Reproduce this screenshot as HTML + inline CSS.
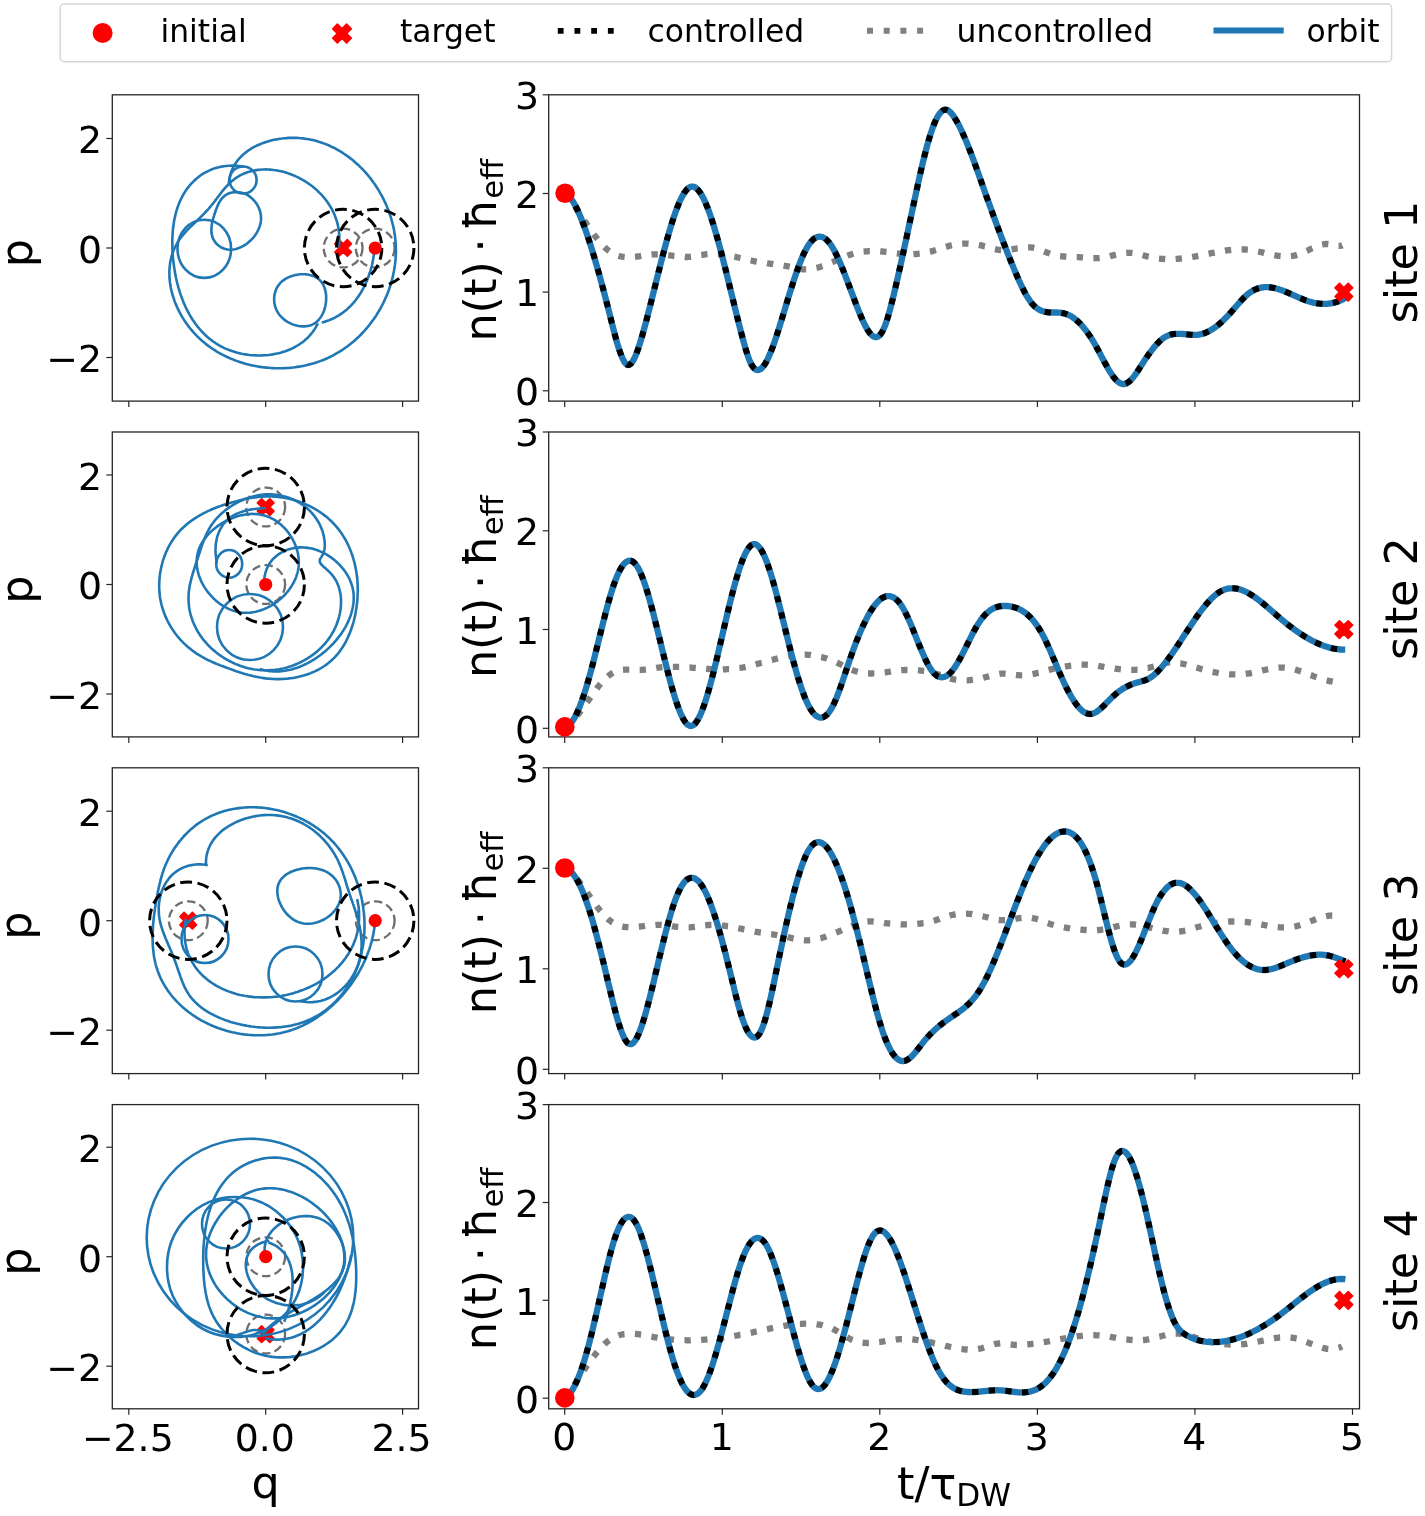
<!DOCTYPE html>
<html><head><meta charset="utf-8"><title>figure</title>
<style>html,body{margin:0;padding:0;background:#fff;overflow:hidden}svg{display:block}</style>
</head><body>
<svg width="1425" height="1516" viewBox="0 0 1425 1516" font-family="'DejaVu Sans', 'Liberation Sans', sans-serif">
<rect width="1425" height="1516" fill="#ffffff"/>
<rect x="112.3" y="94.8" width="306.2" height="306.3" fill="none" stroke="#262626" stroke-width="1.3"/>
<line x1="128.8" y1="401.1" x2="128.8" y2="407.1" stroke="#262626" stroke-width="1.2"/>
<line x1="265.7" y1="401.1" x2="265.7" y2="407.1" stroke="#262626" stroke-width="1.2"/>
<line x1="402.6" y1="401.1" x2="402.6" y2="407.1" stroke="#262626" stroke-width="1.2"/>
<line x1="106.3" y1="357.5" x2="112.3" y2="357.5" stroke="#262626" stroke-width="1.2"/>
<text x="102.0" y="372.3" font-size="37.8" text-anchor="end">−2</text>
<line x1="106.3" y1="248.0" x2="112.3" y2="248.0" stroke="#262626" stroke-width="1.2"/>
<text x="102.0" y="262.8" font-size="37.8" text-anchor="end">0</text>
<line x1="106.3" y1="138.5" x2="112.3" y2="138.5" stroke="#262626" stroke-width="1.2"/>
<text x="102.0" y="153.3" font-size="37.8" text-anchor="end">2</text>
<text x="31.5" y="253.0" font-size="44.5" text-anchor="middle" transform="rotate(-90 31.5 253.0)">p</text>
<rect x="548.7" y="94.8" width="810.8" height="306.3" fill="none" stroke="#262626" stroke-width="1.3"/>
<line x1="564.7" y1="401.1" x2="564.7" y2="407.1" stroke="#262626" stroke-width="1.2"/>
<line x1="722.3" y1="401.1" x2="722.3" y2="407.1" stroke="#262626" stroke-width="1.2"/>
<line x1="879.8" y1="401.1" x2="879.8" y2="407.1" stroke="#262626" stroke-width="1.2"/>
<line x1="1037.4" y1="401.1" x2="1037.4" y2="407.1" stroke="#262626" stroke-width="1.2"/>
<line x1="1194.9" y1="401.1" x2="1194.9" y2="407.1" stroke="#262626" stroke-width="1.2"/>
<line x1="1352.5" y1="401.1" x2="1352.5" y2="407.1" stroke="#262626" stroke-width="1.2"/>
<line x1="542.7" y1="390.8" x2="548.7" y2="390.8" stroke="#262626" stroke-width="1.2"/>
<text x="539.0" y="405.1" font-size="37.8" text-anchor="end">0</text>
<line x1="542.7" y1="292.1" x2="548.7" y2="292.1" stroke="#262626" stroke-width="1.2"/>
<text x="539.0" y="306.4" font-size="37.8" text-anchor="end">1</text>
<line x1="542.7" y1="193.5" x2="548.7" y2="193.5" stroke="#262626" stroke-width="1.2"/>
<text x="539.0" y="207.8" font-size="37.8" text-anchor="end">2</text>
<line x1="542.7" y1="94.8" x2="548.7" y2="94.8" stroke="#262626" stroke-width="1.2"/>
<text x="539.0" y="109.1" font-size="37.8" text-anchor="end">3</text>
<text x="496" y="250.2" font-size="44.5" text-anchor="middle" transform="rotate(-90 496 250.2)">n(t) <tspan dx="-5.5">·</tspan> <tspan dx="-5.5">ħ</tspan><tspan font-size="30.7" dy="6.6">eff</tspan></text>
<text x="1417.0" y="262.0" font-size="44.5" text-anchor="middle" transform="rotate(-90 1417.0 262.0)">site 1</text>
<rect x="112.3" y="432.0" width="306.2" height="304.9" fill="none" stroke="#262626" stroke-width="1.3"/>
<line x1="128.8" y1="736.9" x2="128.8" y2="742.9" stroke="#262626" stroke-width="1.2"/>
<line x1="265.7" y1="736.9" x2="265.7" y2="742.9" stroke="#262626" stroke-width="1.2"/>
<line x1="402.6" y1="736.9" x2="402.6" y2="742.9" stroke="#262626" stroke-width="1.2"/>
<line x1="106.3" y1="694.0" x2="112.3" y2="694.0" stroke="#262626" stroke-width="1.2"/>
<text x="102.0" y="708.8" font-size="37.8" text-anchor="end">−2</text>
<line x1="106.3" y1="584.5" x2="112.3" y2="584.5" stroke="#262626" stroke-width="1.2"/>
<text x="102.0" y="599.2" font-size="37.8" text-anchor="end">0</text>
<line x1="106.3" y1="475.0" x2="112.3" y2="475.0" stroke="#262626" stroke-width="1.2"/>
<text x="102.0" y="489.8" font-size="37.8" text-anchor="end">2</text>
<text x="31.5" y="589.5" font-size="44.5" text-anchor="middle" transform="rotate(-90 31.5 589.5)">p</text>
<rect x="548.7" y="432.0" width="810.8" height="304.9" fill="none" stroke="#262626" stroke-width="1.3"/>
<line x1="564.7" y1="736.9" x2="564.7" y2="742.9" stroke="#262626" stroke-width="1.2"/>
<line x1="722.3" y1="736.9" x2="722.3" y2="742.9" stroke="#262626" stroke-width="1.2"/>
<line x1="879.8" y1="736.9" x2="879.8" y2="742.9" stroke="#262626" stroke-width="1.2"/>
<line x1="1037.4" y1="736.9" x2="1037.4" y2="742.9" stroke="#262626" stroke-width="1.2"/>
<line x1="1194.9" y1="736.9" x2="1194.9" y2="742.9" stroke="#262626" stroke-width="1.2"/>
<line x1="1352.5" y1="736.9" x2="1352.5" y2="742.9" stroke="#262626" stroke-width="1.2"/>
<line x1="542.7" y1="728.3" x2="548.7" y2="728.3" stroke="#262626" stroke-width="1.2"/>
<text x="539.0" y="742.6" font-size="37.8" text-anchor="end">0</text>
<line x1="542.7" y1="629.5" x2="548.7" y2="629.5" stroke="#262626" stroke-width="1.2"/>
<text x="539.0" y="643.8" font-size="37.8" text-anchor="end">1</text>
<line x1="542.7" y1="530.8" x2="548.7" y2="530.8" stroke="#262626" stroke-width="1.2"/>
<text x="539.0" y="545.1" font-size="37.8" text-anchor="end">2</text>
<line x1="542.7" y1="432.0" x2="548.7" y2="432.0" stroke="#262626" stroke-width="1.2"/>
<text x="539.0" y="446.3" font-size="37.8" text-anchor="end">3</text>
<text x="496" y="586.7" font-size="44.5" text-anchor="middle" transform="rotate(-90 496 586.7)">n(t) <tspan dx="-5.5">·</tspan> <tspan dx="-5.5">ħ</tspan><tspan font-size="30.7" dy="6.6">eff</tspan></text>
<text x="1417.0" y="598.5" font-size="44.5" text-anchor="middle" transform="rotate(-90 1417.0 598.5)">site 2</text>
<rect x="112.3" y="767.8" width="306.2" height="305.8" fill="none" stroke="#262626" stroke-width="1.3"/>
<line x1="128.8" y1="1073.6" x2="128.8" y2="1079.6" stroke="#262626" stroke-width="1.2"/>
<line x1="265.7" y1="1073.6" x2="265.7" y2="1079.6" stroke="#262626" stroke-width="1.2"/>
<line x1="402.6" y1="1073.6" x2="402.6" y2="1079.6" stroke="#262626" stroke-width="1.2"/>
<line x1="106.3" y1="1030.2" x2="112.3" y2="1030.2" stroke="#262626" stroke-width="1.2"/>
<text x="102.0" y="1045.0" font-size="37.8" text-anchor="end">−2</text>
<line x1="106.3" y1="920.7" x2="112.3" y2="920.7" stroke="#262626" stroke-width="1.2"/>
<text x="102.0" y="935.5" font-size="37.8" text-anchor="end">0</text>
<line x1="106.3" y1="811.2" x2="112.3" y2="811.2" stroke="#262626" stroke-width="1.2"/>
<text x="102.0" y="826.0" font-size="37.8" text-anchor="end">2</text>
<text x="31.5" y="925.7" font-size="44.5" text-anchor="middle" transform="rotate(-90 31.5 925.7)">p</text>
<rect x="548.7" y="767.8" width="810.8" height="305.8" fill="none" stroke="#262626" stroke-width="1.3"/>
<line x1="564.7" y1="1073.6" x2="564.7" y2="1079.6" stroke="#262626" stroke-width="1.2"/>
<line x1="722.3" y1="1073.6" x2="722.3" y2="1079.6" stroke="#262626" stroke-width="1.2"/>
<line x1="879.8" y1="1073.6" x2="879.8" y2="1079.6" stroke="#262626" stroke-width="1.2"/>
<line x1="1037.4" y1="1073.6" x2="1037.4" y2="1079.6" stroke="#262626" stroke-width="1.2"/>
<line x1="1194.9" y1="1073.6" x2="1194.9" y2="1079.6" stroke="#262626" stroke-width="1.2"/>
<line x1="1352.5" y1="1073.6" x2="1352.5" y2="1079.6" stroke="#262626" stroke-width="1.2"/>
<line x1="542.7" y1="1069.3" x2="548.7" y2="1069.3" stroke="#262626" stroke-width="1.2"/>
<text x="539.0" y="1083.6" font-size="37.8" text-anchor="end">0</text>
<line x1="542.7" y1="968.8" x2="548.7" y2="968.8" stroke="#262626" stroke-width="1.2"/>
<text x="539.0" y="983.1" font-size="37.8" text-anchor="end">1</text>
<line x1="542.7" y1="868.3" x2="548.7" y2="868.3" stroke="#262626" stroke-width="1.2"/>
<text x="539.0" y="882.6" font-size="37.8" text-anchor="end">2</text>
<line x1="542.7" y1="767.8" x2="548.7" y2="767.8" stroke="#262626" stroke-width="1.2"/>
<text x="539.0" y="782.1" font-size="37.8" text-anchor="end">3</text>
<text x="496" y="922.9" font-size="44.5" text-anchor="middle" transform="rotate(-90 496 922.9)">n(t) <tspan dx="-5.5">·</tspan> <tspan dx="-5.5">ħ</tspan><tspan font-size="30.7" dy="6.6">eff</tspan></text>
<text x="1417.0" y="934.7" font-size="44.5" text-anchor="middle" transform="rotate(-90 1417.0 934.7)">site 3</text>
<rect x="112.3" y="1104.6" width="306.2" height="304.2" fill="none" stroke="#262626" stroke-width="1.3"/>
<line x1="128.8" y1="1408.8" x2="128.8" y2="1414.8" stroke="#262626" stroke-width="1.2"/>
<line x1="265.7" y1="1408.8" x2="265.7" y2="1414.8" stroke="#262626" stroke-width="1.2"/>
<line x1="402.6" y1="1408.8" x2="402.6" y2="1414.8" stroke="#262626" stroke-width="1.2"/>
<line x1="106.3" y1="1366.2" x2="112.3" y2="1366.2" stroke="#262626" stroke-width="1.2"/>
<text x="102.0" y="1381.0" font-size="37.8" text-anchor="end">−2</text>
<line x1="106.3" y1="1256.7" x2="112.3" y2="1256.7" stroke="#262626" stroke-width="1.2"/>
<text x="102.0" y="1271.5" font-size="37.8" text-anchor="end">0</text>
<line x1="106.3" y1="1147.2" x2="112.3" y2="1147.2" stroke="#262626" stroke-width="1.2"/>
<text x="102.0" y="1162.0" font-size="37.8" text-anchor="end">2</text>
<text x="31.5" y="1261.7" font-size="44.5" text-anchor="middle" transform="rotate(-90 31.5 1261.7)">p</text>
<rect x="548.7" y="1104.6" width="810.8" height="304.2" fill="none" stroke="#262626" stroke-width="1.3"/>
<line x1="564.7" y1="1408.8" x2="564.7" y2="1414.8" stroke="#262626" stroke-width="1.2"/>
<line x1="722.3" y1="1408.8" x2="722.3" y2="1414.8" stroke="#262626" stroke-width="1.2"/>
<line x1="879.8" y1="1408.8" x2="879.8" y2="1414.8" stroke="#262626" stroke-width="1.2"/>
<line x1="1037.4" y1="1408.8" x2="1037.4" y2="1414.8" stroke="#262626" stroke-width="1.2"/>
<line x1="1194.9" y1="1408.8" x2="1194.9" y2="1414.8" stroke="#262626" stroke-width="1.2"/>
<line x1="1352.5" y1="1408.8" x2="1352.5" y2="1414.8" stroke="#262626" stroke-width="1.2"/>
<line x1="542.7" y1="1398.2" x2="548.7" y2="1398.2" stroke="#262626" stroke-width="1.2"/>
<text x="539.0" y="1412.5" font-size="37.8" text-anchor="end">0</text>
<line x1="542.7" y1="1300.3" x2="548.7" y2="1300.3" stroke="#262626" stroke-width="1.2"/>
<text x="539.0" y="1314.6" font-size="37.8" text-anchor="end">1</text>
<line x1="542.7" y1="1202.5" x2="548.7" y2="1202.5" stroke="#262626" stroke-width="1.2"/>
<text x="539.0" y="1216.8" font-size="37.8" text-anchor="end">2</text>
<line x1="542.7" y1="1104.6" x2="548.7" y2="1104.6" stroke="#262626" stroke-width="1.2"/>
<text x="539.0" y="1118.9" font-size="37.8" text-anchor="end">3</text>
<text x="496" y="1258.9" font-size="44.5" text-anchor="middle" transform="rotate(-90 496 1258.9)">n(t) <tspan dx="-5.5">·</tspan> <tspan dx="-5.5">ħ</tspan><tspan font-size="30.7" dy="6.6">eff</tspan></text>
<text x="1417.0" y="1270.7" font-size="44.5" text-anchor="middle" transform="rotate(-90 1417.0 1270.7)">site 4</text>
<text x="127.8" y="1450.8" font-size="37.8" text-anchor="middle">−2.5</text>
<text x="264.7" y="1450.8" font-size="37.8" text-anchor="middle">0.0</text>
<text x="401.6" y="1450.8" font-size="37.8" text-anchor="middle">2.5</text>
<text x="564.2" y="1449.5" font-size="37.8" text-anchor="middle">0</text>
<text x="721.8" y="1449.5" font-size="37.8" text-anchor="middle">1</text>
<text x="879.3" y="1449.5" font-size="37.8" text-anchor="middle">2</text>
<text x="1036.9" y="1449.5" font-size="37.8" text-anchor="middle">3</text>
<text x="1194.4" y="1449.5" font-size="37.8" text-anchor="middle">4</text>
<text x="1352.0" y="1449.5" font-size="37.8" text-anchor="middle">5</text>
<text x="265.7" y="1498.3" font-size="44.5" text-anchor="middle">q</text>
<text x="954" y="1499" font-size="44.5" text-anchor="middle">t/τ<tspan font-size="31.1" dy="7">DW</tspan></text>
<path d="M565.1,193.2 L566.1,194.5 L567.1,195.7 L568.1,197.0 L569.1,198.3 L570.1,199.7 L571.1,201.1 L572.1,202.5 L573.1,203.9 L574.1,205.3 L575.1,206.8 L576.1,208.3 L577.1,209.8 L578.1,211.2 L579.1,212.8 L580.1,214.3 L581.1,215.8 L582.1,217.3 L583.1,218.8 L584.1,220.3 L585.1,221.8 L586.1,223.3 L587.1,224.8 L588.1,226.3 L589.1,227.7 L590.1,229.2 L591.1,230.6 L592.1,232.0 L593.1,233.4 L594.1,234.8 L595.1,236.1 L596.1,237.4 L597.1,238.7 L598.1,240.0 L599.1,241.2 L600.1,242.4 L601.1,243.5 L602.1,244.6 L603.1,245.7 L604.1,246.7 L605.1,247.7 L606.1,248.6 L607.1,249.4 L608.1,250.3 L609.1,251.0 L610.1,251.7 L611.1,252.4 L612.1,253.0 L613.1,253.6 L614.1,254.1 L615.1,254.5 L616.1,255.0 L617.1,255.3 L618.1,255.7 L619.1,256.0 L620.1,256.2 L621.1,256.5 L622.1,256.7 L623.1,256.8 L624.1,257.0 L625.1,257.1 L626.1,257.1 L627.1,257.2 L628.1,257.2 L629.1,257.2 L630.1,257.2 L631.1,257.1 L632.1,257.1 L633.1,257.0 L634.1,256.9 L635.1,256.8 L636.1,256.7 L637.1,256.6 L638.1,256.4 L639.1,256.3 L640.1,256.1 L641.1,256.0 L642.1,255.8 L643.1,255.7 L644.1,255.5 L645.1,255.4 L646.1,255.2 L647.1,255.1 L648.1,254.9 L649.1,254.8 L650.1,254.7 L651.1,254.6 L652.1,254.5 L653.1,254.4 L654.1,254.3 L655.1,254.3 L656.1,254.3 L657.1,254.3 L658.1,254.3 L659.1,254.3 L660.1,254.4 L661.1,254.4 L662.1,254.5 L663.1,254.6 L664.1,254.7 L665.1,254.8 L666.1,254.9 L667.1,255.0 L668.1,255.2 L669.1,255.3 L670.1,255.4 L671.1,255.6 L672.1,255.7 L673.1,255.8 L674.1,256.0 L675.1,256.1 L676.1,256.2 L677.1,256.4 L678.1,256.5 L679.1,256.6 L680.1,256.7 L681.1,256.8 L682.1,256.8 L683.1,256.9 L684.1,256.9 L685.1,257.0 L686.1,257.0 L687.1,257.0 L688.1,256.9 L689.1,256.9 L690.1,256.8 L691.1,256.7 L692.1,256.6 L693.1,256.5 L694.1,256.3 L695.1,256.2 L696.1,256.0 L697.1,255.8 L698.1,255.6 L699.1,255.4 L700.1,255.2 L701.1,255.0 L702.1,254.9 L703.1,254.7 L704.1,254.5 L705.1,254.4 L706.1,254.2 L707.1,254.1 L708.1,254.0 L709.1,254.0 L710.1,253.9 L711.1,253.9 L712.1,253.8 L713.1,253.8 L714.1,253.8 L715.1,253.9 L716.1,253.9 L717.1,254.0 L718.1,254.0 L719.1,254.1 L720.1,254.2 L721.1,254.3 L722.1,254.4 L723.1,254.6 L724.1,254.7 L725.1,254.9 L726.1,255.0 L727.1,255.2 L728.1,255.4 L729.1,255.5 L730.1,255.7 L731.1,255.9 L732.1,256.1 L733.1,256.4 L734.1,256.6 L735.1,256.8 L736.1,257.0 L737.1,257.3 L738.1,257.5 L739.1,257.7 L740.1,258.0 L741.1,258.2 L742.1,258.4 L743.1,258.7 L744.1,258.9 L745.1,259.2 L746.1,259.4 L747.1,259.6 L748.1,259.9 L749.1,260.1 L750.1,260.3 L751.1,260.5 L752.1,260.7 L753.1,261.0 L754.1,261.2 L755.1,261.4 L756.1,261.5 L757.1,261.7 L758.1,261.9 L759.1,262.1 L760.1,262.2 L761.1,262.4 L762.1,262.6 L763.1,262.7 L764.1,262.8 L765.1,263.0 L766.1,263.1 L767.1,263.3 L768.1,263.4 L769.1,263.5 L770.1,263.7 L771.1,263.8 L772.1,263.9 L773.1,264.0 L774.1,264.2 L775.1,264.3 L776.1,264.4 L777.1,264.6 L778.1,264.7 L779.1,264.9 L780.1,265.0 L781.1,265.2 L782.1,265.3 L783.1,265.5 L784.1,265.7 L785.1,265.8 L786.1,266.0 L787.1,266.2 L788.1,266.4 L789.1,266.6 L790.1,266.8 L791.1,267.0 L792.1,267.3 L793.1,267.5 L794.1,267.7 L795.1,267.9 L796.1,268.2 L797.1,268.4 L798.1,268.6 L799.1,268.7 L800.1,268.9 L801.1,269.0 L802.1,269.2 L803.1,269.3 L804.1,269.3 L805.1,269.4 L806.1,269.4 L807.1,269.4 L808.1,269.3 L809.1,269.3 L810.1,269.2 L811.1,269.0 L812.1,268.9 L813.1,268.7 L814.1,268.5 L815.1,268.3 L816.1,268.0 L817.1,267.8 L818.1,267.5 L819.1,267.2 L820.1,266.9 L821.1,266.6 L822.1,266.2 L823.1,265.9 L824.1,265.5 L825.1,265.1 L826.1,264.7 L827.1,264.3 L828.1,263.9 L829.1,263.5 L830.1,263.1 L831.1,262.6 L832.1,262.2 L833.1,261.8 L834.1,261.3 L835.1,260.9 L836.1,260.4 L837.1,260.0 L838.1,259.5 L839.1,259.1 L840.1,258.7 L841.1,258.2 L842.1,257.8 L843.1,257.4 L844.1,257.0 L845.1,256.6 L846.1,256.2 L847.1,255.8 L848.1,255.4 L849.1,255.1 L850.1,254.7 L851.1,254.4 L852.1,254.1 L853.1,253.8 L854.1,253.5 L855.1,253.2 L856.1,253.0 L857.1,252.7 L858.1,252.5 L859.1,252.3 L860.1,252.1 L861.1,252.0 L862.1,251.8 L863.1,251.7 L864.1,251.6 L865.1,251.4 L866.1,251.4 L867.1,251.3 L868.1,251.2 L869.1,251.1 L870.1,251.1 L871.1,251.1 L872.1,251.0 L873.1,251.0 L874.1,251.0 L875.1,251.1 L876.1,251.1 L877.1,251.1 L878.1,251.2 L879.1,251.2 L880.1,251.3 L881.1,251.4 L882.1,251.5 L883.1,251.6 L884.1,251.7 L885.1,251.8 L886.1,251.9 L887.1,252.0 L888.1,252.2 L889.1,252.3 L890.1,252.4 L891.1,252.6 L892.1,252.7 L893.1,252.9 L894.1,253.0 L895.1,253.2 L896.1,253.3 L897.1,253.4 L898.1,253.6 L899.1,253.7 L900.1,253.8 L901.1,253.9 L902.1,254.0 L903.1,254.1 L904.1,254.1 L905.1,254.2 L906.1,254.2 L907.1,254.3 L908.1,254.3 L909.1,254.3 L910.1,254.3 L911.1,254.3 L912.1,254.2 L913.1,254.2 L914.1,254.1 L915.1,254.1 L916.1,254.0 L917.1,253.9 L918.1,253.8 L919.1,253.7 L920.1,253.6 L921.1,253.4 L922.1,253.3 L923.1,253.1 L924.1,253.0 L925.1,252.8 L926.1,252.6 L927.1,252.4 L928.1,252.2 L929.1,251.9 L930.1,251.7 L931.1,251.4 L932.1,251.2 L933.1,250.9 L934.1,250.6 L935.1,250.3 L936.1,250.0 L937.1,249.7 L938.1,249.4 L939.1,249.1 L940.1,248.7 L941.1,248.4 L942.1,248.1 L943.1,247.8 L944.1,247.4 L945.1,247.1 L946.1,246.8 L947.1,246.5 L948.1,246.2 L949.1,245.9 L950.1,245.7 L951.1,245.4 L952.1,245.2 L953.1,245.0 L954.1,244.8 L955.1,244.6 L956.1,244.4 L957.1,244.3 L958.1,244.1 L959.1,244.0 L960.1,243.9 L961.1,243.8 L962.1,243.8 L963.1,243.7 L964.1,243.7 L965.1,243.7 L966.1,243.7 L967.1,243.7 L968.1,243.7 L969.1,243.8 L970.1,243.8 L971.1,243.9 L972.1,244.0 L973.1,244.1 L974.1,244.2 L975.1,244.3 L976.1,244.5 L977.1,244.6 L978.1,244.8 L979.1,245.0 L980.1,245.2 L981.1,245.4 L982.1,245.7 L983.1,245.9 L984.1,246.2 L985.1,246.4 L986.1,246.7 L987.1,247.0 L988.1,247.3 L989.1,247.6 L990.1,247.9 L991.1,248.2 L992.1,248.4 L993.1,248.7 L994.1,249.0 L995.1,249.2 L996.1,249.4 L997.1,249.6 L998.1,249.8 L999.1,249.9 L1000.1,250.0 L1001.1,250.1 L1002.1,250.2 L1003.1,250.2 L1004.1,250.2 L1005.1,250.1 L1006.1,250.1 L1007.1,250.0 L1008.1,249.9 L1009.1,249.7 L1010.1,249.6 L1011.1,249.5 L1012.1,249.3 L1013.1,249.1 L1014.1,249.0 L1015.1,248.8 L1016.1,248.6 L1017.1,248.4 L1018.1,248.3 L1019.1,248.1 L1020.1,248.0 L1021.1,247.8 L1022.1,247.7 L1023.1,247.6 L1024.1,247.5 L1025.1,247.4 L1026.1,247.3 L1027.1,247.3 L1028.1,247.3 L1029.1,247.3 L1030.1,247.4 L1031.1,247.4 L1032.1,247.6 L1033.1,247.7 L1034.1,247.9 L1035.1,248.1 L1036.1,248.4 L1037.1,248.7 L1038.1,249.0 L1039.1,249.4 L1040.1,249.8 L1041.1,250.2 L1042.1,250.6 L1043.1,251.0 L1044.1,251.4 L1045.1,251.8 L1046.1,252.2 L1047.1,252.6 L1048.1,253.0 L1049.1,253.3 L1050.1,253.7 L1051.1,254.0 L1052.1,254.3 L1053.1,254.6 L1054.1,254.9 L1055.1,255.1 L1056.1,255.3 L1057.1,255.5 L1058.1,255.7 L1059.1,255.9 L1060.1,256.0 L1061.1,256.1 L1062.1,256.3 L1063.1,256.4 L1064.1,256.5 L1065.1,256.6 L1066.1,256.6 L1067.1,256.7 L1068.1,256.8 L1069.1,256.8 L1070.1,256.9 L1071.1,256.9 L1072.1,257.0 L1073.1,257.0 L1074.1,257.0 L1075.1,257.1 L1076.1,257.1 L1077.1,257.1 L1078.1,257.2 L1079.1,257.2 L1080.1,257.3 L1081.1,257.3 L1082.1,257.4 L1083.1,257.5 L1084.1,257.5 L1085.1,257.6 L1086.1,257.7 L1087.1,257.8 L1088.1,257.9 L1089.1,257.9 L1090.1,258.0 L1091.1,258.1 L1092.1,258.1 L1093.1,258.2 L1094.1,258.2 L1095.1,258.2 L1096.1,258.2 L1097.1,258.2 L1098.1,258.1 L1099.1,258.1 L1100.1,258.0 L1101.1,257.9 L1102.1,257.7 L1103.1,257.6 L1104.1,257.4 L1105.1,257.2 L1106.1,257.0 L1107.1,256.8 L1108.1,256.6 L1109.1,256.4 L1110.1,256.1 L1111.1,255.9 L1112.1,255.6 L1113.1,255.4 L1114.1,255.2 L1115.1,254.9 L1116.1,254.7 L1117.1,254.5 L1118.1,254.2 L1119.1,254.0 L1120.1,253.8 L1121.1,253.6 L1122.1,253.4 L1123.1,253.3 L1124.1,253.1 L1125.1,253.0 L1126.1,252.9 L1127.1,252.8 L1128.1,252.8 L1129.1,252.8 L1130.1,252.8 L1131.1,252.8 L1132.1,252.9 L1133.1,253.0 L1134.1,253.1 L1135.1,253.3 L1136.1,253.4 L1137.1,253.7 L1138.1,253.9 L1139.1,254.1 L1140.1,254.4 L1141.1,254.7 L1142.1,254.9 L1143.1,255.2 L1144.1,255.5 L1145.1,255.8 L1146.1,256.1 L1147.1,256.3 L1148.1,256.6 L1149.1,256.8 L1150.1,257.1 L1151.1,257.3 L1152.1,257.5 L1153.1,257.7 L1154.1,257.9 L1155.1,258.0 L1156.1,258.2 L1157.1,258.3 L1158.1,258.5 L1159.1,258.6 L1160.1,258.7 L1161.1,258.8 L1162.1,258.9 L1163.1,258.9 L1164.1,259.0 L1165.1,259.0 L1166.1,259.1 L1167.1,259.1 L1168.1,259.1 L1169.1,259.1 L1170.1,259.1 L1171.1,259.1 L1172.1,259.1 L1173.1,259.1 L1174.1,259.0 L1175.1,259.0 L1176.1,258.9 L1177.1,258.9 L1178.1,258.8 L1179.1,258.7 L1180.1,258.6 L1181.1,258.5 L1182.1,258.4 L1183.1,258.3 L1184.1,258.2 L1185.1,258.1 L1186.1,257.9 L1187.1,257.8 L1188.1,257.6 L1189.1,257.5 L1190.1,257.3 L1191.1,257.2 L1192.1,257.0 L1193.1,256.8 L1194.1,256.7 L1195.1,256.5 L1196.1,256.3 L1197.1,256.1 L1198.1,255.9 L1199.1,255.7 L1200.1,255.5 L1201.1,255.3 L1202.1,255.1 L1203.1,254.9 L1204.1,254.7 L1205.1,254.5 L1206.1,254.3 L1207.1,254.1 L1208.1,253.9 L1209.1,253.7 L1210.1,253.4 L1211.1,253.2 L1212.1,253.0 L1213.1,252.8 L1214.1,252.6 L1215.1,252.4 L1216.1,252.2 L1217.1,252.0 L1218.1,251.8 L1219.1,251.6 L1220.1,251.5 L1221.1,251.3 L1222.1,251.1 L1223.1,251.0 L1224.1,250.8 L1225.1,250.6 L1226.1,250.5 L1227.1,250.4 L1228.1,250.2 L1229.1,250.1 L1230.1,250.0 L1231.1,249.9 L1232.1,249.8 L1233.1,249.7 L1234.1,249.6 L1235.1,249.5 L1236.1,249.5 L1237.1,249.4 L1238.1,249.4 L1239.1,249.4 L1240.1,249.4 L1241.1,249.4 L1242.1,249.4 L1243.1,249.4 L1244.1,249.5 L1245.1,249.5 L1246.1,249.6 L1247.1,249.7 L1248.1,249.8 L1249.1,249.9 L1250.1,250.0 L1251.1,250.2 L1252.1,250.3 L1253.1,250.5 L1254.1,250.7 L1255.1,250.9 L1256.1,251.1 L1257.1,251.3 L1258.1,251.5 L1259.1,251.7 L1260.1,252.0 L1261.1,252.2 L1262.1,252.4 L1263.1,252.7 L1264.1,252.9 L1265.1,253.2 L1266.1,253.4 L1267.1,253.6 L1268.1,253.9 L1269.1,254.1 L1270.1,254.3 L1271.1,254.5 L1272.1,254.7 L1273.1,254.9 L1274.1,255.1 L1275.1,255.3 L1276.1,255.5 L1277.1,255.7 L1278.1,255.8 L1279.1,255.9 L1280.1,256.1 L1281.1,256.2 L1282.1,256.3 L1283.1,256.3 L1284.1,256.4 L1285.1,256.4 L1286.1,256.4 L1287.1,256.4 L1288.1,256.4 L1289.1,256.3 L1290.1,256.2 L1291.1,256.1 L1292.1,256.0 L1293.1,255.8 L1294.1,255.7 L1295.1,255.4 L1296.1,255.2 L1297.1,254.9 L1298.1,254.6 L1299.1,254.3 L1300.1,253.9 L1301.1,253.5 L1302.1,253.1 L1303.1,252.6 L1304.1,252.2 L1305.1,251.7 L1306.1,251.2 L1307.1,250.8 L1308.1,250.3 L1309.1,249.8 L1310.1,249.3 L1311.1,248.8 L1312.1,248.3 L1313.1,247.9 L1314.1,247.4 L1315.1,247.0 L1316.1,246.5 L1317.1,246.1 L1318.1,245.8 L1319.1,245.4 L1320.1,245.1 L1321.1,244.8 L1322.1,244.6 L1323.1,244.4 L1324.1,244.2 L1325.1,244.1 L1326.1,244.0 L1327.1,244.0 L1328.1,244.0 L1329.1,244.1 L1330.1,244.3 L1331.1,244.4 L1332.1,244.7 L1333.1,244.9 L1334.1,245.2 L1335.1,245.4 L1336.1,245.6 L1337.1,245.8 L1338.1,245.9 L1339.1,245.9 L1340.1,245.9 L1341.1,245.7 L1342.1,245.5 L1342.3,245.4" fill="none" stroke="#808080" stroke-width="6.3" stroke-dasharray="6.3 10.4"/>
<path d="M565.1,193.2 L566.1,193.8 L567.1,194.5 L568.1,195.4 L569.1,196.4 L570.1,197.6 L571.1,198.9 L572.1,200.3 L573.1,201.8 L574.1,203.5 L575.1,205.3 L576.1,207.2 L577.1,209.2 L578.1,211.3 L579.1,213.6 L580.1,215.9 L581.1,218.3 L582.1,220.8 L583.1,223.4 L584.1,226.1 L585.1,228.9 L586.1,231.7 L587.1,234.6 L588.1,237.6 L589.1,240.6 L590.1,243.7 L591.1,246.9 L592.1,250.1 L593.1,253.4 L594.1,256.7 L595.1,260.1 L596.1,263.5 L597.1,267.0 L598.1,270.5 L599.1,274.0 L600.1,277.7 L601.1,281.3 L602.1,285.0 L603.1,288.8 L604.1,292.6 L605.1,296.4 L606.1,300.2 L607.1,304.1 L608.1,308.0 L609.1,312.0 L610.1,316.0 L611.1,320.0 L612.1,324.0 L613.1,327.9 L614.1,331.8 L615.1,335.6 L616.1,339.2 L617.1,342.8 L618.1,346.1 L619.1,349.3 L620.1,352.2 L621.1,354.9 L622.1,357.4 L623.1,359.5 L624.1,361.4 L625.1,362.8 L626.1,364.0 L627.1,364.7 L628.1,365.0 L629.1,364.9 L630.1,364.3 L631.1,363.5 L632.1,362.2 L633.1,360.7 L634.1,358.9 L635.1,356.7 L636.1,354.4 L637.1,351.7 L638.1,348.9 L639.1,345.9 L640.1,342.8 L641.1,339.5 L642.1,336.1 L643.1,332.5 L644.1,328.9 L645.1,325.3 L646.1,321.5 L647.1,317.7 L648.1,313.8 L649.1,309.9 L650.1,305.9 L651.1,302.0 L652.1,298.0 L653.1,294.0 L654.1,289.9 L655.1,285.9 L656.1,281.9 L657.1,277.9 L658.1,273.9 L659.1,269.9 L660.1,265.9 L661.1,262.0 L662.1,258.1 L663.1,254.2 L664.1,250.4 L665.1,246.7 L666.1,243.0 L667.1,239.3 L668.1,235.8 L669.1,232.3 L670.1,228.9 L671.1,225.6 L672.1,222.3 L673.1,219.2 L674.1,216.2 L675.1,213.3 L676.1,210.5 L677.1,207.8 L678.1,205.3 L679.1,202.9 L680.1,200.6 L681.1,198.5 L682.1,196.6 L683.1,194.8 L684.1,193.1 L685.1,191.7 L686.1,190.4 L687.1,189.2 L688.1,188.3 L689.1,187.6 L690.1,187.0 L691.1,186.7 L692.1,186.6 L693.1,186.7 L694.1,186.9 L695.1,187.4 L696.1,188.1 L697.1,189.0 L698.1,190.0 L699.1,191.2 L700.1,192.6 L701.1,194.1 L702.1,195.9 L703.1,197.7 L704.1,199.7 L705.1,201.9 L706.1,204.2 L707.1,206.6 L708.1,209.2 L709.1,211.9 L710.1,214.7 L711.1,217.6 L712.1,220.7 L713.1,223.8 L714.1,227.0 L715.1,230.4 L716.1,233.8 L717.1,237.3 L718.1,240.9 L719.1,244.5 L720.1,248.2 L721.1,252.0 L722.1,255.8 L723.1,259.7 L724.1,263.7 L725.1,267.6 L726.1,271.6 L727.1,275.7 L728.1,279.8 L729.1,283.8 L730.1,288.0 L731.1,292.1 L732.1,296.2 L733.1,300.3 L734.1,304.4 L735.1,308.5 L736.1,312.5 L737.1,316.6 L738.1,320.6 L739.1,324.5 L740.1,328.5 L741.1,332.3 L742.1,336.1 L743.1,339.9 L744.1,343.5 L745.1,347.1 L746.1,350.4 L747.1,353.6 L748.1,356.6 L749.1,359.3 L750.1,361.8 L751.1,363.9 L752.1,365.6 L753.1,367.1 L754.1,368.2 L755.1,369.1 L756.1,369.7 L757.1,370.0 L758.1,370.0 L759.1,369.8 L760.1,369.3 L761.1,368.7 L762.1,367.7 L763.1,366.6 L764.1,365.3 L765.1,363.8 L766.1,362.1 L767.1,360.2 L768.1,358.1 L769.1,355.9 L770.1,353.6 L771.1,351.1 L772.1,348.6 L773.1,345.9 L774.1,343.1 L775.1,340.2 L776.1,337.2 L777.1,334.1 L778.1,331.0 L779.1,327.9 L780.1,324.7 L781.1,321.4 L782.1,318.2 L783.1,314.9 L784.1,311.6 L785.1,308.3 L786.1,305.0 L787.1,301.7 L788.1,298.4 L789.1,295.2 L790.1,292.0 L791.1,288.8 L792.1,285.6 L793.1,282.5 L794.1,279.4 L795.1,276.4 L796.1,273.5 L797.1,270.6 L798.1,267.9 L799.1,265.2 L800.1,262.5 L801.1,260.0 L802.1,257.6 L803.1,255.3 L804.1,253.1 L805.1,251.1 L806.1,249.2 L807.1,247.4 L808.1,245.7 L809.1,244.2 L810.1,242.8 L811.1,241.6 L812.1,240.5 L813.1,239.5 L814.1,238.7 L815.1,238.0 L816.1,237.5 L817.1,237.1 L818.1,236.8 L819.1,236.7 L820.1,236.7 L821.1,236.8 L822.1,237.0 L823.1,237.4 L824.1,238.0 L825.1,238.6 L826.1,239.4 L827.1,240.3 L828.1,241.4 L829.1,242.5 L830.1,243.8 L831.1,245.3 L832.1,246.8 L833.1,248.5 L834.1,250.3 L835.1,252.1 L836.1,254.1 L837.1,256.2 L838.1,258.3 L839.1,260.5 L840.1,262.8 L841.1,265.2 L842.1,267.6 L843.1,270.1 L844.1,272.6 L845.1,275.2 L846.1,277.8 L847.1,280.4 L848.1,283.0 L849.1,285.7 L850.1,288.4 L851.1,291.0 L852.1,293.7 L853.1,296.4 L854.1,299.0 L855.1,301.7 L856.1,304.3 L857.1,306.9 L858.1,309.4 L859.1,311.9 L860.1,314.3 L861.1,316.7 L862.1,319.0 L863.1,321.2 L864.1,323.3 L865.1,325.4 L866.1,327.2 L867.1,329.0 L868.1,330.6 L869.1,332.1 L870.1,333.4 L871.1,334.5 L872.1,335.4 L873.1,336.2 L874.1,336.7 L875.1,337.0 L876.1,337.1 L877.1,336.9 L878.1,336.5 L879.1,335.8 L880.1,334.8 L881.1,333.5 L882.1,332.0 L883.1,330.1 L884.1,327.9 L885.1,325.4 L886.1,322.6 L887.1,319.6 L888.1,316.3 L889.1,312.8 L890.1,309.2 L891.1,305.4 L892.1,301.4 L893.1,297.4 L894.1,293.2 L895.1,289.0 L896.1,284.8 L897.1,280.4 L898.1,276.0 L899.1,271.6 L900.1,267.1 L901.1,262.6 L902.1,258.0 L903.1,253.5 L904.1,248.8 L905.1,244.2 L906.1,239.6 L907.1,234.9 L908.1,230.2 L909.1,225.5 L910.1,220.8 L911.1,216.1 L912.1,211.4 L913.1,206.7 L914.1,202.0 L915.1,197.3 L916.1,192.6 L917.1,188.0 L918.1,183.4 L919.1,178.9 L920.1,174.4 L921.1,170.1 L922.1,165.8 L923.1,161.5 L924.1,157.4 L925.1,153.4 L926.1,149.6 L927.1,145.8 L928.1,142.2 L929.1,138.8 L930.1,135.5 L931.1,132.4 L932.1,129.4 L933.1,126.7 L934.1,124.1 L935.1,121.7 L936.1,119.6 L937.1,117.6 L938.1,115.9 L939.1,114.3 L940.1,113.0 L941.1,111.9 L942.1,111.0 L943.1,110.3 L944.1,109.9 L945.1,109.7 L946.1,109.7 L947.1,110.0 L948.1,110.4 L949.1,111.1 L950.1,112.0 L951.1,113.0 L952.1,114.2 L953.1,115.5 L954.1,117.0 L955.1,118.6 L956.1,120.2 L957.1,122.0 L958.1,123.8 L959.1,125.7 L960.1,127.7 L961.1,129.8 L962.1,131.9 L963.1,134.1 L964.1,136.4 L965.1,138.7 L966.1,141.1 L967.1,143.5 L968.1,146.0 L969.1,148.5 L970.1,151.1 L971.1,153.7 L972.1,156.4 L973.1,159.0 L974.1,161.7 L975.1,164.5 L976.1,167.2 L977.1,170.0 L978.1,172.8 L979.1,175.6 L980.1,178.5 L981.1,181.3 L982.1,184.1 L983.1,186.9 L984.1,189.8 L985.1,192.6 L986.1,195.4 L987.1,198.2 L988.1,201.0 L989.1,203.7 L990.1,206.5 L991.1,209.3 L992.1,212.0 L993.1,214.8 L994.1,217.5 L995.1,220.2 L996.1,222.9 L997.1,225.6 L998.1,228.3 L999.1,231.0 L1000.1,233.6 L1001.1,236.3 L1002.1,238.9 L1003.1,241.5 L1004.1,244.1 L1005.1,246.7 L1006.1,249.2 L1007.1,251.8 L1008.1,254.3 L1009.1,256.8 L1010.1,259.3 L1011.1,261.8 L1012.1,264.2 L1013.1,266.7 L1014.1,269.1 L1015.1,271.5 L1016.1,273.8 L1017.1,276.2 L1018.1,278.5 L1019.1,280.7 L1020.1,282.9 L1021.1,285.0 L1022.1,287.1 L1023.1,289.1 L1024.1,291.1 L1025.1,293.0 L1026.1,294.8 L1027.1,296.5 L1028.1,298.1 L1029.1,299.6 L1030.1,301.1 L1031.1,302.4 L1032.1,303.7 L1033.1,304.8 L1034.1,305.8 L1035.1,306.8 L1036.1,307.6 L1037.1,308.4 L1038.1,309.0 L1039.1,309.6 L1040.1,310.2 L1041.1,310.6 L1042.1,311.0 L1043.1,311.3 L1044.1,311.6 L1045.1,311.8 L1046.1,312.0 L1047.1,312.2 L1048.1,312.3 L1049.1,312.4 L1050.1,312.4 L1051.1,312.5 L1052.1,312.5 L1053.1,312.5 L1054.1,312.5 L1055.1,312.5 L1056.1,312.5 L1057.1,312.6 L1058.1,312.6 L1059.1,312.7 L1060.1,312.7 L1061.1,312.8 L1062.1,313.0 L1063.1,313.2 L1064.1,313.4 L1065.1,313.7 L1066.1,314.0 L1067.1,314.4 L1068.1,314.8 L1069.1,315.2 L1070.1,315.8 L1071.1,316.3 L1072.1,316.9 L1073.1,317.6 L1074.1,318.3 L1075.1,319.1 L1076.1,319.9 L1077.1,320.8 L1078.1,321.7 L1079.1,322.6 L1080.1,323.6 L1081.1,324.7 L1082.1,325.8 L1083.1,327.0 L1084.1,328.2 L1085.1,329.4 L1086.1,330.7 L1087.1,332.1 L1088.1,333.4 L1089.1,334.9 L1090.1,336.4 L1091.1,337.9 L1092.1,339.5 L1093.1,341.2 L1094.1,342.8 L1095.1,344.6 L1096.1,346.3 L1097.1,348.2 L1098.1,350.0 L1099.1,351.9 L1100.1,353.8 L1101.1,355.7 L1102.1,357.6 L1103.1,359.5 L1104.1,361.4 L1105.1,363.2 L1106.1,365.0 L1107.1,366.8 L1108.1,368.6 L1109.1,370.3 L1110.1,371.9 L1111.1,373.5 L1112.1,374.9 L1113.1,376.4 L1114.1,377.7 L1115.1,378.9 L1116.1,380.0 L1117.1,381.0 L1118.1,381.8 L1119.1,382.6 L1120.1,383.2 L1121.1,383.6 L1122.1,383.9 L1123.1,384.1 L1124.1,384.0 L1125.1,383.9 L1126.1,383.5 L1127.1,383.0 L1128.1,382.3 L1129.1,381.6 L1130.1,380.7 L1131.1,379.7 L1132.1,378.6 L1133.1,377.4 L1134.1,376.1 L1135.1,374.8 L1136.1,373.4 L1137.1,371.9 L1138.1,370.4 L1139.1,368.9 L1140.1,367.3 L1141.1,365.8 L1142.1,364.2 L1143.1,362.7 L1144.1,361.1 L1145.1,359.6 L1146.1,358.1 L1147.1,356.7 L1148.1,355.2 L1149.1,353.8 L1150.1,352.4 L1151.1,351.1 L1152.1,349.8 L1153.1,348.5 L1154.1,347.3 L1155.1,346.1 L1156.1,344.9 L1157.1,343.8 L1158.1,342.8 L1159.1,341.8 L1160.1,340.8 L1161.1,340.0 L1162.1,339.1 L1163.1,338.4 L1164.1,337.7 L1165.1,337.0 L1166.1,336.5 L1167.1,336.0 L1168.1,335.5 L1169.1,335.2 L1170.1,334.8 L1171.1,334.5 L1172.1,334.3 L1173.1,334.1 L1174.1,334.0 L1175.1,333.9 L1176.1,333.8 L1177.1,333.8 L1178.1,333.8 L1179.1,333.8 L1180.1,333.8 L1181.1,333.9 L1182.1,333.9 L1183.1,334.0 L1184.1,334.1 L1185.1,334.2 L1186.1,334.3 L1187.1,334.4 L1188.1,334.5 L1189.1,334.6 L1190.1,334.7 L1191.1,334.8 L1192.1,334.8 L1193.1,334.9 L1194.1,334.9 L1195.1,334.9 L1196.1,334.9 L1197.1,334.8 L1198.1,334.7 L1199.1,334.5 L1200.1,334.4 L1201.1,334.1 L1202.1,333.9 L1203.1,333.6 L1204.1,333.3 L1205.1,332.9 L1206.1,332.5 L1207.1,332.0 L1208.1,331.6 L1209.1,331.1 L1210.1,330.5 L1211.1,329.9 L1212.1,329.3 L1213.1,328.7 L1214.1,328.0 L1215.1,327.3 L1216.1,326.5 L1217.1,325.8 L1218.1,325.0 L1219.1,324.2 L1220.1,323.3 L1221.1,322.4 L1222.1,321.5 L1223.1,320.6 L1224.1,319.6 L1225.1,318.6 L1226.1,317.6 L1227.1,316.6 L1228.1,315.5 L1229.1,314.4 L1230.1,313.3 L1231.1,312.2 L1232.1,311.0 L1233.1,309.9 L1234.1,308.7 L1235.1,307.5 L1236.1,306.4 L1237.1,305.2 L1238.1,304.1 L1239.1,302.9 L1240.1,301.8 L1241.1,300.7 L1242.1,299.6 L1243.1,298.6 L1244.1,297.6 L1245.1,296.6 L1246.1,295.7 L1247.1,294.8 L1248.1,293.9 L1249.1,293.2 L1250.1,292.4 L1251.1,291.8 L1252.1,291.1 L1253.1,290.6 L1254.1,290.0 L1255.1,289.6 L1256.1,289.1 L1257.1,288.8 L1258.1,288.4 L1259.1,288.1 L1260.1,287.9 L1261.1,287.6 L1262.1,287.5 L1263.1,287.3 L1264.1,287.2 L1265.1,287.2 L1266.1,287.1 L1267.1,287.1 L1268.1,287.2 L1269.1,287.2 L1270.1,287.3 L1271.1,287.5 L1272.1,287.6 L1273.1,287.8 L1274.1,288.0 L1275.1,288.2 L1276.1,288.5 L1277.1,288.8 L1278.1,289.0 L1279.1,289.4 L1280.1,289.7 L1281.1,290.0 L1282.1,290.4 L1283.1,290.8 L1284.1,291.1 L1285.1,291.5 L1286.1,292.0 L1287.1,292.4 L1288.1,292.8 L1289.1,293.2 L1290.1,293.7 L1291.1,294.1 L1292.1,294.6 L1293.1,295.0 L1294.1,295.5 L1295.1,295.9 L1296.1,296.4 L1297.1,296.8 L1298.1,297.2 L1299.1,297.7 L1300.1,298.1 L1301.1,298.5 L1302.1,298.9 L1303.1,299.3 L1304.1,299.7 L1305.1,300.1 L1306.1,300.5 L1307.1,300.8 L1308.1,301.2 L1309.1,301.5 L1310.1,301.8 L1311.1,302.1 L1312.1,302.3 L1313.1,302.6 L1314.1,302.8 L1315.1,303.0 L1316.1,303.2 L1317.1,303.4 L1318.1,303.5 L1319.1,303.6 L1320.1,303.7 L1321.1,303.8 L1322.1,303.8 L1323.1,303.9 L1324.1,303.9 L1325.1,303.9 L1326.1,303.8 L1327.1,303.8 L1328.1,303.7 L1329.1,303.6 L1330.1,303.4 L1331.1,303.3 L1332.1,303.1 L1333.1,302.9 L1334.1,302.6 L1335.1,302.4 L1336.1,302.1 L1337.1,301.8 L1338.1,301.4 L1339.1,301.1 L1340.1,300.7 L1341.1,300.3 L1342.1,299.8 L1343.1,299.3 L1344.1,298.8 L1345.1,298.3 L1345.2,298.2" fill="none" stroke="#1f77b4" stroke-width="6.3" stroke-linejoin="round"/>
<path d="M565.1,193.2 L566.1,193.8 L567.1,194.5 L568.1,195.4 L569.1,196.4 L570.1,197.6 L571.1,198.9 L572.1,200.3 L573.1,201.8 L574.1,203.5 L575.1,205.3 L576.1,207.2 L577.1,209.2 L578.1,211.3 L579.1,213.6 L580.1,215.9 L581.1,218.3 L582.1,220.8 L583.1,223.4 L584.1,226.1 L585.1,228.9 L586.1,231.7 L587.1,234.6 L588.1,237.6 L589.1,240.6 L590.1,243.7 L591.1,246.9 L592.1,250.1 L593.1,253.4 L594.1,256.7 L595.1,260.1 L596.1,263.5 L597.1,267.0 L598.1,270.5 L599.1,274.0 L600.1,277.7 L601.1,281.3 L602.1,285.0 L603.1,288.8 L604.1,292.6 L605.1,296.4 L606.1,300.2 L607.1,304.1 L608.1,308.0 L609.1,312.0 L610.1,316.0 L611.1,320.0 L612.1,324.0 L613.1,327.9 L614.1,331.8 L615.1,335.6 L616.1,339.2 L617.1,342.8 L618.1,346.1 L619.1,349.3 L620.1,352.2 L621.1,354.9 L622.1,357.4 L623.1,359.5 L624.1,361.4 L625.1,362.8 L626.1,364.0 L627.1,364.7 L628.1,365.0 L629.1,364.9 L630.1,364.3 L631.1,363.5 L632.1,362.2 L633.1,360.7 L634.1,358.9 L635.1,356.7 L636.1,354.4 L637.1,351.7 L638.1,348.9 L639.1,345.9 L640.1,342.8 L641.1,339.5 L642.1,336.1 L643.1,332.5 L644.1,328.9 L645.1,325.3 L646.1,321.5 L647.1,317.7 L648.1,313.8 L649.1,309.9 L650.1,305.9 L651.1,302.0 L652.1,298.0 L653.1,294.0 L654.1,289.9 L655.1,285.9 L656.1,281.9 L657.1,277.9 L658.1,273.9 L659.1,269.9 L660.1,265.9 L661.1,262.0 L662.1,258.1 L663.1,254.2 L664.1,250.4 L665.1,246.7 L666.1,243.0 L667.1,239.3 L668.1,235.8 L669.1,232.3 L670.1,228.9 L671.1,225.6 L672.1,222.3 L673.1,219.2 L674.1,216.2 L675.1,213.3 L676.1,210.5 L677.1,207.8 L678.1,205.3 L679.1,202.9 L680.1,200.6 L681.1,198.5 L682.1,196.6 L683.1,194.8 L684.1,193.1 L685.1,191.7 L686.1,190.4 L687.1,189.2 L688.1,188.3 L689.1,187.6 L690.1,187.0 L691.1,186.7 L692.1,186.6 L693.1,186.7 L694.1,186.9 L695.1,187.4 L696.1,188.1 L697.1,189.0 L698.1,190.0 L699.1,191.2 L700.1,192.6 L701.1,194.1 L702.1,195.9 L703.1,197.7 L704.1,199.7 L705.1,201.9 L706.1,204.2 L707.1,206.6 L708.1,209.2 L709.1,211.9 L710.1,214.7 L711.1,217.6 L712.1,220.7 L713.1,223.8 L714.1,227.0 L715.1,230.4 L716.1,233.8 L717.1,237.3 L718.1,240.9 L719.1,244.5 L720.1,248.2 L721.1,252.0 L722.1,255.8 L723.1,259.7 L724.1,263.7 L725.1,267.6 L726.1,271.6 L727.1,275.7 L728.1,279.8 L729.1,283.8 L730.1,288.0 L731.1,292.1 L732.1,296.2 L733.1,300.3 L734.1,304.4 L735.1,308.5 L736.1,312.5 L737.1,316.6 L738.1,320.6 L739.1,324.5 L740.1,328.5 L741.1,332.3 L742.1,336.1 L743.1,339.9 L744.1,343.5 L745.1,347.1 L746.1,350.4 L747.1,353.6 L748.1,356.6 L749.1,359.3 L750.1,361.8 L751.1,363.9 L752.1,365.6 L753.1,367.1 L754.1,368.2 L755.1,369.1 L756.1,369.7 L757.1,370.0 L758.1,370.0 L759.1,369.8 L760.1,369.3 L761.1,368.7 L762.1,367.7 L763.1,366.6 L764.1,365.3 L765.1,363.8 L766.1,362.1 L767.1,360.2 L768.1,358.1 L769.1,355.9 L770.1,353.6 L771.1,351.1 L772.1,348.6 L773.1,345.9 L774.1,343.1 L775.1,340.2 L776.1,337.2 L777.1,334.1 L778.1,331.0 L779.1,327.9 L780.1,324.7 L781.1,321.4 L782.1,318.2 L783.1,314.9 L784.1,311.6 L785.1,308.3 L786.1,305.0 L787.1,301.7 L788.1,298.4 L789.1,295.2 L790.1,292.0 L791.1,288.8 L792.1,285.6 L793.1,282.5 L794.1,279.4 L795.1,276.4 L796.1,273.5 L797.1,270.6 L798.1,267.9 L799.1,265.2 L800.1,262.5 L801.1,260.0 L802.1,257.6 L803.1,255.3 L804.1,253.1 L805.1,251.1 L806.1,249.2 L807.1,247.4 L808.1,245.7 L809.1,244.2 L810.1,242.8 L811.1,241.6 L812.1,240.5 L813.1,239.5 L814.1,238.7 L815.1,238.0 L816.1,237.5 L817.1,237.1 L818.1,236.8 L819.1,236.7 L820.1,236.7 L821.1,236.8 L822.1,237.0 L823.1,237.4 L824.1,238.0 L825.1,238.6 L826.1,239.4 L827.1,240.3 L828.1,241.4 L829.1,242.5 L830.1,243.8 L831.1,245.3 L832.1,246.8 L833.1,248.5 L834.1,250.3 L835.1,252.1 L836.1,254.1 L837.1,256.2 L838.1,258.3 L839.1,260.5 L840.1,262.8 L841.1,265.2 L842.1,267.6 L843.1,270.1 L844.1,272.6 L845.1,275.2 L846.1,277.8 L847.1,280.4 L848.1,283.0 L849.1,285.7 L850.1,288.4 L851.1,291.0 L852.1,293.7 L853.1,296.4 L854.1,299.0 L855.1,301.7 L856.1,304.3 L857.1,306.9 L858.1,309.4 L859.1,311.9 L860.1,314.3 L861.1,316.7 L862.1,319.0 L863.1,321.2 L864.1,323.3 L865.1,325.4 L866.1,327.2 L867.1,329.0 L868.1,330.6 L869.1,332.1 L870.1,333.4 L871.1,334.5 L872.1,335.4 L873.1,336.2 L874.1,336.7 L875.1,337.0 L876.1,337.1 L877.1,336.9 L878.1,336.5 L879.1,335.8 L880.1,334.8 L881.1,333.5 L882.1,332.0 L883.1,330.1 L884.1,327.9 L885.1,325.4 L886.1,322.6 L887.1,319.6 L888.1,316.3 L889.1,312.8 L890.1,309.2 L891.1,305.4 L892.1,301.4 L893.1,297.4 L894.1,293.2 L895.1,289.0 L896.1,284.8 L897.1,280.4 L898.1,276.0 L899.1,271.6 L900.1,267.1 L901.1,262.6 L902.1,258.0 L903.1,253.5 L904.1,248.8 L905.1,244.2 L906.1,239.6 L907.1,234.9 L908.1,230.2 L909.1,225.5 L910.1,220.8 L911.1,216.1 L912.1,211.4 L913.1,206.7 L914.1,202.0 L915.1,197.3 L916.1,192.6 L917.1,188.0 L918.1,183.4 L919.1,178.9 L920.1,174.4 L921.1,170.1 L922.1,165.8 L923.1,161.5 L924.1,157.4 L925.1,153.4 L926.1,149.6 L927.1,145.8 L928.1,142.2 L929.1,138.8 L930.1,135.5 L931.1,132.4 L932.1,129.4 L933.1,126.7 L934.1,124.1 L935.1,121.7 L936.1,119.6 L937.1,117.6 L938.1,115.9 L939.1,114.3 L940.1,113.0 L941.1,111.9 L942.1,111.0 L943.1,110.3 L944.1,109.9 L945.1,109.7 L946.1,109.7 L947.1,110.0 L948.1,110.4 L949.1,111.1 L950.1,112.0 L951.1,113.0 L952.1,114.2 L953.1,115.5 L954.1,117.0 L955.1,118.6 L956.1,120.2 L957.1,122.0 L958.1,123.8 L959.1,125.7 L960.1,127.7 L961.1,129.8 L962.1,131.9 L963.1,134.1 L964.1,136.4 L965.1,138.7 L966.1,141.1 L967.1,143.5 L968.1,146.0 L969.1,148.5 L970.1,151.1 L971.1,153.7 L972.1,156.4 L973.1,159.0 L974.1,161.7 L975.1,164.5 L976.1,167.2 L977.1,170.0 L978.1,172.8 L979.1,175.6 L980.1,178.5 L981.1,181.3 L982.1,184.1 L983.1,186.9 L984.1,189.8 L985.1,192.6 L986.1,195.4 L987.1,198.2 L988.1,201.0 L989.1,203.7 L990.1,206.5 L991.1,209.3 L992.1,212.0 L993.1,214.8 L994.1,217.5 L995.1,220.2 L996.1,222.9 L997.1,225.6 L998.1,228.3 L999.1,231.0 L1000.1,233.6 L1001.1,236.3 L1002.1,238.9 L1003.1,241.5 L1004.1,244.1 L1005.1,246.7 L1006.1,249.2 L1007.1,251.8 L1008.1,254.3 L1009.1,256.8 L1010.1,259.3 L1011.1,261.8 L1012.1,264.2 L1013.1,266.7 L1014.1,269.1 L1015.1,271.5 L1016.1,273.8 L1017.1,276.2 L1018.1,278.5 L1019.1,280.7 L1020.1,282.9 L1021.1,285.0 L1022.1,287.1 L1023.1,289.1 L1024.1,291.1 L1025.1,293.0 L1026.1,294.8 L1027.1,296.5 L1028.1,298.1 L1029.1,299.6 L1030.1,301.1 L1031.1,302.4 L1032.1,303.7 L1033.1,304.8 L1034.1,305.8 L1035.1,306.8 L1036.1,307.6 L1037.1,308.4 L1038.1,309.0 L1039.1,309.6 L1040.1,310.2 L1041.1,310.6 L1042.1,311.0 L1043.1,311.3 L1044.1,311.6 L1045.1,311.8 L1046.1,312.0 L1047.1,312.2 L1048.1,312.3 L1049.1,312.4 L1050.1,312.4 L1051.1,312.5 L1052.1,312.5 L1053.1,312.5 L1054.1,312.5 L1055.1,312.5 L1056.1,312.5 L1057.1,312.6 L1058.1,312.6 L1059.1,312.7 L1060.1,312.7 L1061.1,312.8 L1062.1,313.0 L1063.1,313.2 L1064.1,313.4 L1065.1,313.7 L1066.1,314.0 L1067.1,314.4 L1068.1,314.8 L1069.1,315.2 L1070.1,315.8 L1071.1,316.3 L1072.1,316.9 L1073.1,317.6 L1074.1,318.3 L1075.1,319.1 L1076.1,319.9 L1077.1,320.8 L1078.1,321.7 L1079.1,322.6 L1080.1,323.6 L1081.1,324.7 L1082.1,325.8 L1083.1,327.0 L1084.1,328.2 L1085.1,329.4 L1086.1,330.7 L1087.1,332.1 L1088.1,333.4 L1089.1,334.9 L1090.1,336.4 L1091.1,337.9 L1092.1,339.5 L1093.1,341.2 L1094.1,342.8 L1095.1,344.6 L1096.1,346.3 L1097.1,348.2 L1098.1,350.0 L1099.1,351.9 L1100.1,353.8 L1101.1,355.7 L1102.1,357.6 L1103.1,359.5 L1104.1,361.4 L1105.1,363.2 L1106.1,365.0 L1107.1,366.8 L1108.1,368.6 L1109.1,370.3 L1110.1,371.9 L1111.1,373.5 L1112.1,374.9 L1113.1,376.4 L1114.1,377.7 L1115.1,378.9 L1116.1,380.0 L1117.1,381.0 L1118.1,381.8 L1119.1,382.6 L1120.1,383.2 L1121.1,383.6 L1122.1,383.9 L1123.1,384.1 L1124.1,384.0 L1125.1,383.9 L1126.1,383.5 L1127.1,383.0 L1128.1,382.3 L1129.1,381.6 L1130.1,380.7 L1131.1,379.7 L1132.1,378.6 L1133.1,377.4 L1134.1,376.1 L1135.1,374.8 L1136.1,373.4 L1137.1,371.9 L1138.1,370.4 L1139.1,368.9 L1140.1,367.3 L1141.1,365.8 L1142.1,364.2 L1143.1,362.7 L1144.1,361.1 L1145.1,359.6 L1146.1,358.1 L1147.1,356.7 L1148.1,355.2 L1149.1,353.8 L1150.1,352.4 L1151.1,351.1 L1152.1,349.8 L1153.1,348.5 L1154.1,347.3 L1155.1,346.1 L1156.1,344.9 L1157.1,343.8 L1158.1,342.8 L1159.1,341.8 L1160.1,340.8 L1161.1,340.0 L1162.1,339.1 L1163.1,338.4 L1164.1,337.7 L1165.1,337.0 L1166.1,336.5 L1167.1,336.0 L1168.1,335.5 L1169.1,335.2 L1170.1,334.8 L1171.1,334.5 L1172.1,334.3 L1173.1,334.1 L1174.1,334.0 L1175.1,333.9 L1176.1,333.8 L1177.1,333.8 L1178.1,333.8 L1179.1,333.8 L1180.1,333.8 L1181.1,333.9 L1182.1,333.9 L1183.1,334.0 L1184.1,334.1 L1185.1,334.2 L1186.1,334.3 L1187.1,334.4 L1188.1,334.5 L1189.1,334.6 L1190.1,334.7 L1191.1,334.8 L1192.1,334.8 L1193.1,334.9 L1194.1,334.9 L1195.1,334.9 L1196.1,334.9 L1197.1,334.8 L1198.1,334.7 L1199.1,334.5 L1200.1,334.4 L1201.1,334.1 L1202.1,333.9 L1203.1,333.6 L1204.1,333.3 L1205.1,332.9 L1206.1,332.5 L1207.1,332.0 L1208.1,331.6 L1209.1,331.1 L1210.1,330.5 L1211.1,329.9 L1212.1,329.3 L1213.1,328.7 L1214.1,328.0 L1215.1,327.3 L1216.1,326.5 L1217.1,325.8 L1218.1,325.0 L1219.1,324.2 L1220.1,323.3 L1221.1,322.4 L1222.1,321.5 L1223.1,320.6 L1224.1,319.6 L1225.1,318.6 L1226.1,317.6 L1227.1,316.6 L1228.1,315.5 L1229.1,314.4 L1230.1,313.3 L1231.1,312.2 L1232.1,311.0 L1233.1,309.9 L1234.1,308.7 L1235.1,307.5 L1236.1,306.4 L1237.1,305.2 L1238.1,304.1 L1239.1,302.9 L1240.1,301.8 L1241.1,300.7 L1242.1,299.6 L1243.1,298.6 L1244.1,297.6 L1245.1,296.6 L1246.1,295.7 L1247.1,294.8 L1248.1,293.9 L1249.1,293.2 L1250.1,292.4 L1251.1,291.8 L1252.1,291.1 L1253.1,290.6 L1254.1,290.0 L1255.1,289.6 L1256.1,289.1 L1257.1,288.8 L1258.1,288.4 L1259.1,288.1 L1260.1,287.9 L1261.1,287.6 L1262.1,287.5 L1263.1,287.3 L1264.1,287.2 L1265.1,287.2 L1266.1,287.1 L1267.1,287.1 L1268.1,287.2 L1269.1,287.2 L1270.1,287.3 L1271.1,287.5 L1272.1,287.6 L1273.1,287.8 L1274.1,288.0 L1275.1,288.2 L1276.1,288.5 L1277.1,288.8 L1278.1,289.0 L1279.1,289.4 L1280.1,289.7 L1281.1,290.0 L1282.1,290.4 L1283.1,290.8 L1284.1,291.1 L1285.1,291.5 L1286.1,292.0 L1287.1,292.4 L1288.1,292.8 L1289.1,293.2 L1290.1,293.7 L1291.1,294.1 L1292.1,294.6 L1293.1,295.0 L1294.1,295.5 L1295.1,295.9 L1296.1,296.4 L1297.1,296.8 L1298.1,297.2 L1299.1,297.7 L1300.1,298.1 L1301.1,298.5 L1302.1,298.9 L1303.1,299.3 L1304.1,299.7 L1305.1,300.1 L1306.1,300.5 L1307.1,300.8 L1308.1,301.2 L1309.1,301.5 L1310.1,301.8 L1311.1,302.1 L1312.1,302.3 L1313.1,302.6 L1314.1,302.8 L1315.1,303.0 L1316.1,303.2 L1317.1,303.4 L1318.1,303.5 L1319.1,303.6 L1320.1,303.7 L1321.1,303.8 L1322.1,303.8 L1323.1,303.9 L1324.1,303.9 L1325.1,303.9 L1326.1,303.8 L1327.1,303.8 L1328.1,303.7 L1329.1,303.6 L1330.1,303.4 L1331.1,303.3 L1332.1,303.1 L1333.1,302.9 L1334.1,302.6 L1335.1,302.4 L1336.1,302.1 L1337.1,301.8 L1338.1,301.4 L1339.1,301.1 L1340.1,300.7 L1341.1,300.3 L1342.1,299.8 L1343.1,299.3 L1344.1,298.8 L1345.1,298.3 L1345.2,298.2" fill="none" stroke="#000" stroke-width="6.0" stroke-dasharray="6.3 10.4"/>
<circle cx="565.1" cy="193.2" r="9.8" fill="#ff0000"/>
<polygon points="1339.5,283.4 1343.8,287.8 1348.2,283.4 1352.6,287.8 1348.2,292.1 1352.6,296.5 1348.2,300.9 1343.8,296.5 1339.5,300.9 1335.1,296.5 1339.5,292.1 1335.1,287.8" fill="#ff0000" stroke="#ff0000" stroke-width="1.7" stroke-linejoin="round"/>
<path d="M564.8,726.9 L565.8,726.3 L566.8,725.7 L567.8,724.9 L568.8,724.2 L569.8,723.3 L570.8,722.4 L571.8,721.5 L572.8,720.5 L573.8,719.4 L574.8,718.3 L575.8,717.1 L576.8,716.0 L577.8,714.7 L578.8,713.5 L579.8,712.2 L580.8,710.9 L581.8,709.5 L582.8,708.2 L583.8,706.8 L584.8,705.4 L585.8,704.0 L586.8,702.6 L587.8,701.2 L588.8,699.7 L589.8,698.3 L590.8,696.9 L591.8,695.5 L592.8,694.1 L593.8,692.7 L594.8,691.3 L595.8,690.0 L596.8,688.6 L597.8,687.3 L598.8,686.1 L599.8,684.8 L600.8,683.6 L601.8,682.4 L602.8,681.3 L603.8,680.2 L604.8,679.2 L605.8,678.2 L606.8,677.3 L607.8,676.4 L608.8,675.6 L609.8,674.8 L610.8,674.1 L611.8,673.5 L612.8,672.9 L613.8,672.4 L614.8,672.0 L615.8,671.6 L616.8,671.2 L617.8,670.9 L618.8,670.6 L619.8,670.4 L620.8,670.2 L621.8,670.0 L622.8,669.9 L623.8,669.8 L624.8,669.7 L625.8,669.7 L626.8,669.6 L627.8,669.6 L628.8,669.6 L629.8,669.6 L630.8,669.7 L631.8,669.7 L632.8,669.7 L633.8,669.8 L634.8,669.8 L635.8,669.9 L636.8,669.9 L637.8,669.9 L638.8,669.9 L639.8,669.9 L640.8,669.9 L641.8,669.8 L642.8,669.8 L643.8,669.7 L644.8,669.6 L645.8,669.5 L646.8,669.4 L647.8,669.2 L648.8,669.1 L649.8,668.9 L650.8,668.8 L651.8,668.6 L652.8,668.4 L653.8,668.3 L654.8,668.1 L655.8,668.0 L656.8,667.8 L657.8,667.7 L658.8,667.5 L659.8,667.4 L660.8,667.3 L661.8,667.2 L662.8,667.1 L663.8,667.1 L664.8,667.0 L665.8,666.9 L666.8,666.9 L667.8,666.8 L668.8,666.8 L669.8,666.8 L670.8,666.8 L671.8,666.8 L672.8,666.8 L673.8,666.8 L674.8,666.8 L675.8,666.8 L676.8,666.8 L677.8,666.8 L678.8,666.9 L679.8,666.9 L680.8,667.0 L681.8,667.0 L682.8,667.1 L683.8,667.1 L684.8,667.2 L685.8,667.3 L686.8,667.3 L687.8,667.4 L688.8,667.5 L689.8,667.5 L690.8,667.6 L691.8,667.7 L692.8,667.8 L693.8,667.9 L694.8,667.9 L695.8,668.0 L696.8,668.1 L697.8,668.2 L698.8,668.3 L699.8,668.4 L700.8,668.4 L701.8,668.5 L702.8,668.6 L703.8,668.7 L704.8,668.7 L705.8,668.8 L706.8,668.9 L707.8,668.9 L708.8,669.0 L709.8,669.1 L710.8,669.1 L711.8,669.2 L712.8,669.2 L713.8,669.2 L714.8,669.3 L715.8,669.3 L716.8,669.3 L717.8,669.3 L718.8,669.4 L719.8,669.4 L720.8,669.4 L721.8,669.4 L722.8,669.4 L723.8,669.3 L724.8,669.3 L725.8,669.3 L726.8,669.2 L727.8,669.2 L728.8,669.1 L729.8,669.1 L730.8,669.0 L731.8,668.9 L732.8,668.8 L733.8,668.7 L734.8,668.6 L735.8,668.5 L736.8,668.4 L737.8,668.3 L738.8,668.1 L739.8,668.0 L740.8,667.8 L741.8,667.7 L742.8,667.5 L743.8,667.3 L744.8,667.1 L745.8,666.9 L746.8,666.7 L747.8,666.4 L748.8,666.2 L749.8,666.0 L750.8,665.7 L751.8,665.5 L752.8,665.2 L753.8,664.9 L754.8,664.7 L755.8,664.4 L756.8,664.1 L757.8,663.9 L758.8,663.6 L759.8,663.3 L760.8,663.0 L761.8,662.8 L762.8,662.5 L763.8,662.2 L764.8,661.9 L765.8,661.6 L766.8,661.3 L767.8,661.1 L768.8,660.8 L769.8,660.5 L770.8,660.2 L771.8,660.0 L772.8,659.7 L773.8,659.4 L774.8,659.1 L775.8,658.9 L776.8,658.6 L777.8,658.4 L778.8,658.1 L779.8,657.9 L780.8,657.7 L781.8,657.4 L782.8,657.2 L783.8,657.0 L784.8,656.8 L785.8,656.6 L786.8,656.4 L787.8,656.2 L788.8,656.0 L789.8,655.9 L790.8,655.7 L791.8,655.6 L792.8,655.4 L793.8,655.3 L794.8,655.2 L795.8,655.1 L796.8,655.0 L797.8,654.9 L798.8,654.8 L799.8,654.8 L800.8,654.7 L801.8,654.7 L802.8,654.7 L803.8,654.7 L804.8,654.7 L805.8,654.7 L806.8,654.7 L807.8,654.8 L808.8,654.9 L809.8,654.9 L810.8,655.0 L811.8,655.2 L812.8,655.3 L813.8,655.4 L814.8,655.6 L815.8,655.8 L816.8,656.0 L817.8,656.2 L818.8,656.4 L819.8,656.6 L820.8,656.9 L821.8,657.1 L822.8,657.4 L823.8,657.7 L824.8,658.0 L825.8,658.3 L826.8,658.6 L827.8,659.0 L828.8,659.3 L829.8,659.7 L830.8,660.1 L831.8,660.4 L832.8,660.8 L833.8,661.3 L834.8,661.7 L835.8,662.1 L836.8,662.6 L837.8,663.0 L838.8,663.5 L839.8,664.0 L840.8,664.5 L841.8,665.0 L842.8,665.5 L843.8,666.0 L844.8,666.5 L845.8,667.0 L846.8,667.5 L847.8,668.0 L848.8,668.5 L849.8,668.9 L850.8,669.4 L851.8,669.8 L852.8,670.2 L853.8,670.6 L854.8,671.0 L855.8,671.3 L856.8,671.6 L857.8,671.9 L858.8,672.1 L859.8,672.4 L860.8,672.6 L861.8,672.7 L862.8,672.9 L863.8,673.0 L864.8,673.1 L865.8,673.2 L866.8,673.3 L867.8,673.4 L868.8,673.4 L869.8,673.5 L870.8,673.5 L871.8,673.5 L872.8,673.4 L873.8,673.4 L874.8,673.4 L875.8,673.3 L876.8,673.2 L877.8,673.2 L878.8,673.1 L879.8,673.0 L880.8,672.9 L881.8,672.8 L882.8,672.6 L883.8,672.5 L884.8,672.4 L885.8,672.3 L886.8,672.1 L887.8,672.0 L888.8,671.8 L889.8,671.7 L890.8,671.6 L891.8,671.4 L892.8,671.3 L893.8,671.1 L894.8,671.0 L895.8,670.9 L896.8,670.8 L897.8,670.6 L898.8,670.5 L899.8,670.4 L900.8,670.3 L901.8,670.2 L902.8,670.1 L903.8,670.1 L904.8,670.0 L905.8,670.0 L906.8,669.9 L907.8,669.9 L908.8,669.9 L909.8,669.9 L910.8,669.9 L911.8,669.9 L912.8,669.9 L913.8,669.9 L914.8,670.0 L915.8,670.1 L916.8,670.1 L917.8,670.2 L918.8,670.3 L919.8,670.4 L920.8,670.5 L921.8,670.7 L922.8,670.8 L923.8,671.0 L924.8,671.1 L925.8,671.3 L926.8,671.5 L927.8,671.7 L928.8,671.9 L929.8,672.1 L930.8,672.4 L931.8,672.6 L932.8,672.9 L933.8,673.1 L934.8,673.4 L935.8,673.7 L936.8,674.0 L937.8,674.3 L938.8,674.6 L939.8,675.0 L940.8,675.3 L941.8,675.7 L942.8,676.0 L943.8,676.4 L944.8,676.7 L945.8,677.0 L946.8,677.4 L947.8,677.7 L948.8,678.0 L949.8,678.3 L950.8,678.6 L951.8,678.8 L952.8,679.1 L953.8,679.3 L954.8,679.5 L955.8,679.7 L956.8,679.8 L957.8,680.0 L958.8,680.1 L959.8,680.2 L960.8,680.2 L961.8,680.3 L962.8,680.3 L963.8,680.4 L964.8,680.4 L965.8,680.3 L966.8,680.3 L967.8,680.3 L968.8,680.2 L969.8,680.1 L970.8,680.0 L971.8,679.9 L972.8,679.8 L973.8,679.7 L974.8,679.5 L975.8,679.4 L976.8,679.2 L977.8,679.0 L978.8,678.8 L979.8,678.6 L980.8,678.4 L981.8,678.1 L982.8,677.9 L983.8,677.6 L984.8,677.4 L985.8,677.1 L986.8,676.8 L987.8,676.6 L988.8,676.3 L989.8,676.0 L990.8,675.7 L991.8,675.5 L992.8,675.2 L993.8,674.9 L994.8,674.7 L995.8,674.5 L996.8,674.3 L997.8,674.1 L998.8,674.0 L999.8,673.8 L1000.8,673.7 L1001.8,673.7 L1002.8,673.7 L1003.8,673.7 L1004.8,673.7 L1005.8,673.8 L1006.8,673.8 L1007.8,673.9 L1008.8,674.1 L1009.8,674.2 L1010.8,674.3 L1011.8,674.5 L1012.8,674.6 L1013.8,674.7 L1014.8,674.9 L1015.8,675.0 L1016.8,675.1 L1017.8,675.2 L1018.8,675.2 L1019.8,675.3 L1020.8,675.3 L1021.8,675.3 L1022.8,675.3 L1023.8,675.2 L1024.8,675.2 L1025.8,675.1 L1026.8,675.0 L1027.8,674.9 L1028.8,674.8 L1029.8,674.6 L1030.8,674.4 L1031.8,674.3 L1032.8,674.1 L1033.8,673.9 L1034.8,673.7 L1035.8,673.4 L1036.8,673.2 L1037.8,672.9 L1038.8,672.7 L1039.8,672.4 L1040.8,672.1 L1041.8,671.9 L1042.8,671.6 L1043.8,671.3 L1044.8,671.0 L1045.8,670.8 L1046.8,670.5 L1047.8,670.2 L1048.8,669.9 L1049.8,669.7 L1050.8,669.4 L1051.8,669.2 L1052.8,668.9 L1053.8,668.7 L1054.8,668.5 L1055.8,668.3 L1056.8,668.0 L1057.8,667.8 L1058.8,667.6 L1059.8,667.5 L1060.8,667.3 L1061.8,667.1 L1062.8,666.9 L1063.8,666.8 L1064.8,666.6 L1065.8,666.4 L1066.8,666.3 L1067.8,666.1 L1068.8,666.0 L1069.8,665.8 L1070.8,665.7 L1071.8,665.6 L1072.8,665.4 L1073.8,665.3 L1074.8,665.2 L1075.8,665.1 L1076.8,665.0 L1077.8,664.9 L1078.8,664.8 L1079.8,664.7 L1080.8,664.7 L1081.8,664.7 L1082.8,664.6 L1083.8,664.6 L1084.8,664.6 L1085.8,664.7 L1086.8,664.7 L1087.8,664.8 L1088.8,664.8 L1089.8,664.9 L1090.8,665.0 L1091.8,665.1 L1092.8,665.2 L1093.8,665.4 L1094.8,665.5 L1095.8,665.6 L1096.8,665.8 L1097.8,665.9 L1098.8,666.1 L1099.8,666.2 L1100.8,666.4 L1101.8,666.6 L1102.8,666.7 L1103.8,666.9 L1104.8,667.1 L1105.8,667.2 L1106.8,667.4 L1107.8,667.5 L1108.8,667.7 L1109.8,667.9 L1110.8,668.0 L1111.8,668.2 L1112.8,668.3 L1113.8,668.4 L1114.8,668.6 L1115.8,668.7 L1116.8,668.8 L1117.8,669.0 L1118.8,669.1 L1119.8,669.2 L1120.8,669.3 L1121.8,669.4 L1122.8,669.5 L1123.8,669.6 L1124.8,669.6 L1125.8,669.7 L1126.8,669.8 L1127.8,669.8 L1128.8,669.8 L1129.8,669.9 L1130.8,669.9 L1131.8,669.9 L1132.8,669.9 L1133.8,669.9 L1134.8,669.8 L1135.8,669.8 L1136.8,669.7 L1137.8,669.7 L1138.8,669.6 L1139.8,669.5 L1140.8,669.4 L1141.8,669.2 L1142.8,669.1 L1143.8,668.9 L1144.8,668.7 L1145.8,668.6 L1146.8,668.3 L1147.8,668.1 L1148.8,667.9 L1149.8,667.6 L1150.8,667.3 L1151.8,667.0 L1152.8,666.7 L1153.8,666.4 L1154.8,666.1 L1155.8,665.7 L1156.8,665.4 L1157.8,665.1 L1158.8,664.7 L1159.8,664.4 L1160.8,664.1 L1161.8,663.8 L1162.8,663.5 L1163.8,663.3 L1164.8,663.1 L1165.8,662.9 L1166.8,662.7 L1167.8,662.6 L1168.8,662.5 L1169.8,662.4 L1170.8,662.3 L1171.8,662.3 L1172.8,662.4 L1173.8,662.4 L1174.8,662.5 L1175.8,662.6 L1176.8,662.7 L1177.8,662.8 L1178.8,663.0 L1179.8,663.2 L1180.8,663.3 L1181.8,663.6 L1182.8,663.8 L1183.8,664.0 L1184.8,664.3 L1185.8,664.5 L1186.8,664.8 L1187.8,665.1 L1188.8,665.3 L1189.8,665.6 L1190.8,665.9 L1191.8,666.2 L1192.8,666.5 L1193.8,666.8 L1194.8,667.1 L1195.8,667.4 L1196.8,667.7 L1197.8,668.0 L1198.8,668.3 L1199.8,668.6 L1200.8,668.9 L1201.8,669.2 L1202.8,669.5 L1203.8,669.7 L1204.8,670.0 L1205.8,670.3 L1206.8,670.5 L1207.8,670.8 L1208.8,671.0 L1209.8,671.2 L1210.8,671.5 L1211.8,671.7 L1212.8,671.9 L1213.8,672.1 L1214.8,672.3 L1215.8,672.5 L1216.8,672.7 L1217.8,672.8 L1218.8,673.0 L1219.8,673.2 L1220.8,673.3 L1221.8,673.5 L1222.8,673.6 L1223.8,673.7 L1224.8,673.8 L1225.8,673.9 L1226.8,674.0 L1227.8,674.1 L1228.8,674.2 L1229.8,674.3 L1230.8,674.3 L1231.8,674.4 L1232.8,674.4 L1233.8,674.4 L1234.8,674.4 L1235.8,674.4 L1236.8,674.4 L1237.8,674.4 L1238.8,674.4 L1239.8,674.4 L1240.8,674.3 L1241.8,674.2 L1242.8,674.2 L1243.8,674.1 L1244.8,674.0 L1245.8,673.9 L1246.8,673.7 L1247.8,673.6 L1248.8,673.5 L1249.8,673.3 L1250.8,673.1 L1251.8,672.9 L1252.8,672.7 L1253.8,672.5 L1254.8,672.3 L1255.8,672.1 L1256.8,671.9 L1257.8,671.6 L1258.8,671.4 L1259.8,671.2 L1260.8,670.9 L1261.8,670.7 L1262.8,670.4 L1263.8,670.2 L1264.8,670.0 L1265.8,669.7 L1266.8,669.5 L1267.8,669.3 L1268.8,669.1 L1269.8,668.9 L1270.8,668.7 L1271.8,668.5 L1272.8,668.3 L1273.8,668.2 L1274.8,668.0 L1275.8,667.9 L1276.8,667.8 L1277.8,667.7 L1278.8,667.6 L1279.8,667.6 L1280.8,667.6 L1281.8,667.6 L1282.8,667.6 L1283.8,667.6 L1284.8,667.7 L1285.8,667.8 L1286.8,667.9 L1287.8,668.0 L1288.8,668.2 L1289.8,668.4 L1290.8,668.6 L1291.8,668.8 L1292.8,669.0 L1293.8,669.2 L1294.8,669.5 L1295.8,669.8 L1296.8,670.1 L1297.8,670.4 L1298.8,670.7 L1299.8,671.0 L1300.8,671.4 L1301.8,671.7 L1302.8,672.1 L1303.8,672.5 L1304.8,672.8 L1305.8,673.2 L1306.8,673.6 L1307.8,674.0 L1308.8,674.4 L1309.8,674.8 L1310.8,675.1 L1311.8,675.5 L1312.8,675.9 L1313.8,676.3 L1314.8,676.7 L1315.8,677.1 L1316.8,677.4 L1317.8,677.8 L1318.8,678.1 L1319.8,678.5 L1320.8,678.8 L1321.8,679.1 L1322.8,679.4 L1323.8,679.7 L1324.8,680.0 L1325.8,680.3 L1326.8,680.5 L1327.8,680.7 L1328.8,680.9 L1329.8,681.1 L1330.8,681.3 L1331.8,681.4 L1332.8,681.6 L1333.8,681.7 L1334.8,681.7 L1335.8,681.8 L1336.8,681.8 L1337.8,681.8 L1338.8,681.8 L1339.8,681.7 L1340.8,681.6 L1341.8,681.5 L1342.8,681.4 L1343.0,681.4" fill="none" stroke="#808080" stroke-width="6.3" stroke-dasharray="6.3 10.4"/>
<path d="M564.8,726.9 L565.8,726.7 L566.8,726.4 L567.8,725.9 L568.8,725.2 L569.8,724.3 L570.8,723.2 L571.8,722.0 L572.8,720.5 L573.8,719.0 L574.8,717.2 L575.8,715.3 L576.8,713.3 L577.8,711.1 L578.8,708.8 L579.8,706.3 L580.8,703.7 L581.8,701.0 L582.8,698.1 L583.8,695.1 L584.8,692.1 L585.8,688.9 L586.8,685.6 L587.8,682.2 L588.8,678.7 L589.8,675.1 L590.8,671.5 L591.8,667.7 L592.8,663.9 L593.8,660.0 L594.8,656.1 L595.8,652.1 L596.8,648.1 L597.8,644.1 L598.8,640.0 L599.8,636.0 L600.8,631.9 L601.8,627.9 L602.8,623.9 L603.8,620.0 L604.8,616.1 L605.8,612.2 L606.8,608.4 L607.8,604.7 L608.8,601.1 L609.8,597.6 L610.8,594.2 L611.8,591.0 L612.8,587.8 L613.8,584.8 L614.8,582.0 L615.8,579.3 L616.8,576.8 L617.8,574.5 L618.8,572.3 L619.8,570.3 L620.8,568.5 L621.8,566.9 L622.8,565.5 L623.8,564.2 L624.8,563.1 L625.8,562.2 L626.8,561.6 L627.8,561.1 L628.8,560.8 L629.8,560.7 L630.8,560.8 L631.8,561.1 L632.8,561.6 L633.8,562.4 L634.8,563.3 L635.8,564.5 L636.8,565.8 L637.8,567.4 L638.8,569.2 L639.8,571.2 L640.8,573.4 L641.8,575.8 L642.8,578.4 L643.8,581.1 L644.8,584.0 L645.8,587.0 L646.8,590.2 L647.8,593.5 L648.8,596.9 L649.8,600.4 L650.8,604.1 L651.8,607.8 L652.8,611.6 L653.8,615.4 L654.8,619.4 L655.8,623.4 L656.8,627.4 L657.8,631.4 L658.8,635.5 L659.8,639.6 L660.8,643.8 L661.8,647.9 L662.8,652.0 L663.8,656.1 L664.8,660.1 L665.8,664.1 L666.8,668.1 L667.8,672.0 L668.8,675.9 L669.8,679.7 L670.8,683.4 L671.8,687.0 L672.8,690.5 L673.8,693.9 L674.8,697.1 L675.8,700.3 L676.8,703.3 L677.8,706.2 L678.8,708.9 L679.8,711.4 L680.8,713.8 L681.8,716.0 L682.8,718.0 L683.8,719.8 L684.8,721.4 L685.8,722.7 L686.8,723.9 L687.8,724.8 L688.8,725.4 L689.8,725.8 L690.8,726.0 L691.8,725.8 L692.8,725.4 L693.8,724.8 L694.8,723.9 L695.8,722.7 L696.8,721.4 L697.8,719.8 L698.8,718.0 L699.8,715.9 L700.8,713.7 L701.8,711.3 L702.8,708.7 L703.8,706.0 L704.8,703.1 L705.8,700.0 L706.8,696.8 L707.8,693.5 L708.8,690.0 L709.8,686.4 L710.8,682.7 L711.8,678.9 L712.8,675.1 L713.8,671.1 L714.8,667.1 L715.8,663.0 L716.8,658.8 L717.8,654.6 L718.8,650.3 L719.8,646.1 L720.8,641.8 L721.8,637.5 L722.8,633.2 L723.8,628.8 L724.8,624.6 L725.8,620.3 L726.8,616.0 L727.8,611.8 L728.8,607.7 L729.8,603.6 L730.8,599.6 L731.8,595.6 L732.8,591.8 L733.8,588.0 L734.8,584.3 L735.8,580.7 L736.8,577.3 L737.8,573.9 L738.8,570.7 L739.8,567.7 L740.8,564.8 L741.8,562.0 L742.8,559.4 L743.8,557.0 L744.8,554.8 L745.8,552.7 L746.8,550.9 L747.8,549.2 L748.8,547.8 L749.8,546.6 L750.8,545.6 L751.8,544.9 L752.8,544.4 L753.8,544.1 L754.8,544.1 L755.8,544.4 L756.8,544.9 L757.8,545.7 L758.8,546.7 L759.8,547.9 L760.8,549.3 L761.8,551.0 L762.8,552.8 L763.8,554.8 L764.8,557.1 L765.8,559.5 L766.8,562.0 L767.8,564.8 L768.8,567.7 L769.8,570.7 L770.8,573.9 L771.8,577.2 L772.8,580.6 L773.8,584.1 L774.8,587.8 L775.8,591.5 L776.8,595.3 L777.8,599.2 L778.8,603.1 L779.8,607.1 L780.8,611.1 L781.8,615.2 L782.8,619.2 L783.8,623.3 L784.8,627.4 L785.8,631.5 L786.8,635.6 L787.8,639.6 L788.8,643.6 L789.8,647.6 L790.8,651.5 L791.8,655.4 L792.8,659.2 L793.8,662.9 L794.8,666.5 L795.8,670.0 L796.8,673.5 L797.8,676.9 L798.8,680.1 L799.8,683.3 L800.8,686.3 L801.8,689.2 L802.8,692.0 L803.8,694.7 L804.8,697.3 L805.8,699.7 L806.8,701.9 L807.8,704.1 L808.8,706.1 L809.8,707.9 L810.8,709.6 L811.8,711.1 L812.8,712.4 L813.8,713.6 L814.8,714.7 L815.8,715.5 L816.8,716.3 L817.8,716.8 L818.8,717.2 L819.8,717.5 L820.8,717.6 L821.8,717.5 L822.8,717.3 L823.8,716.9 L824.8,716.3 L825.8,715.6 L826.8,714.7 L827.8,713.7 L828.8,712.5 L829.8,711.1 L830.8,709.6 L831.8,707.9 L832.8,706.0 L833.8,704.0 L834.8,701.9 L835.8,699.5 L836.8,697.1 L837.8,694.5 L838.8,691.9 L839.8,689.1 L840.8,686.3 L841.8,683.4 L842.8,680.5 L843.8,677.5 L844.8,674.5 L845.8,671.5 L846.8,668.5 L847.8,665.5 L848.8,662.6 L849.8,659.6 L850.8,656.8 L851.8,653.9 L852.8,651.2 L853.8,648.4 L854.8,645.7 L855.8,643.1 L856.8,640.5 L857.8,638.0 L858.8,635.6 L859.8,633.1 L860.8,630.8 L861.8,628.5 L862.8,626.3 L863.8,624.2 L864.8,622.1 L865.8,620.1 L866.8,618.1 L867.8,616.2 L868.8,614.4 L869.8,612.7 L870.8,611.0 L871.8,609.5 L872.8,608.0 L873.8,606.6 L874.8,605.2 L875.8,604.0 L876.8,602.8 L877.8,601.7 L878.8,600.7 L879.8,599.8 L880.8,599.0 L881.8,598.3 L882.8,597.7 L883.8,597.2 L884.8,596.8 L885.8,596.4 L886.8,596.2 L887.8,596.1 L888.8,596.1 L889.8,596.2 L890.8,596.4 L891.8,596.7 L892.8,597.1 L893.8,597.6 L894.8,598.3 L895.8,599.1 L896.8,599.9 L897.8,600.9 L898.8,602.0 L899.8,603.3 L900.8,604.7 L901.8,606.1 L902.8,607.8 L903.8,609.5 L904.8,611.3 L905.8,613.3 L906.8,615.3 L907.8,617.5 L908.8,619.7 L909.8,622.0 L910.8,624.3 L911.8,626.7 L912.8,629.1 L913.8,631.6 L914.8,634.1 L915.8,636.6 L916.8,639.1 L917.8,641.5 L918.8,644.0 L919.8,646.5 L920.8,648.9 L921.8,651.3 L922.8,653.6 L923.8,655.8 L924.8,658.0 L925.8,660.1 L926.8,662.2 L927.8,664.1 L928.8,665.9 L929.8,667.6 L930.8,669.2 L931.8,670.6 L932.8,671.9 L933.8,673.1 L934.8,674.1 L935.8,674.9 L936.8,675.7 L937.8,676.3 L938.8,676.7 L939.8,677.0 L940.8,677.2 L941.8,677.3 L942.8,677.2 L943.8,677.0 L944.8,676.7 L945.8,676.3 L946.8,675.7 L947.8,675.1 L948.8,674.3 L949.8,673.4 L950.8,672.4 L951.8,671.3 L952.8,670.0 L953.8,668.7 L954.8,667.3 L955.8,665.7 L956.8,664.2 L957.8,662.5 L958.8,660.8 L959.8,659.0 L960.8,657.1 L961.8,655.2 L962.8,653.3 L963.8,651.3 L964.8,649.3 L965.8,647.3 L966.8,645.3 L967.8,643.3 L968.8,641.3 L969.8,639.3 L970.8,637.3 L971.8,635.4 L972.8,633.4 L973.8,631.5 L974.8,629.7 L975.8,627.9 L976.8,626.2 L977.8,624.5 L978.8,622.9 L979.8,621.4 L980.8,619.9 L981.8,618.6 L982.8,617.3 L983.8,616.2 L984.8,615.1 L985.8,614.0 L986.8,613.1 L987.8,612.2 L988.8,611.4 L989.8,610.6 L990.8,609.9 L991.8,609.3 L992.8,608.7 L993.8,608.2 L994.8,607.8 L995.8,607.4 L996.8,607.1 L997.8,606.8 L998.8,606.5 L999.8,606.3 L1000.8,606.2 L1001.8,606.0 L1002.8,606.0 L1003.8,605.9 L1004.8,605.9 L1005.8,606.0 L1006.8,606.0 L1007.8,606.1 L1008.8,606.2 L1009.8,606.3 L1010.8,606.5 L1011.8,606.7 L1012.8,606.9 L1013.8,607.2 L1014.8,607.5 L1015.8,607.8 L1016.8,608.1 L1017.8,608.5 L1018.8,609.0 L1019.8,609.4 L1020.8,610.0 L1021.8,610.5 L1022.8,611.1 L1023.8,611.8 L1024.8,612.5 L1025.8,613.2 L1026.8,614.0 L1027.8,614.9 L1028.8,615.8 L1029.8,616.8 L1030.8,617.8 L1031.8,618.9 L1032.8,620.0 L1033.8,621.2 L1034.8,622.5 L1035.8,623.8 L1036.8,625.2 L1037.8,626.7 L1038.8,628.2 L1039.8,629.9 L1040.8,631.5 L1041.8,633.3 L1042.8,635.1 L1043.8,637.0 L1044.8,639.0 L1045.8,641.1 L1046.8,643.2 L1047.8,645.4 L1048.8,647.6 L1049.8,649.8 L1050.8,652.1 L1051.8,654.4 L1052.8,656.8 L1053.8,659.1 L1054.8,661.5 L1055.8,663.9 L1056.8,666.2 L1057.8,668.6 L1058.8,670.9 L1059.8,673.3 L1060.8,675.5 L1061.8,677.8 L1062.8,680.0 L1063.8,682.2 L1064.8,684.3 L1065.8,686.4 L1066.8,688.4 L1067.8,690.4 L1068.8,692.2 L1069.8,694.1 L1070.8,695.9 L1071.8,697.6 L1072.8,699.2 L1073.8,700.8 L1074.8,702.2 L1075.8,703.7 L1076.8,705.0 L1077.8,706.2 L1078.8,707.4 L1079.8,708.5 L1080.8,709.5 L1081.8,710.4 L1082.8,711.2 L1083.8,711.9 L1084.8,712.5 L1085.8,713.0 L1086.8,713.4 L1087.8,713.7 L1088.8,713.9 L1089.8,714.0 L1090.8,714.0 L1091.8,713.8 L1092.8,713.5 L1093.8,713.2 L1094.8,712.7 L1095.8,712.2 L1096.8,711.6 L1097.8,710.9 L1098.8,710.2 L1099.8,709.3 L1100.8,708.5 L1101.8,707.6 L1102.8,706.6 L1103.8,705.7 L1104.8,704.7 L1105.8,703.6 L1106.8,702.6 L1107.8,701.6 L1108.8,700.5 L1109.8,699.5 L1110.8,698.5 L1111.8,697.5 L1112.8,696.6 L1113.8,695.7 L1114.8,694.8 L1115.8,693.9 L1116.8,693.1 L1117.8,692.3 L1118.8,691.6 L1119.8,690.8 L1120.8,690.2 L1121.8,689.5 L1122.8,688.8 L1123.8,688.2 L1124.8,687.6 L1125.8,687.1 L1126.8,686.6 L1127.8,686.1 L1128.8,685.6 L1129.8,685.1 L1130.8,684.7 L1131.8,684.3 L1132.8,683.9 L1133.8,683.6 L1134.8,683.2 L1135.8,682.9 L1136.8,682.6 L1137.8,682.4 L1138.8,682.1 L1139.8,681.9 L1140.8,681.6 L1141.8,681.3 L1142.8,681.0 L1143.8,680.7 L1144.8,680.4 L1145.8,680.0 L1146.8,679.6 L1147.8,679.1 L1148.8,678.6 L1149.8,678.0 L1150.8,677.3 L1151.8,676.6 L1152.8,675.9 L1153.8,675.1 L1154.8,674.2 L1155.8,673.3 L1156.8,672.4 L1157.8,671.4 L1158.8,670.3 L1159.8,669.3 L1160.8,668.2 L1161.8,667.0 L1162.8,665.9 L1163.8,664.6 L1164.8,663.4 L1165.8,662.1 L1166.8,660.8 L1167.8,659.5 L1168.8,658.2 L1169.8,656.8 L1170.8,655.4 L1171.8,654.0 L1172.8,652.6 L1173.8,651.1 L1174.8,649.7 L1175.8,648.2 L1176.8,646.7 L1177.8,645.2 L1178.8,643.7 L1179.8,642.2 L1180.8,640.7 L1181.8,639.1 L1182.8,637.6 L1183.8,636.1 L1184.8,634.5 L1185.8,633.0 L1186.8,631.5 L1187.8,629.9 L1188.8,628.4 L1189.8,626.9 L1190.8,625.4 L1191.8,623.9 L1192.8,622.4 L1193.8,620.9 L1194.8,619.5 L1195.8,618.0 L1196.8,616.6 L1197.8,615.2 L1198.8,613.8 L1199.8,612.5 L1200.8,611.1 L1201.8,609.8 L1202.8,608.5 L1203.8,607.2 L1204.8,606.0 L1205.8,604.8 L1206.8,603.6 L1207.8,602.5 L1208.8,601.4 L1209.8,600.3 L1210.8,599.3 L1211.8,598.3 L1212.8,597.3 L1213.8,596.4 L1214.8,595.5 L1215.8,594.7 L1216.8,593.9 L1217.8,593.2 L1218.8,592.5 L1219.8,591.9 L1220.8,591.3 L1221.8,590.8 L1222.8,590.3 L1223.8,589.9 L1224.8,589.5 L1225.8,589.2 L1226.8,588.9 L1227.8,588.7 L1228.8,588.5 L1229.8,588.4 L1230.8,588.3 L1231.8,588.3 L1232.8,588.3 L1233.8,588.3 L1234.8,588.4 L1235.8,588.5 L1236.8,588.7 L1237.8,588.9 L1238.8,589.2 L1239.8,589.4 L1240.8,589.8 L1241.8,590.1 L1242.8,590.5 L1243.8,590.9 L1244.8,591.3 L1245.8,591.8 L1246.8,592.3 L1247.8,592.8 L1248.8,593.4 L1249.8,594.0 L1250.8,594.6 L1251.8,595.2 L1252.8,595.8 L1253.8,596.5 L1254.8,597.2 L1255.8,597.9 L1256.8,598.6 L1257.8,599.4 L1258.8,600.1 L1259.8,600.9 L1260.8,601.7 L1261.8,602.5 L1262.8,603.3 L1263.8,604.1 L1264.8,605.0 L1265.8,605.8 L1266.8,606.7 L1267.8,607.5 L1268.8,608.4 L1269.8,609.3 L1270.8,610.1 L1271.8,611.0 L1272.8,611.9 L1273.8,612.8 L1274.8,613.6 L1275.8,614.5 L1276.8,615.4 L1277.8,616.3 L1278.8,617.1 L1279.8,618.0 L1280.8,618.8 L1281.8,619.7 L1282.8,620.5 L1283.8,621.3 L1284.8,622.1 L1285.8,623.0 L1286.8,623.8 L1287.8,624.6 L1288.8,625.3 L1289.8,626.1 L1290.8,626.9 L1291.8,627.6 L1292.8,628.4 L1293.8,629.1 L1294.8,629.8 L1295.8,630.6 L1296.8,631.3 L1297.8,632.0 L1298.8,632.6 L1299.8,633.3 L1300.8,634.0 L1301.8,634.6 L1302.8,635.3 L1303.8,635.9 L1304.8,636.5 L1305.8,637.1 L1306.8,637.7 L1307.8,638.3 L1308.8,638.9 L1309.8,639.4 L1310.8,640.0 L1311.8,640.5 L1312.8,641.0 L1313.8,641.5 L1314.8,642.0 L1315.8,642.5 L1316.8,643.0 L1317.8,643.4 L1318.8,643.8 L1319.8,644.3 L1320.8,644.7 L1321.8,645.1 L1322.8,645.4 L1323.8,645.8 L1324.8,646.2 L1325.8,646.5 L1326.8,646.8 L1327.8,647.1 L1328.8,647.4 L1329.8,647.7 L1330.8,647.9 L1331.8,648.2 L1332.8,648.4 L1333.8,648.6 L1334.8,648.8 L1335.8,648.9 L1336.8,649.1 L1337.8,649.2 L1338.8,649.4 L1339.8,649.5 L1340.8,649.5 L1341.8,649.6 L1342.8,649.7 L1343.8,649.7 L1344.8,649.7 L1345.2,649.7" fill="none" stroke="#1f77b4" stroke-width="6.3" stroke-linejoin="round"/>
<path d="M564.8,726.9 L565.8,726.7 L566.8,726.4 L567.8,725.9 L568.8,725.2 L569.8,724.3 L570.8,723.2 L571.8,722.0 L572.8,720.5 L573.8,719.0 L574.8,717.2 L575.8,715.3 L576.8,713.3 L577.8,711.1 L578.8,708.8 L579.8,706.3 L580.8,703.7 L581.8,701.0 L582.8,698.1 L583.8,695.1 L584.8,692.1 L585.8,688.9 L586.8,685.6 L587.8,682.2 L588.8,678.7 L589.8,675.1 L590.8,671.5 L591.8,667.7 L592.8,663.9 L593.8,660.0 L594.8,656.1 L595.8,652.1 L596.8,648.1 L597.8,644.1 L598.8,640.0 L599.8,636.0 L600.8,631.9 L601.8,627.9 L602.8,623.9 L603.8,620.0 L604.8,616.1 L605.8,612.2 L606.8,608.4 L607.8,604.7 L608.8,601.1 L609.8,597.6 L610.8,594.2 L611.8,591.0 L612.8,587.8 L613.8,584.8 L614.8,582.0 L615.8,579.3 L616.8,576.8 L617.8,574.5 L618.8,572.3 L619.8,570.3 L620.8,568.5 L621.8,566.9 L622.8,565.5 L623.8,564.2 L624.8,563.1 L625.8,562.2 L626.8,561.6 L627.8,561.1 L628.8,560.8 L629.8,560.7 L630.8,560.8 L631.8,561.1 L632.8,561.6 L633.8,562.4 L634.8,563.3 L635.8,564.5 L636.8,565.8 L637.8,567.4 L638.8,569.2 L639.8,571.2 L640.8,573.4 L641.8,575.8 L642.8,578.4 L643.8,581.1 L644.8,584.0 L645.8,587.0 L646.8,590.2 L647.8,593.5 L648.8,596.9 L649.8,600.4 L650.8,604.1 L651.8,607.8 L652.8,611.6 L653.8,615.4 L654.8,619.4 L655.8,623.4 L656.8,627.4 L657.8,631.4 L658.8,635.5 L659.8,639.6 L660.8,643.8 L661.8,647.9 L662.8,652.0 L663.8,656.1 L664.8,660.1 L665.8,664.1 L666.8,668.1 L667.8,672.0 L668.8,675.9 L669.8,679.7 L670.8,683.4 L671.8,687.0 L672.8,690.5 L673.8,693.9 L674.8,697.1 L675.8,700.3 L676.8,703.3 L677.8,706.2 L678.8,708.9 L679.8,711.4 L680.8,713.8 L681.8,716.0 L682.8,718.0 L683.8,719.8 L684.8,721.4 L685.8,722.7 L686.8,723.9 L687.8,724.8 L688.8,725.4 L689.8,725.8 L690.8,726.0 L691.8,725.8 L692.8,725.4 L693.8,724.8 L694.8,723.9 L695.8,722.7 L696.8,721.4 L697.8,719.8 L698.8,718.0 L699.8,715.9 L700.8,713.7 L701.8,711.3 L702.8,708.7 L703.8,706.0 L704.8,703.1 L705.8,700.0 L706.8,696.8 L707.8,693.5 L708.8,690.0 L709.8,686.4 L710.8,682.7 L711.8,678.9 L712.8,675.1 L713.8,671.1 L714.8,667.1 L715.8,663.0 L716.8,658.8 L717.8,654.6 L718.8,650.3 L719.8,646.1 L720.8,641.8 L721.8,637.5 L722.8,633.2 L723.8,628.8 L724.8,624.6 L725.8,620.3 L726.8,616.0 L727.8,611.8 L728.8,607.7 L729.8,603.6 L730.8,599.6 L731.8,595.6 L732.8,591.8 L733.8,588.0 L734.8,584.3 L735.8,580.7 L736.8,577.3 L737.8,573.9 L738.8,570.7 L739.8,567.7 L740.8,564.8 L741.8,562.0 L742.8,559.4 L743.8,557.0 L744.8,554.8 L745.8,552.7 L746.8,550.9 L747.8,549.2 L748.8,547.8 L749.8,546.6 L750.8,545.6 L751.8,544.9 L752.8,544.4 L753.8,544.1 L754.8,544.1 L755.8,544.4 L756.8,544.9 L757.8,545.7 L758.8,546.7 L759.8,547.9 L760.8,549.3 L761.8,551.0 L762.8,552.8 L763.8,554.8 L764.8,557.1 L765.8,559.5 L766.8,562.0 L767.8,564.8 L768.8,567.7 L769.8,570.7 L770.8,573.9 L771.8,577.2 L772.8,580.6 L773.8,584.1 L774.8,587.8 L775.8,591.5 L776.8,595.3 L777.8,599.2 L778.8,603.1 L779.8,607.1 L780.8,611.1 L781.8,615.2 L782.8,619.2 L783.8,623.3 L784.8,627.4 L785.8,631.5 L786.8,635.6 L787.8,639.6 L788.8,643.6 L789.8,647.6 L790.8,651.5 L791.8,655.4 L792.8,659.2 L793.8,662.9 L794.8,666.5 L795.8,670.0 L796.8,673.5 L797.8,676.9 L798.8,680.1 L799.8,683.3 L800.8,686.3 L801.8,689.2 L802.8,692.0 L803.8,694.7 L804.8,697.3 L805.8,699.7 L806.8,701.9 L807.8,704.1 L808.8,706.1 L809.8,707.9 L810.8,709.6 L811.8,711.1 L812.8,712.4 L813.8,713.6 L814.8,714.7 L815.8,715.5 L816.8,716.3 L817.8,716.8 L818.8,717.2 L819.8,717.5 L820.8,717.6 L821.8,717.5 L822.8,717.3 L823.8,716.9 L824.8,716.3 L825.8,715.6 L826.8,714.7 L827.8,713.7 L828.8,712.5 L829.8,711.1 L830.8,709.6 L831.8,707.9 L832.8,706.0 L833.8,704.0 L834.8,701.9 L835.8,699.5 L836.8,697.1 L837.8,694.5 L838.8,691.9 L839.8,689.1 L840.8,686.3 L841.8,683.4 L842.8,680.5 L843.8,677.5 L844.8,674.5 L845.8,671.5 L846.8,668.5 L847.8,665.5 L848.8,662.6 L849.8,659.6 L850.8,656.8 L851.8,653.9 L852.8,651.2 L853.8,648.4 L854.8,645.7 L855.8,643.1 L856.8,640.5 L857.8,638.0 L858.8,635.6 L859.8,633.1 L860.8,630.8 L861.8,628.5 L862.8,626.3 L863.8,624.2 L864.8,622.1 L865.8,620.1 L866.8,618.1 L867.8,616.2 L868.8,614.4 L869.8,612.7 L870.8,611.0 L871.8,609.5 L872.8,608.0 L873.8,606.6 L874.8,605.2 L875.8,604.0 L876.8,602.8 L877.8,601.7 L878.8,600.7 L879.8,599.8 L880.8,599.0 L881.8,598.3 L882.8,597.7 L883.8,597.2 L884.8,596.8 L885.8,596.4 L886.8,596.2 L887.8,596.1 L888.8,596.1 L889.8,596.2 L890.8,596.4 L891.8,596.7 L892.8,597.1 L893.8,597.6 L894.8,598.3 L895.8,599.1 L896.8,599.9 L897.8,600.9 L898.8,602.0 L899.8,603.3 L900.8,604.7 L901.8,606.1 L902.8,607.8 L903.8,609.5 L904.8,611.3 L905.8,613.3 L906.8,615.3 L907.8,617.5 L908.8,619.7 L909.8,622.0 L910.8,624.3 L911.8,626.7 L912.8,629.1 L913.8,631.6 L914.8,634.1 L915.8,636.6 L916.8,639.1 L917.8,641.5 L918.8,644.0 L919.8,646.5 L920.8,648.9 L921.8,651.3 L922.8,653.6 L923.8,655.8 L924.8,658.0 L925.8,660.1 L926.8,662.2 L927.8,664.1 L928.8,665.9 L929.8,667.6 L930.8,669.2 L931.8,670.6 L932.8,671.9 L933.8,673.1 L934.8,674.1 L935.8,674.9 L936.8,675.7 L937.8,676.3 L938.8,676.7 L939.8,677.0 L940.8,677.2 L941.8,677.3 L942.8,677.2 L943.8,677.0 L944.8,676.7 L945.8,676.3 L946.8,675.7 L947.8,675.1 L948.8,674.3 L949.8,673.4 L950.8,672.4 L951.8,671.3 L952.8,670.0 L953.8,668.7 L954.8,667.3 L955.8,665.7 L956.8,664.2 L957.8,662.5 L958.8,660.8 L959.8,659.0 L960.8,657.1 L961.8,655.2 L962.8,653.3 L963.8,651.3 L964.8,649.3 L965.8,647.3 L966.8,645.3 L967.8,643.3 L968.8,641.3 L969.8,639.3 L970.8,637.3 L971.8,635.4 L972.8,633.4 L973.8,631.5 L974.8,629.7 L975.8,627.9 L976.8,626.2 L977.8,624.5 L978.8,622.9 L979.8,621.4 L980.8,619.9 L981.8,618.6 L982.8,617.3 L983.8,616.2 L984.8,615.1 L985.8,614.0 L986.8,613.1 L987.8,612.2 L988.8,611.4 L989.8,610.6 L990.8,609.9 L991.8,609.3 L992.8,608.7 L993.8,608.2 L994.8,607.8 L995.8,607.4 L996.8,607.1 L997.8,606.8 L998.8,606.5 L999.8,606.3 L1000.8,606.2 L1001.8,606.0 L1002.8,606.0 L1003.8,605.9 L1004.8,605.9 L1005.8,606.0 L1006.8,606.0 L1007.8,606.1 L1008.8,606.2 L1009.8,606.3 L1010.8,606.5 L1011.8,606.7 L1012.8,606.9 L1013.8,607.2 L1014.8,607.5 L1015.8,607.8 L1016.8,608.1 L1017.8,608.5 L1018.8,609.0 L1019.8,609.4 L1020.8,610.0 L1021.8,610.5 L1022.8,611.1 L1023.8,611.8 L1024.8,612.5 L1025.8,613.2 L1026.8,614.0 L1027.8,614.9 L1028.8,615.8 L1029.8,616.8 L1030.8,617.8 L1031.8,618.9 L1032.8,620.0 L1033.8,621.2 L1034.8,622.5 L1035.8,623.8 L1036.8,625.2 L1037.8,626.7 L1038.8,628.2 L1039.8,629.9 L1040.8,631.5 L1041.8,633.3 L1042.8,635.1 L1043.8,637.0 L1044.8,639.0 L1045.8,641.1 L1046.8,643.2 L1047.8,645.4 L1048.8,647.6 L1049.8,649.8 L1050.8,652.1 L1051.8,654.4 L1052.8,656.8 L1053.8,659.1 L1054.8,661.5 L1055.8,663.9 L1056.8,666.2 L1057.8,668.6 L1058.8,670.9 L1059.8,673.3 L1060.8,675.5 L1061.8,677.8 L1062.8,680.0 L1063.8,682.2 L1064.8,684.3 L1065.8,686.4 L1066.8,688.4 L1067.8,690.4 L1068.8,692.2 L1069.8,694.1 L1070.8,695.9 L1071.8,697.6 L1072.8,699.2 L1073.8,700.8 L1074.8,702.2 L1075.8,703.7 L1076.8,705.0 L1077.8,706.2 L1078.8,707.4 L1079.8,708.5 L1080.8,709.5 L1081.8,710.4 L1082.8,711.2 L1083.8,711.9 L1084.8,712.5 L1085.8,713.0 L1086.8,713.4 L1087.8,713.7 L1088.8,713.9 L1089.8,714.0 L1090.8,714.0 L1091.8,713.8 L1092.8,713.5 L1093.8,713.2 L1094.8,712.7 L1095.8,712.2 L1096.8,711.6 L1097.8,710.9 L1098.8,710.2 L1099.8,709.3 L1100.8,708.5 L1101.8,707.6 L1102.8,706.6 L1103.8,705.7 L1104.8,704.7 L1105.8,703.6 L1106.8,702.6 L1107.8,701.6 L1108.8,700.5 L1109.8,699.5 L1110.8,698.5 L1111.8,697.5 L1112.8,696.6 L1113.8,695.7 L1114.8,694.8 L1115.8,693.9 L1116.8,693.1 L1117.8,692.3 L1118.8,691.6 L1119.8,690.8 L1120.8,690.2 L1121.8,689.5 L1122.8,688.8 L1123.8,688.2 L1124.8,687.6 L1125.8,687.1 L1126.8,686.6 L1127.8,686.1 L1128.8,685.6 L1129.8,685.1 L1130.8,684.7 L1131.8,684.3 L1132.8,683.9 L1133.8,683.6 L1134.8,683.2 L1135.8,682.9 L1136.8,682.6 L1137.8,682.4 L1138.8,682.1 L1139.8,681.9 L1140.8,681.6 L1141.8,681.3 L1142.8,681.0 L1143.8,680.7 L1144.8,680.4 L1145.8,680.0 L1146.8,679.6 L1147.8,679.1 L1148.8,678.6 L1149.8,678.0 L1150.8,677.3 L1151.8,676.6 L1152.8,675.9 L1153.8,675.1 L1154.8,674.2 L1155.8,673.3 L1156.8,672.4 L1157.8,671.4 L1158.8,670.3 L1159.8,669.3 L1160.8,668.2 L1161.8,667.0 L1162.8,665.9 L1163.8,664.6 L1164.8,663.4 L1165.8,662.1 L1166.8,660.8 L1167.8,659.5 L1168.8,658.2 L1169.8,656.8 L1170.8,655.4 L1171.8,654.0 L1172.8,652.6 L1173.8,651.1 L1174.8,649.7 L1175.8,648.2 L1176.8,646.7 L1177.8,645.2 L1178.8,643.7 L1179.8,642.2 L1180.8,640.7 L1181.8,639.1 L1182.8,637.6 L1183.8,636.1 L1184.8,634.5 L1185.8,633.0 L1186.8,631.5 L1187.8,629.9 L1188.8,628.4 L1189.8,626.9 L1190.8,625.4 L1191.8,623.9 L1192.8,622.4 L1193.8,620.9 L1194.8,619.5 L1195.8,618.0 L1196.8,616.6 L1197.8,615.2 L1198.8,613.8 L1199.8,612.5 L1200.8,611.1 L1201.8,609.8 L1202.8,608.5 L1203.8,607.2 L1204.8,606.0 L1205.8,604.8 L1206.8,603.6 L1207.8,602.5 L1208.8,601.4 L1209.8,600.3 L1210.8,599.3 L1211.8,598.3 L1212.8,597.3 L1213.8,596.4 L1214.8,595.5 L1215.8,594.7 L1216.8,593.9 L1217.8,593.2 L1218.8,592.5 L1219.8,591.9 L1220.8,591.3 L1221.8,590.8 L1222.8,590.3 L1223.8,589.9 L1224.8,589.5 L1225.8,589.2 L1226.8,588.9 L1227.8,588.7 L1228.8,588.5 L1229.8,588.4 L1230.8,588.3 L1231.8,588.3 L1232.8,588.3 L1233.8,588.3 L1234.8,588.4 L1235.8,588.5 L1236.8,588.7 L1237.8,588.9 L1238.8,589.2 L1239.8,589.4 L1240.8,589.8 L1241.8,590.1 L1242.8,590.5 L1243.8,590.9 L1244.8,591.3 L1245.8,591.8 L1246.8,592.3 L1247.8,592.8 L1248.8,593.4 L1249.8,594.0 L1250.8,594.6 L1251.8,595.2 L1252.8,595.8 L1253.8,596.5 L1254.8,597.2 L1255.8,597.9 L1256.8,598.6 L1257.8,599.4 L1258.8,600.1 L1259.8,600.9 L1260.8,601.7 L1261.8,602.5 L1262.8,603.3 L1263.8,604.1 L1264.8,605.0 L1265.8,605.8 L1266.8,606.7 L1267.8,607.5 L1268.8,608.4 L1269.8,609.3 L1270.8,610.1 L1271.8,611.0 L1272.8,611.9 L1273.8,612.8 L1274.8,613.6 L1275.8,614.5 L1276.8,615.4 L1277.8,616.3 L1278.8,617.1 L1279.8,618.0 L1280.8,618.8 L1281.8,619.7 L1282.8,620.5 L1283.8,621.3 L1284.8,622.1 L1285.8,623.0 L1286.8,623.8 L1287.8,624.6 L1288.8,625.3 L1289.8,626.1 L1290.8,626.9 L1291.8,627.6 L1292.8,628.4 L1293.8,629.1 L1294.8,629.8 L1295.8,630.6 L1296.8,631.3 L1297.8,632.0 L1298.8,632.6 L1299.8,633.3 L1300.8,634.0 L1301.8,634.6 L1302.8,635.3 L1303.8,635.9 L1304.8,636.5 L1305.8,637.1 L1306.8,637.7 L1307.8,638.3 L1308.8,638.9 L1309.8,639.4 L1310.8,640.0 L1311.8,640.5 L1312.8,641.0 L1313.8,641.5 L1314.8,642.0 L1315.8,642.5 L1316.8,643.0 L1317.8,643.4 L1318.8,643.8 L1319.8,644.3 L1320.8,644.7 L1321.8,645.1 L1322.8,645.4 L1323.8,645.8 L1324.8,646.2 L1325.8,646.5 L1326.8,646.8 L1327.8,647.1 L1328.8,647.4 L1329.8,647.7 L1330.8,647.9 L1331.8,648.2 L1332.8,648.4 L1333.8,648.6 L1334.8,648.8 L1335.8,648.9 L1336.8,649.1 L1337.8,649.2 L1338.8,649.4 L1339.8,649.5 L1340.8,649.5 L1341.8,649.6 L1342.8,649.7 L1343.8,649.7 L1344.8,649.7 L1345.2,649.7" fill="none" stroke="#000" stroke-width="6.0" stroke-dasharray="6.3 10.4"/>
<circle cx="564.8" cy="726.9" r="9.8" fill="#ff0000"/>
<polygon points="1339.5,620.8 1343.8,625.2 1348.2,620.8 1352.6,625.2 1348.2,629.5 1352.6,633.9 1348.2,638.3 1343.8,633.9 1339.5,638.3 1335.1,633.9 1339.5,629.5 1335.1,625.2" fill="#ff0000" stroke="#ff0000" stroke-width="1.7" stroke-linejoin="round"/>
<path d="M564.8,868.0 L565.8,868.5 L566.8,869.1 L567.8,869.8 L568.8,870.6 L569.8,871.4 L570.8,872.3 L571.8,873.3 L572.8,874.3 L573.8,875.3 L574.8,876.4 L575.8,877.6 L576.8,878.8 L577.8,880.0 L578.8,881.2 L579.8,882.5 L580.8,883.8 L581.8,885.2 L582.8,886.5 L583.8,887.9 L584.8,889.3 L585.8,890.8 L586.8,892.2 L587.8,893.6 L588.8,895.0 L589.8,896.5 L590.8,897.9 L591.8,899.3 L592.8,900.8 L593.8,902.2 L594.8,903.6 L595.8,904.9 L596.8,906.3 L597.8,907.6 L598.8,908.9 L599.8,910.2 L600.8,911.4 L601.8,912.6 L602.8,913.8 L603.8,914.9 L604.8,916.0 L605.8,917.0 L606.8,918.0 L607.8,918.9 L608.8,919.7 L609.8,920.5 L610.8,921.3 L611.8,922.0 L612.8,922.6 L613.8,923.2 L614.8,923.7 L615.8,924.2 L616.8,924.7 L617.8,925.1 L618.8,925.5 L619.8,925.8 L620.8,926.1 L621.8,926.4 L622.8,926.6 L623.8,926.8 L624.8,926.9 L625.8,927.1 L626.8,927.2 L627.8,927.2 L628.8,927.3 L629.8,927.3 L630.8,927.3 L631.8,927.3 L632.8,927.2 L633.8,927.2 L634.8,927.1 L635.8,927.0 L636.8,926.9 L637.8,926.8 L638.8,926.7 L639.8,926.6 L640.8,926.4 L641.8,926.3 L642.8,926.2 L643.8,926.0 L644.8,925.9 L645.8,925.7 L646.8,925.6 L647.8,925.5 L648.8,925.4 L649.8,925.2 L650.8,925.1 L651.8,925.0 L652.8,925.0 L653.8,924.9 L654.8,924.9 L655.8,924.8 L656.8,924.8 L657.8,924.8 L658.8,924.8 L659.8,924.9 L660.8,924.9 L661.8,925.0 L662.8,925.1 L663.8,925.2 L664.8,925.3 L665.8,925.4 L666.8,925.5 L667.8,925.6 L668.8,925.7 L669.8,925.9 L670.8,926.0 L671.8,926.1 L672.8,926.3 L673.8,926.4 L674.8,926.5 L675.8,926.7 L676.8,926.8 L677.8,926.9 L678.8,927.0 L679.8,927.1 L680.8,927.2 L681.8,927.3 L682.8,927.3 L683.8,927.4 L684.8,927.4 L685.8,927.5 L686.8,927.5 L687.8,927.4 L688.8,927.4 L689.8,927.4 L690.8,927.3 L691.8,927.2 L692.8,927.1 L693.8,927.0 L694.8,926.8 L695.8,926.7 L696.8,926.5 L697.8,926.4 L698.8,926.2 L699.8,926.1 L700.8,925.9 L701.8,925.8 L702.8,925.6 L703.8,925.5 L704.8,925.4 L705.8,925.3 L706.8,925.2 L707.8,925.1 L708.8,925.0 L709.8,925.0 L710.8,924.9 L711.8,924.9 L712.8,924.9 L713.8,924.9 L714.8,924.9 L715.8,925.0 L716.8,925.0 L717.8,925.1 L718.8,925.2 L719.8,925.2 L720.8,925.3 L721.8,925.4 L722.8,925.6 L723.8,925.7 L724.8,925.8 L725.8,926.0 L726.8,926.1 L727.8,926.3 L728.8,926.4 L729.8,926.6 L730.8,926.8 L731.8,926.9 L732.8,927.1 L733.8,927.3 L734.8,927.5 L735.8,927.7 L736.8,927.9 L737.8,928.1 L738.8,928.3 L739.8,928.5 L740.8,928.7 L741.8,928.9 L742.8,929.2 L743.8,929.4 L744.8,929.6 L745.8,929.8 L746.8,930.0 L747.8,930.2 L748.8,930.4 L749.8,930.6 L750.8,930.8 L751.8,931.0 L752.8,931.2 L753.8,931.4 L754.8,931.6 L755.8,931.8 L756.8,931.9 L757.8,932.1 L758.8,932.3 L759.8,932.4 L760.8,932.6 L761.8,932.7 L762.8,932.9 L763.8,933.0 L764.8,933.2 L765.8,933.3 L766.8,933.5 L767.8,933.6 L768.8,933.8 L769.8,933.9 L770.8,934.1 L771.8,934.2 L772.8,934.4 L773.8,934.5 L774.8,934.7 L775.8,934.8 L776.8,935.0 L777.8,935.2 L778.8,935.3 L779.8,935.5 L780.8,935.7 L781.8,935.9 L782.8,936.1 L783.8,936.3 L784.8,936.5 L785.8,936.7 L786.8,936.9 L787.8,937.2 L788.8,937.4 L789.8,937.6 L790.8,937.9 L791.8,938.1 L792.8,938.4 L793.8,938.6 L794.8,938.8 L795.8,939.0 L796.8,939.2 L797.8,939.4 L798.8,939.6 L799.8,939.8 L800.8,939.9 L801.8,940.1 L802.8,940.2 L803.8,940.2 L804.8,940.3 L805.8,940.3 L806.8,940.3 L807.8,940.3 L808.8,940.3 L809.8,940.2 L810.8,940.1 L811.8,940.0 L812.8,939.9 L813.8,939.7 L814.8,939.5 L815.8,939.4 L816.8,939.1 L817.8,938.9 L818.8,938.7 L819.8,938.4 L820.8,938.2 L821.8,937.9 L822.8,937.6 L823.8,937.3 L824.8,936.9 L825.8,936.6 L826.8,936.2 L827.8,935.9 L828.8,935.5 L829.8,935.1 L830.8,934.8 L831.8,934.4 L832.8,934.0 L833.8,933.6 L834.8,933.1 L835.8,932.7 L836.8,932.3 L837.8,931.9 L838.8,931.5 L839.8,931.0 L840.8,930.6 L841.8,930.2 L842.8,929.7 L843.8,929.3 L844.8,928.9 L845.8,928.4 L846.8,928.0 L847.8,927.6 L848.8,927.1 L849.8,926.7 L850.8,926.3 L851.8,925.9 L852.8,925.5 L853.8,925.1 L854.8,924.7 L855.8,924.4 L856.8,924.0 L857.8,923.7 L858.8,923.3 L859.8,923.0 L860.8,922.7 L861.8,922.5 L862.8,922.2 L863.8,922.0 L864.8,921.8 L865.8,921.7 L866.8,921.6 L867.8,921.5 L868.8,921.4 L869.8,921.4 L870.8,921.4 L871.8,921.4 L872.8,921.5 L873.8,921.6 L874.8,921.7 L875.8,921.8 L876.8,921.9 L877.8,922.0 L878.8,922.2 L879.8,922.3 L880.8,922.5 L881.8,922.6 L882.8,922.8 L883.8,922.9 L884.8,923.1 L885.8,923.2 L886.8,923.3 L887.8,923.4 L888.8,923.5 L889.8,923.6 L890.8,923.7 L891.8,923.8 L892.8,923.9 L893.8,924.0 L894.8,924.0 L895.8,924.1 L896.8,924.1 L897.8,924.2 L898.8,924.2 L899.8,924.2 L900.8,924.3 L901.8,924.3 L902.8,924.3 L903.8,924.3 L904.8,924.3 L905.8,924.3 L906.8,924.3 L907.8,924.3 L908.8,924.3 L909.8,924.3 L910.8,924.3 L911.8,924.2 L912.8,924.2 L913.8,924.1 L914.8,924.1 L915.8,924.0 L916.8,923.9 L917.8,923.8 L918.8,923.7 L919.8,923.6 L920.8,923.5 L921.8,923.4 L922.8,923.2 L923.8,923.1 L924.8,922.9 L925.8,922.7 L926.8,922.5 L927.8,922.3 L928.8,922.1 L929.8,921.9 L930.8,921.6 L931.8,921.4 L932.8,921.1 L933.8,920.8 L934.8,920.5 L935.8,920.2 L936.8,919.8 L937.8,919.5 L938.8,919.2 L939.8,918.8 L940.8,918.4 L941.8,918.1 L942.8,917.7 L943.8,917.4 L944.8,917.1 L945.8,916.7 L946.8,916.4 L947.8,916.1 L948.8,915.8 L949.8,915.5 L950.8,915.2 L951.8,915.0 L952.8,914.8 L953.8,914.6 L954.8,914.4 L955.8,914.2 L956.8,914.1 L957.8,914.0 L958.8,913.9 L959.8,913.8 L960.8,913.7 L961.8,913.7 L962.8,913.7 L963.8,913.7 L964.8,913.7 L965.8,913.7 L966.8,913.7 L967.8,913.8 L968.8,913.8 L969.8,913.9 L970.8,914.0 L971.8,914.1 L972.8,914.3 L973.8,914.4 L974.8,914.6 L975.8,914.7 L976.8,914.9 L977.8,915.1 L978.8,915.3 L979.8,915.5 L980.8,915.7 L981.8,916.0 L982.8,916.2 L983.8,916.5 L984.8,916.8 L985.8,917.0 L986.8,917.3 L987.8,917.6 L988.8,917.9 L989.8,918.2 L990.8,918.4 L991.8,918.7 L992.8,918.9 L993.8,919.2 L994.8,919.4 L995.8,919.6 L996.8,919.7 L997.8,919.9 L998.8,920.0 L999.8,920.1 L1000.8,920.2 L1001.8,920.2 L1002.8,920.2 L1003.8,920.2 L1004.8,920.1 L1005.8,920.1 L1006.8,920.0 L1007.8,919.9 L1008.8,919.8 L1009.8,919.6 L1010.8,919.5 L1011.8,919.3 L1012.8,919.2 L1013.8,919.0 L1014.8,918.9 L1015.8,918.7 L1016.8,918.5 L1017.8,918.4 L1018.8,918.2 L1019.8,918.1 L1020.8,918.0 L1021.8,917.9 L1022.8,917.8 L1023.8,917.7 L1024.8,917.6 L1025.8,917.6 L1026.8,917.6 L1027.8,917.6 L1028.8,917.6 L1029.8,917.7 L1030.8,917.8 L1031.8,917.9 L1032.8,918.1 L1033.8,918.3 L1034.8,918.5 L1035.8,918.8 L1036.8,919.1 L1037.8,919.4 L1038.8,919.7 L1039.8,920.1 L1040.8,920.5 L1041.8,920.8 L1042.8,921.2 L1043.8,921.6 L1044.8,922.0 L1045.8,922.4 L1046.8,922.8 L1047.8,923.1 L1048.8,923.5 L1049.8,923.8 L1050.8,924.2 L1051.8,924.5 L1052.8,924.8 L1053.8,925.1 L1054.8,925.4 L1055.8,925.6 L1056.8,925.9 L1057.8,926.1 L1058.8,926.4 L1059.8,926.6 L1060.8,926.8 L1061.8,927.0 L1062.8,927.2 L1063.8,927.4 L1064.8,927.6 L1065.8,927.7 L1066.8,927.9 L1067.8,928.0 L1068.8,928.2 L1069.8,928.3 L1070.8,928.5 L1071.8,928.6 L1072.8,928.7 L1073.8,928.8 L1074.8,928.9 L1075.8,929.1 L1076.8,929.2 L1077.8,929.3 L1078.8,929.4 L1079.8,929.5 L1080.8,929.6 L1081.8,929.7 L1082.8,929.8 L1083.8,929.9 L1084.8,930.0 L1085.8,930.0 L1086.8,930.1 L1087.8,930.2 L1088.8,930.3 L1089.8,930.3 L1090.8,930.3 L1091.8,930.4 L1092.8,930.4 L1093.8,930.4 L1094.8,930.4 L1095.8,930.3 L1096.8,930.3 L1097.8,930.2 L1098.8,930.1 L1099.8,930.0 L1100.8,929.9 L1101.8,929.7 L1102.8,929.5 L1103.8,929.4 L1104.8,929.2 L1105.8,929.0 L1106.8,928.7 L1107.8,928.5 L1108.8,928.3 L1109.8,928.0 L1110.8,927.8 L1111.8,927.5 L1112.8,927.3 L1113.8,927.0 L1114.8,926.8 L1115.8,926.6 L1116.8,926.3 L1117.8,926.1 L1118.8,925.9 L1119.8,925.7 L1120.8,925.5 L1121.8,925.3 L1122.8,925.1 L1123.8,924.9 L1124.8,924.8 L1125.8,924.7 L1126.8,924.6 L1127.8,924.5 L1128.8,924.4 L1129.8,924.4 L1130.8,924.4 L1131.8,924.4 L1132.8,924.4 L1133.8,924.5 L1134.8,924.6 L1135.8,924.7 L1136.8,924.8 L1137.8,925.0 L1138.8,925.1 L1139.8,925.3 L1140.8,925.5 L1141.8,925.7 L1142.8,925.9 L1143.8,926.2 L1144.8,926.4 L1145.8,926.6 L1146.8,926.9 L1147.8,927.1 L1148.8,927.4 L1149.8,927.6 L1150.8,927.9 L1151.8,928.1 L1152.8,928.4 L1153.8,928.6 L1154.8,928.9 L1155.8,929.1 L1156.8,929.3 L1157.8,929.6 L1158.8,929.8 L1159.8,930.0 L1160.8,930.2 L1161.8,930.4 L1162.8,930.6 L1163.8,930.8 L1164.8,930.9 L1165.8,931.1 L1166.8,931.2 L1167.8,931.3 L1168.8,931.5 L1169.8,931.5 L1170.8,931.6 L1171.8,931.7 L1172.8,931.7 L1173.8,931.8 L1174.8,931.8 L1175.8,931.8 L1176.8,931.7 L1177.8,931.7 L1178.8,931.6 L1179.8,931.5 L1180.8,931.4 L1181.8,931.2 L1182.8,931.0 L1183.8,930.9 L1184.8,930.6 L1185.8,930.4 L1186.8,930.2 L1187.8,929.9 L1188.8,929.6 L1189.8,929.4 L1190.8,929.1 L1191.8,928.8 L1192.8,928.5 L1193.8,928.2 L1194.8,927.9 L1195.8,927.6 L1196.8,927.3 L1197.8,927.0 L1198.8,926.7 L1199.8,926.5 L1200.8,926.2 L1201.8,925.9 L1202.8,925.7 L1203.8,925.4 L1204.8,925.2 L1205.8,924.9 L1206.8,924.7 L1207.8,924.5 L1208.8,924.3 L1209.8,924.1 L1210.8,923.9 L1211.8,923.7 L1212.8,923.5 L1213.8,923.3 L1214.8,923.1 L1215.8,923.0 L1216.8,922.8 L1217.8,922.7 L1218.8,922.5 L1219.8,922.4 L1220.8,922.3 L1221.8,922.2 L1222.8,922.1 L1223.8,922.0 L1224.8,921.9 L1225.8,921.8 L1226.8,921.7 L1227.8,921.7 L1228.8,921.6 L1229.8,921.5 L1230.8,921.5 L1231.8,921.5 L1232.8,921.5 L1233.8,921.4 L1234.8,921.4 L1235.8,921.4 L1236.8,921.5 L1237.8,921.5 L1238.8,921.5 L1239.8,921.6 L1240.8,921.6 L1241.8,921.7 L1242.8,921.7 L1243.8,921.8 L1244.8,921.9 L1245.8,922.0 L1246.8,922.1 L1247.8,922.2 L1248.8,922.4 L1249.8,922.5 L1250.8,922.6 L1251.8,922.8 L1252.8,923.0 L1253.8,923.1 L1254.8,923.3 L1255.8,923.5 L1256.8,923.7 L1257.8,923.8 L1258.8,924.0 L1259.8,924.2 L1260.8,924.4 L1261.8,924.6 L1262.8,924.8 L1263.8,925.0 L1264.8,925.1 L1265.8,925.3 L1266.8,925.5 L1267.8,925.7 L1268.8,925.9 L1269.8,926.0 L1270.8,926.2 L1271.8,926.3 L1272.8,926.5 L1273.8,926.6 L1274.8,926.8 L1275.8,926.9 L1276.8,927.0 L1277.8,927.1 L1278.8,927.2 L1279.8,927.3 L1280.8,927.3 L1281.8,927.4 L1282.8,927.4 L1283.8,927.4 L1284.8,927.4 L1285.8,927.4 L1286.8,927.4 L1287.8,927.4 L1288.8,927.3 L1289.8,927.2 L1290.8,927.1 L1291.8,927.0 L1292.8,926.9 L1293.8,926.7 L1294.8,926.5 L1295.8,926.3 L1296.8,926.1 L1297.8,925.8 L1298.8,925.5 L1299.8,925.2 L1300.8,924.9 L1301.8,924.6 L1302.8,924.3 L1303.8,923.9 L1304.8,923.5 L1305.8,923.2 L1306.8,922.8 L1307.8,922.4 L1308.8,922.0 L1309.8,921.6 L1310.8,921.2 L1311.8,920.8 L1312.8,920.4 L1313.8,920.0 L1314.8,919.6 L1315.8,919.3 L1316.8,918.9 L1317.8,918.5 L1318.8,918.2 L1319.8,917.8 L1320.8,917.5 L1321.8,917.2 L1322.8,916.9 L1323.8,916.7 L1324.8,916.4 L1325.8,916.2 L1326.8,916.0 L1327.8,915.9 L1328.8,915.7 L1329.8,915.6 L1330.8,915.6 L1331.8,915.5 L1332.8,915.5 L1333.8,915.5 L1334.8,915.6 L1335.8,915.7 L1336.8,915.9 L1337.8,916.1 L1338.8,916.3 L1339.8,916.6 L1340.8,916.9 L1341.8,917.3 L1342.0,917.4" fill="none" stroke="#808080" stroke-width="6.3" stroke-dasharray="6.3 10.4"/>
<path d="M564.8,868.0 L565.8,868.3 L566.8,868.7 L567.8,869.2 L568.8,869.9 L569.8,870.7 L570.8,871.6 L571.8,872.6 L572.8,873.7 L573.8,875.0 L574.8,876.4 L575.8,877.9 L576.8,879.6 L577.8,881.4 L578.8,883.2 L579.8,885.2 L580.8,887.4 L581.8,889.6 L582.8,892.0 L583.8,894.4 L584.8,897.0 L585.8,899.7 L586.8,902.6 L587.8,905.5 L588.8,908.5 L589.8,911.7 L590.8,914.9 L591.8,918.2 L592.8,921.7 L593.8,925.2 L594.8,928.8 L595.8,932.5 L596.8,936.2 L597.8,940.0 L598.8,943.9 L599.8,947.9 L600.8,951.9 L601.8,955.9 L602.8,960.0 L603.8,964.1 L604.8,968.3 L605.8,972.5 L606.8,976.7 L607.8,980.9 L608.8,985.1 L609.8,989.3 L610.8,993.5 L611.8,997.6 L612.8,1001.7 L613.8,1005.6 L614.8,1009.5 L615.8,1013.3 L616.8,1016.9 L617.8,1020.4 L618.8,1023.7 L619.8,1026.8 L620.8,1029.7 L621.8,1032.4 L622.8,1034.9 L623.8,1037.1 L624.8,1039.1 L625.8,1040.7 L626.8,1042.1 L627.8,1043.1 L628.8,1043.8 L629.8,1044.2 L630.8,1044.2 L631.8,1043.9 L632.8,1043.2 L633.8,1042.3 L634.8,1041.1 L635.8,1039.6 L636.8,1037.8 L637.8,1035.8 L638.8,1033.6 L639.8,1031.1 L640.8,1028.5 L641.8,1025.6 L642.8,1022.6 L643.8,1019.4 L644.8,1016.1 L645.8,1012.6 L646.8,1009.0 L647.8,1005.3 L648.8,1001.4 L649.8,997.5 L650.8,993.5 L651.8,989.5 L652.8,985.4 L653.8,981.2 L654.8,977.0 L655.8,972.8 L656.8,968.6 L657.8,964.4 L658.8,960.2 L659.8,956.1 L660.8,951.9 L661.8,947.8 L662.8,943.7 L663.8,939.7 L664.8,935.7 L665.8,931.8 L666.8,928.0 L667.8,924.2 L668.8,920.6 L669.8,917.0 L670.8,913.6 L671.8,910.3 L672.8,907.1 L673.8,904.1 L674.8,901.2 L675.8,898.5 L676.8,896.0 L677.8,893.6 L678.8,891.4 L679.8,889.3 L680.8,887.4 L681.8,885.7 L682.8,884.2 L683.8,882.8 L684.8,881.6 L685.8,880.6 L686.8,879.7 L687.8,879.0 L688.8,878.5 L689.8,878.1 L690.8,877.9 L691.8,877.8 L692.8,877.9 L693.8,878.1 L694.8,878.5 L695.8,879.1 L696.8,879.8 L697.8,880.6 L698.8,881.6 L699.8,882.8 L700.8,884.1 L701.8,885.5 L702.8,887.1 L703.8,888.8 L704.8,890.7 L705.8,892.7 L706.8,894.8 L707.8,897.1 L708.8,899.4 L709.8,901.9 L710.8,904.5 L711.8,907.3 L712.8,910.1 L713.8,913.0 L714.8,916.0 L715.8,919.1 L716.8,922.4 L717.8,925.7 L718.8,929.1 L719.8,932.5 L720.8,936.1 L721.8,939.7 L722.8,943.4 L723.8,947.2 L724.8,951.0 L725.8,954.9 L726.8,958.9 L727.8,962.8 L728.8,966.9 L729.8,970.9 L730.8,975.0 L731.8,979.1 L732.8,983.2 L733.8,987.3 L734.8,991.4 L735.8,995.4 L736.8,999.3 L737.8,1003.1 L738.8,1006.8 L739.8,1010.4 L740.8,1013.7 L741.8,1016.9 L742.8,1019.8 L743.8,1022.6 L744.8,1025.2 L745.8,1027.5 L746.8,1029.6 L747.8,1031.5 L748.8,1033.1 L749.8,1034.5 L750.8,1035.6 L751.8,1036.5 L752.8,1037.1 L753.8,1037.4 L754.8,1037.5 L755.8,1037.2 L756.8,1036.7 L757.8,1035.8 L758.8,1034.6 L759.8,1033.2 L760.8,1031.3 L761.8,1029.2 L762.8,1026.7 L763.8,1023.8 L764.8,1020.7 L765.8,1017.3 L766.8,1013.7 L767.8,1009.8 L768.8,1005.8 L769.8,1001.5 L770.8,997.1 L771.8,992.6 L772.8,987.9 L773.8,983.2 L774.8,978.4 L775.8,973.5 L776.8,968.7 L777.8,963.8 L778.8,959.0 L779.8,954.2 L780.8,949.5 L781.8,944.8 L782.8,940.1 L783.8,935.5 L784.8,930.9 L785.8,926.4 L786.8,921.9 L787.8,917.6 L788.8,913.2 L789.8,909.0 L790.8,904.8 L791.8,900.7 L792.8,896.7 L793.8,892.9 L794.8,889.1 L795.8,885.4 L796.8,881.8 L797.8,878.4 L798.8,875.1 L799.8,871.9 L800.8,868.8 L801.8,865.9 L802.8,863.1 L803.8,860.5 L804.8,858.1 L805.8,855.8 L806.8,853.7 L807.8,851.7 L808.8,849.9 L809.8,848.4 L810.8,847.0 L811.8,845.8 L812.8,844.7 L813.8,843.9 L814.8,843.2 L815.8,842.7 L816.8,842.3 L817.8,842.2 L818.8,842.1 L819.8,842.3 L820.8,842.6 L821.8,843.0 L822.8,843.6 L823.8,844.3 L824.8,845.2 L825.8,846.2 L826.8,847.3 L827.8,848.6 L828.8,850.0 L829.8,851.5 L830.8,853.1 L831.8,854.9 L832.8,856.7 L833.8,858.7 L834.8,860.8 L835.8,863.0 L836.8,865.3 L837.8,867.7 L838.8,870.2 L839.8,872.8 L840.8,875.4 L841.8,878.2 L842.8,881.1 L843.8,884.1 L844.8,887.1 L845.8,890.3 L846.8,893.5 L847.8,896.8 L848.8,900.2 L849.8,903.7 L850.8,907.2 L851.8,910.8 L852.8,914.5 L853.8,918.3 L854.8,922.1 L855.8,925.9 L856.8,929.9 L857.8,933.9 L858.8,937.9 L859.8,942.0 L860.8,946.2 L861.8,950.3 L862.8,954.5 L863.8,958.7 L864.8,962.9 L865.8,967.1 L866.8,971.4 L867.8,975.6 L868.8,979.8 L869.8,983.9 L870.8,988.1 L871.8,992.2 L872.8,996.2 L873.8,1000.2 L874.8,1004.1 L875.8,1008.0 L876.8,1011.8 L877.8,1015.4 L878.8,1019.0 L879.8,1022.4 L880.8,1025.7 L881.8,1028.9 L882.8,1031.9 L883.8,1034.7 L884.8,1037.4 L885.8,1040.0 L886.8,1042.4 L887.8,1044.6 L888.8,1046.7 L889.8,1048.7 L890.8,1050.5 L891.8,1052.2 L892.8,1053.7 L893.8,1055.1 L894.8,1056.3 L895.8,1057.4 L896.8,1058.4 L897.8,1059.2 L898.8,1059.9 L899.8,1060.4 L900.8,1060.8 L901.8,1061.0 L902.8,1061.1 L903.8,1061.0 L904.8,1060.9 L905.8,1060.5 L906.8,1060.1 L907.8,1059.5 L908.8,1058.8 L909.8,1058.1 L910.8,1057.2 L911.8,1056.2 L912.8,1055.2 L913.8,1054.1 L914.8,1053.0 L915.8,1051.8 L916.8,1050.5 L917.8,1049.2 L918.8,1048.0 L919.8,1046.7 L920.8,1045.4 L921.8,1044.1 L922.8,1042.8 L923.8,1041.5 L924.8,1040.3 L925.8,1039.1 L926.8,1038.0 L927.8,1036.9 L928.8,1035.8 L929.8,1034.7 L930.8,1033.7 L931.8,1032.7 L932.8,1031.7 L933.8,1030.8 L934.8,1029.8 L935.8,1028.9 L936.8,1028.1 L937.8,1027.2 L938.8,1026.4 L939.8,1025.5 L940.8,1024.7 L941.8,1024.0 L942.8,1023.2 L943.8,1022.4 L944.8,1021.7 L945.8,1021.0 L946.8,1020.2 L947.8,1019.5 L948.8,1018.8 L949.8,1018.1 L950.8,1017.4 L951.8,1016.8 L952.8,1016.1 L953.8,1015.4 L954.8,1014.7 L955.8,1014.0 L956.8,1013.4 L957.8,1012.7 L958.8,1012.0 L959.8,1011.2 L960.8,1010.5 L961.8,1009.8 L962.8,1009.0 L963.8,1008.2 L964.8,1007.4 L965.8,1006.5 L966.8,1005.6 L967.8,1004.7 L968.8,1003.8 L969.8,1002.8 L970.8,1001.7 L971.8,1000.6 L972.8,999.5 L973.8,998.3 L974.8,997.1 L975.8,995.8 L976.8,994.4 L977.8,993.0 L978.8,991.5 L979.8,989.9 L980.8,988.3 L981.8,986.6 L982.8,984.8 L983.8,983.0 L984.8,981.1 L985.8,979.1 L986.8,977.1 L987.8,975.1 L988.8,972.9 L989.8,970.8 L990.8,968.6 L991.8,966.3 L992.8,964.0 L993.8,961.7 L994.8,959.3 L995.8,956.9 L996.8,954.4 L997.8,951.9 L998.8,949.4 L999.8,946.9 L1000.8,944.4 L1001.8,941.8 L1002.8,939.2 L1003.8,936.6 L1004.8,934.0 L1005.8,931.3 L1006.8,928.7 L1007.8,926.1 L1008.8,923.4 L1009.8,920.8 L1010.8,918.1 L1011.8,915.5 L1012.8,912.8 L1013.8,910.2 L1014.8,907.6 L1015.8,905.0 L1016.8,902.4 L1017.8,899.8 L1018.8,897.3 L1019.8,894.8 L1020.8,892.3 L1021.8,889.8 L1022.8,887.3 L1023.8,884.9 L1024.8,882.6 L1025.8,880.2 L1026.8,877.9 L1027.8,875.7 L1028.8,873.5 L1029.8,871.3 L1030.8,869.2 L1031.8,867.1 L1032.8,865.1 L1033.8,863.1 L1034.8,861.2 L1035.8,859.4 L1036.8,857.6 L1037.8,855.8 L1038.8,854.1 L1039.8,852.5 L1040.8,850.9 L1041.8,849.4 L1042.8,847.9 L1043.8,846.5 L1044.8,845.1 L1045.8,843.8 L1046.8,842.6 L1047.8,841.4 L1048.8,840.3 L1049.8,839.2 L1050.8,838.2 L1051.8,837.3 L1052.8,836.5 L1053.8,835.7 L1054.8,834.9 L1055.8,834.3 L1056.8,833.7 L1057.8,833.2 L1058.8,832.7 L1059.8,832.3 L1060.8,832.0 L1061.8,831.8 L1062.8,831.6 L1063.8,831.5 L1064.8,831.5 L1065.8,831.5 L1066.8,831.6 L1067.8,831.8 L1068.8,832.1 L1069.8,832.5 L1070.8,833.0 L1071.8,833.5 L1072.8,834.2 L1073.8,834.9 L1074.8,835.7 L1075.8,836.7 L1076.8,837.7 L1077.8,838.9 L1078.8,840.1 L1079.8,841.5 L1080.8,842.9 L1081.8,844.5 L1082.8,846.2 L1083.8,848.0 L1084.8,850.0 L1085.8,852.1 L1086.8,854.2 L1087.8,856.6 L1088.8,859.0 L1089.8,861.6 L1090.8,864.3 L1091.8,867.2 L1092.8,870.2 L1093.8,873.3 L1094.8,876.6 L1095.8,880.0 L1096.8,883.6 L1097.8,887.3 L1098.8,891.1 L1099.8,895.1 L1100.8,899.1 L1101.8,903.2 L1102.8,907.3 L1103.8,911.4 L1104.8,915.5 L1105.8,919.6 L1106.8,923.6 L1107.8,927.6 L1108.8,931.4 L1109.8,935.2 L1110.8,938.8 L1111.8,942.3 L1112.8,945.5 L1113.8,948.6 L1114.8,951.5 L1115.8,954.1 L1116.8,956.4 L1117.8,958.5 L1118.8,960.2 L1119.8,961.7 L1120.8,962.8 L1121.8,963.7 L1122.8,964.2 L1123.8,964.5 L1124.8,964.6 L1125.8,964.4 L1126.8,964.0 L1127.8,963.4 L1128.8,962.6 L1129.8,961.6 L1130.8,960.4 L1131.8,959.0 L1132.8,957.5 L1133.8,955.8 L1134.8,954.0 L1135.8,952.1 L1136.8,950.1 L1137.8,947.9 L1138.8,945.7 L1139.8,943.4 L1140.8,941.0 L1141.8,938.6 L1142.8,936.1 L1143.8,933.6 L1144.8,931.0 L1145.8,928.4 L1146.8,925.9 L1147.8,923.3 L1148.8,920.8 L1149.8,918.3 L1150.8,915.8 L1151.8,913.3 L1152.8,911.0 L1153.8,908.7 L1154.8,906.5 L1155.8,904.4 L1156.8,902.3 L1157.8,900.4 L1158.8,898.6 L1159.8,896.9 L1160.8,895.3 L1161.8,893.8 L1162.8,892.4 L1163.8,891.1 L1164.8,889.9 L1165.8,888.8 L1166.8,887.7 L1167.8,886.8 L1168.8,886.0 L1169.8,885.3 L1170.8,884.6 L1171.8,884.1 L1172.8,883.6 L1173.8,883.3 L1174.8,883.0 L1175.8,882.8 L1176.8,882.8 L1177.8,882.8 L1178.8,882.8 L1179.8,883.0 L1180.8,883.3 L1181.8,883.6 L1182.8,884.0 L1183.8,884.5 L1184.8,885.1 L1185.8,885.7 L1186.8,886.4 L1187.8,887.2 L1188.8,888.0 L1189.8,888.9 L1190.8,889.9 L1191.8,890.9 L1192.8,891.9 L1193.8,893.1 L1194.8,894.2 L1195.8,895.4 L1196.8,896.7 L1197.8,898.0 L1198.8,899.3 L1199.8,900.7 L1200.8,902.1 L1201.8,903.5 L1202.8,905.0 L1203.8,906.5 L1204.8,908.0 L1205.8,909.6 L1206.8,911.1 L1207.8,912.7 L1208.8,914.3 L1209.8,915.9 L1210.8,917.5 L1211.8,919.1 L1212.8,920.8 L1213.8,922.4 L1214.8,924.0 L1215.8,925.7 L1216.8,927.3 L1217.8,928.9 L1218.8,930.5 L1219.8,932.1 L1220.8,933.7 L1221.8,935.3 L1222.8,936.8 L1223.8,938.3 L1224.8,939.8 L1225.8,941.3 L1226.8,942.8 L1227.8,944.2 L1228.8,945.6 L1229.8,946.9 L1230.8,948.2 L1231.8,949.5 L1232.8,950.7 L1233.8,952.0 L1234.8,953.1 L1235.8,954.2 L1236.8,955.3 L1237.8,956.4 L1238.8,957.4 L1239.8,958.4 L1240.8,959.3 L1241.8,960.2 L1242.8,961.1 L1243.8,961.9 L1244.8,962.7 L1245.8,963.4 L1246.8,964.1 L1247.8,964.8 L1248.8,965.4 L1249.8,966.0 L1250.8,966.5 L1251.8,967.1 L1252.8,967.5 L1253.8,967.9 L1254.8,968.3 L1255.8,968.7 L1256.8,969.0 L1257.8,969.3 L1258.8,969.5 L1259.8,969.7 L1260.8,969.8 L1261.8,969.9 L1262.8,970.0 L1263.8,970.0 L1264.8,970.0 L1265.8,970.0 L1266.8,969.9 L1267.8,969.7 L1268.8,969.6 L1269.8,969.4 L1270.8,969.2 L1271.8,969.0 L1272.8,968.7 L1273.8,968.4 L1274.8,968.1 L1275.8,967.8 L1276.8,967.4 L1277.8,967.1 L1278.8,966.7 L1279.8,966.3 L1280.8,965.9 L1281.8,965.5 L1282.8,965.1 L1283.8,964.6 L1284.8,964.2 L1285.8,963.8 L1286.8,963.4 L1287.8,962.9 L1288.8,962.5 L1289.8,962.1 L1290.8,961.7 L1291.8,961.3 L1292.8,960.9 L1293.8,960.5 L1294.8,960.1 L1295.8,959.7 L1296.8,959.4 L1297.8,959.0 L1298.8,958.7 L1299.8,958.3 L1300.8,958.0 L1301.8,957.7 L1302.8,957.4 L1303.8,957.1 L1304.8,956.9 L1305.8,956.6 L1306.8,956.3 L1307.8,956.1 L1308.8,955.9 L1309.8,955.7 L1310.8,955.5 L1311.8,955.4 L1312.8,955.2 L1313.8,955.1 L1314.8,955.0 L1315.8,954.9 L1316.8,954.8 L1317.8,954.7 L1318.8,954.7 L1319.8,954.7 L1320.8,954.7 L1321.8,954.7 L1322.8,954.8 L1323.8,954.9 L1324.8,955.0 L1325.8,955.1 L1326.8,955.3 L1327.8,955.4 L1328.8,955.6 L1329.8,955.9 L1330.8,956.1 L1331.8,956.4 L1332.8,956.7 L1333.8,957.0 L1334.8,957.4 L1335.8,957.7 L1336.8,958.1 L1337.8,958.4 L1338.8,958.8 L1339.8,959.2 L1340.8,959.6 L1341.8,960.1 L1342.8,960.5 L1343.8,960.9 L1344.8,961.3 L1345.2,961.5" fill="none" stroke="#1f77b4" stroke-width="6.3" stroke-linejoin="round"/>
<path d="M564.8,868.0 L565.8,868.3 L566.8,868.7 L567.8,869.2 L568.8,869.9 L569.8,870.7 L570.8,871.6 L571.8,872.6 L572.8,873.7 L573.8,875.0 L574.8,876.4 L575.8,877.9 L576.8,879.6 L577.8,881.4 L578.8,883.2 L579.8,885.2 L580.8,887.4 L581.8,889.6 L582.8,892.0 L583.8,894.4 L584.8,897.0 L585.8,899.7 L586.8,902.6 L587.8,905.5 L588.8,908.5 L589.8,911.7 L590.8,914.9 L591.8,918.2 L592.8,921.7 L593.8,925.2 L594.8,928.8 L595.8,932.5 L596.8,936.2 L597.8,940.0 L598.8,943.9 L599.8,947.9 L600.8,951.9 L601.8,955.9 L602.8,960.0 L603.8,964.1 L604.8,968.3 L605.8,972.5 L606.8,976.7 L607.8,980.9 L608.8,985.1 L609.8,989.3 L610.8,993.5 L611.8,997.6 L612.8,1001.7 L613.8,1005.6 L614.8,1009.5 L615.8,1013.3 L616.8,1016.9 L617.8,1020.4 L618.8,1023.7 L619.8,1026.8 L620.8,1029.7 L621.8,1032.4 L622.8,1034.9 L623.8,1037.1 L624.8,1039.1 L625.8,1040.7 L626.8,1042.1 L627.8,1043.1 L628.8,1043.8 L629.8,1044.2 L630.8,1044.2 L631.8,1043.9 L632.8,1043.2 L633.8,1042.3 L634.8,1041.1 L635.8,1039.6 L636.8,1037.8 L637.8,1035.8 L638.8,1033.6 L639.8,1031.1 L640.8,1028.5 L641.8,1025.6 L642.8,1022.6 L643.8,1019.4 L644.8,1016.1 L645.8,1012.6 L646.8,1009.0 L647.8,1005.3 L648.8,1001.4 L649.8,997.5 L650.8,993.5 L651.8,989.5 L652.8,985.4 L653.8,981.2 L654.8,977.0 L655.8,972.8 L656.8,968.6 L657.8,964.4 L658.8,960.2 L659.8,956.1 L660.8,951.9 L661.8,947.8 L662.8,943.7 L663.8,939.7 L664.8,935.7 L665.8,931.8 L666.8,928.0 L667.8,924.2 L668.8,920.6 L669.8,917.0 L670.8,913.6 L671.8,910.3 L672.8,907.1 L673.8,904.1 L674.8,901.2 L675.8,898.5 L676.8,896.0 L677.8,893.6 L678.8,891.4 L679.8,889.3 L680.8,887.4 L681.8,885.7 L682.8,884.2 L683.8,882.8 L684.8,881.6 L685.8,880.6 L686.8,879.7 L687.8,879.0 L688.8,878.5 L689.8,878.1 L690.8,877.9 L691.8,877.8 L692.8,877.9 L693.8,878.1 L694.8,878.5 L695.8,879.1 L696.8,879.8 L697.8,880.6 L698.8,881.6 L699.8,882.8 L700.8,884.1 L701.8,885.5 L702.8,887.1 L703.8,888.8 L704.8,890.7 L705.8,892.7 L706.8,894.8 L707.8,897.1 L708.8,899.4 L709.8,901.9 L710.8,904.5 L711.8,907.3 L712.8,910.1 L713.8,913.0 L714.8,916.0 L715.8,919.1 L716.8,922.4 L717.8,925.7 L718.8,929.1 L719.8,932.5 L720.8,936.1 L721.8,939.7 L722.8,943.4 L723.8,947.2 L724.8,951.0 L725.8,954.9 L726.8,958.9 L727.8,962.8 L728.8,966.9 L729.8,970.9 L730.8,975.0 L731.8,979.1 L732.8,983.2 L733.8,987.3 L734.8,991.4 L735.8,995.4 L736.8,999.3 L737.8,1003.1 L738.8,1006.8 L739.8,1010.4 L740.8,1013.7 L741.8,1016.9 L742.8,1019.8 L743.8,1022.6 L744.8,1025.2 L745.8,1027.5 L746.8,1029.6 L747.8,1031.5 L748.8,1033.1 L749.8,1034.5 L750.8,1035.6 L751.8,1036.5 L752.8,1037.1 L753.8,1037.4 L754.8,1037.5 L755.8,1037.2 L756.8,1036.7 L757.8,1035.8 L758.8,1034.6 L759.8,1033.2 L760.8,1031.3 L761.8,1029.2 L762.8,1026.7 L763.8,1023.8 L764.8,1020.7 L765.8,1017.3 L766.8,1013.7 L767.8,1009.8 L768.8,1005.8 L769.8,1001.5 L770.8,997.1 L771.8,992.6 L772.8,987.9 L773.8,983.2 L774.8,978.4 L775.8,973.5 L776.8,968.7 L777.8,963.8 L778.8,959.0 L779.8,954.2 L780.8,949.5 L781.8,944.8 L782.8,940.1 L783.8,935.5 L784.8,930.9 L785.8,926.4 L786.8,921.9 L787.8,917.6 L788.8,913.2 L789.8,909.0 L790.8,904.8 L791.8,900.7 L792.8,896.7 L793.8,892.9 L794.8,889.1 L795.8,885.4 L796.8,881.8 L797.8,878.4 L798.8,875.1 L799.8,871.9 L800.8,868.8 L801.8,865.9 L802.8,863.1 L803.8,860.5 L804.8,858.1 L805.8,855.8 L806.8,853.7 L807.8,851.7 L808.8,849.9 L809.8,848.4 L810.8,847.0 L811.8,845.8 L812.8,844.7 L813.8,843.9 L814.8,843.2 L815.8,842.7 L816.8,842.3 L817.8,842.2 L818.8,842.1 L819.8,842.3 L820.8,842.6 L821.8,843.0 L822.8,843.6 L823.8,844.3 L824.8,845.2 L825.8,846.2 L826.8,847.3 L827.8,848.6 L828.8,850.0 L829.8,851.5 L830.8,853.1 L831.8,854.9 L832.8,856.7 L833.8,858.7 L834.8,860.8 L835.8,863.0 L836.8,865.3 L837.8,867.7 L838.8,870.2 L839.8,872.8 L840.8,875.4 L841.8,878.2 L842.8,881.1 L843.8,884.1 L844.8,887.1 L845.8,890.3 L846.8,893.5 L847.8,896.8 L848.8,900.2 L849.8,903.7 L850.8,907.2 L851.8,910.8 L852.8,914.5 L853.8,918.3 L854.8,922.1 L855.8,925.9 L856.8,929.9 L857.8,933.9 L858.8,937.9 L859.8,942.0 L860.8,946.2 L861.8,950.3 L862.8,954.5 L863.8,958.7 L864.8,962.9 L865.8,967.1 L866.8,971.4 L867.8,975.6 L868.8,979.8 L869.8,983.9 L870.8,988.1 L871.8,992.2 L872.8,996.2 L873.8,1000.2 L874.8,1004.1 L875.8,1008.0 L876.8,1011.8 L877.8,1015.4 L878.8,1019.0 L879.8,1022.4 L880.8,1025.7 L881.8,1028.9 L882.8,1031.9 L883.8,1034.7 L884.8,1037.4 L885.8,1040.0 L886.8,1042.4 L887.8,1044.6 L888.8,1046.7 L889.8,1048.7 L890.8,1050.5 L891.8,1052.2 L892.8,1053.7 L893.8,1055.1 L894.8,1056.3 L895.8,1057.4 L896.8,1058.4 L897.8,1059.2 L898.8,1059.9 L899.8,1060.4 L900.8,1060.8 L901.8,1061.0 L902.8,1061.1 L903.8,1061.0 L904.8,1060.9 L905.8,1060.5 L906.8,1060.1 L907.8,1059.5 L908.8,1058.8 L909.8,1058.1 L910.8,1057.2 L911.8,1056.2 L912.8,1055.2 L913.8,1054.1 L914.8,1053.0 L915.8,1051.8 L916.8,1050.5 L917.8,1049.2 L918.8,1048.0 L919.8,1046.7 L920.8,1045.4 L921.8,1044.1 L922.8,1042.8 L923.8,1041.5 L924.8,1040.3 L925.8,1039.1 L926.8,1038.0 L927.8,1036.9 L928.8,1035.8 L929.8,1034.7 L930.8,1033.7 L931.8,1032.7 L932.8,1031.7 L933.8,1030.8 L934.8,1029.8 L935.8,1028.9 L936.8,1028.1 L937.8,1027.2 L938.8,1026.4 L939.8,1025.5 L940.8,1024.7 L941.8,1024.0 L942.8,1023.2 L943.8,1022.4 L944.8,1021.7 L945.8,1021.0 L946.8,1020.2 L947.8,1019.5 L948.8,1018.8 L949.8,1018.1 L950.8,1017.4 L951.8,1016.8 L952.8,1016.1 L953.8,1015.4 L954.8,1014.7 L955.8,1014.0 L956.8,1013.4 L957.8,1012.7 L958.8,1012.0 L959.8,1011.2 L960.8,1010.5 L961.8,1009.8 L962.8,1009.0 L963.8,1008.2 L964.8,1007.4 L965.8,1006.5 L966.8,1005.6 L967.8,1004.7 L968.8,1003.8 L969.8,1002.8 L970.8,1001.7 L971.8,1000.6 L972.8,999.5 L973.8,998.3 L974.8,997.1 L975.8,995.8 L976.8,994.4 L977.8,993.0 L978.8,991.5 L979.8,989.9 L980.8,988.3 L981.8,986.6 L982.8,984.8 L983.8,983.0 L984.8,981.1 L985.8,979.1 L986.8,977.1 L987.8,975.1 L988.8,972.9 L989.8,970.8 L990.8,968.6 L991.8,966.3 L992.8,964.0 L993.8,961.7 L994.8,959.3 L995.8,956.9 L996.8,954.4 L997.8,951.9 L998.8,949.4 L999.8,946.9 L1000.8,944.4 L1001.8,941.8 L1002.8,939.2 L1003.8,936.6 L1004.8,934.0 L1005.8,931.3 L1006.8,928.7 L1007.8,926.1 L1008.8,923.4 L1009.8,920.8 L1010.8,918.1 L1011.8,915.5 L1012.8,912.8 L1013.8,910.2 L1014.8,907.6 L1015.8,905.0 L1016.8,902.4 L1017.8,899.8 L1018.8,897.3 L1019.8,894.8 L1020.8,892.3 L1021.8,889.8 L1022.8,887.3 L1023.8,884.9 L1024.8,882.6 L1025.8,880.2 L1026.8,877.9 L1027.8,875.7 L1028.8,873.5 L1029.8,871.3 L1030.8,869.2 L1031.8,867.1 L1032.8,865.1 L1033.8,863.1 L1034.8,861.2 L1035.8,859.4 L1036.8,857.6 L1037.8,855.8 L1038.8,854.1 L1039.8,852.5 L1040.8,850.9 L1041.8,849.4 L1042.8,847.9 L1043.8,846.5 L1044.8,845.1 L1045.8,843.8 L1046.8,842.6 L1047.8,841.4 L1048.8,840.3 L1049.8,839.2 L1050.8,838.2 L1051.8,837.3 L1052.8,836.5 L1053.8,835.7 L1054.8,834.9 L1055.8,834.3 L1056.8,833.7 L1057.8,833.2 L1058.8,832.7 L1059.8,832.3 L1060.8,832.0 L1061.8,831.8 L1062.8,831.6 L1063.8,831.5 L1064.8,831.5 L1065.8,831.5 L1066.8,831.6 L1067.8,831.8 L1068.8,832.1 L1069.8,832.5 L1070.8,833.0 L1071.8,833.5 L1072.8,834.2 L1073.8,834.9 L1074.8,835.7 L1075.8,836.7 L1076.8,837.7 L1077.8,838.9 L1078.8,840.1 L1079.8,841.5 L1080.8,842.9 L1081.8,844.5 L1082.8,846.2 L1083.8,848.0 L1084.8,850.0 L1085.8,852.1 L1086.8,854.2 L1087.8,856.6 L1088.8,859.0 L1089.8,861.6 L1090.8,864.3 L1091.8,867.2 L1092.8,870.2 L1093.8,873.3 L1094.8,876.6 L1095.8,880.0 L1096.8,883.6 L1097.8,887.3 L1098.8,891.1 L1099.8,895.1 L1100.8,899.1 L1101.8,903.2 L1102.8,907.3 L1103.8,911.4 L1104.8,915.5 L1105.8,919.6 L1106.8,923.6 L1107.8,927.6 L1108.8,931.4 L1109.8,935.2 L1110.8,938.8 L1111.8,942.3 L1112.8,945.5 L1113.8,948.6 L1114.8,951.5 L1115.8,954.1 L1116.8,956.4 L1117.8,958.5 L1118.8,960.2 L1119.8,961.7 L1120.8,962.8 L1121.8,963.7 L1122.8,964.2 L1123.8,964.5 L1124.8,964.6 L1125.8,964.4 L1126.8,964.0 L1127.8,963.4 L1128.8,962.6 L1129.8,961.6 L1130.8,960.4 L1131.8,959.0 L1132.8,957.5 L1133.8,955.8 L1134.8,954.0 L1135.8,952.1 L1136.8,950.1 L1137.8,947.9 L1138.8,945.7 L1139.8,943.4 L1140.8,941.0 L1141.8,938.6 L1142.8,936.1 L1143.8,933.6 L1144.8,931.0 L1145.8,928.4 L1146.8,925.9 L1147.8,923.3 L1148.8,920.8 L1149.8,918.3 L1150.8,915.8 L1151.8,913.3 L1152.8,911.0 L1153.8,908.7 L1154.8,906.5 L1155.8,904.4 L1156.8,902.3 L1157.8,900.4 L1158.8,898.6 L1159.8,896.9 L1160.8,895.3 L1161.8,893.8 L1162.8,892.4 L1163.8,891.1 L1164.8,889.9 L1165.8,888.8 L1166.8,887.7 L1167.8,886.8 L1168.8,886.0 L1169.8,885.3 L1170.8,884.6 L1171.8,884.1 L1172.8,883.6 L1173.8,883.3 L1174.8,883.0 L1175.8,882.8 L1176.8,882.8 L1177.8,882.8 L1178.8,882.8 L1179.8,883.0 L1180.8,883.3 L1181.8,883.6 L1182.8,884.0 L1183.8,884.5 L1184.8,885.1 L1185.8,885.7 L1186.8,886.4 L1187.8,887.2 L1188.8,888.0 L1189.8,888.9 L1190.8,889.9 L1191.8,890.9 L1192.8,891.9 L1193.8,893.1 L1194.8,894.2 L1195.8,895.4 L1196.8,896.7 L1197.8,898.0 L1198.8,899.3 L1199.8,900.7 L1200.8,902.1 L1201.8,903.5 L1202.8,905.0 L1203.8,906.5 L1204.8,908.0 L1205.8,909.6 L1206.8,911.1 L1207.8,912.7 L1208.8,914.3 L1209.8,915.9 L1210.8,917.5 L1211.8,919.1 L1212.8,920.8 L1213.8,922.4 L1214.8,924.0 L1215.8,925.7 L1216.8,927.3 L1217.8,928.9 L1218.8,930.5 L1219.8,932.1 L1220.8,933.7 L1221.8,935.3 L1222.8,936.8 L1223.8,938.3 L1224.8,939.8 L1225.8,941.3 L1226.8,942.8 L1227.8,944.2 L1228.8,945.6 L1229.8,946.9 L1230.8,948.2 L1231.8,949.5 L1232.8,950.7 L1233.8,952.0 L1234.8,953.1 L1235.8,954.2 L1236.8,955.3 L1237.8,956.4 L1238.8,957.4 L1239.8,958.4 L1240.8,959.3 L1241.8,960.2 L1242.8,961.1 L1243.8,961.9 L1244.8,962.7 L1245.8,963.4 L1246.8,964.1 L1247.8,964.8 L1248.8,965.4 L1249.8,966.0 L1250.8,966.5 L1251.8,967.1 L1252.8,967.5 L1253.8,967.9 L1254.8,968.3 L1255.8,968.7 L1256.8,969.0 L1257.8,969.3 L1258.8,969.5 L1259.8,969.7 L1260.8,969.8 L1261.8,969.9 L1262.8,970.0 L1263.8,970.0 L1264.8,970.0 L1265.8,970.0 L1266.8,969.9 L1267.8,969.7 L1268.8,969.6 L1269.8,969.4 L1270.8,969.2 L1271.8,969.0 L1272.8,968.7 L1273.8,968.4 L1274.8,968.1 L1275.8,967.8 L1276.8,967.4 L1277.8,967.1 L1278.8,966.7 L1279.8,966.3 L1280.8,965.9 L1281.8,965.5 L1282.8,965.1 L1283.8,964.6 L1284.8,964.2 L1285.8,963.8 L1286.8,963.4 L1287.8,962.9 L1288.8,962.5 L1289.8,962.1 L1290.8,961.7 L1291.8,961.3 L1292.8,960.9 L1293.8,960.5 L1294.8,960.1 L1295.8,959.7 L1296.8,959.4 L1297.8,959.0 L1298.8,958.7 L1299.8,958.3 L1300.8,958.0 L1301.8,957.7 L1302.8,957.4 L1303.8,957.1 L1304.8,956.9 L1305.8,956.6 L1306.8,956.3 L1307.8,956.1 L1308.8,955.9 L1309.8,955.7 L1310.8,955.5 L1311.8,955.4 L1312.8,955.2 L1313.8,955.1 L1314.8,955.0 L1315.8,954.9 L1316.8,954.8 L1317.8,954.7 L1318.8,954.7 L1319.8,954.7 L1320.8,954.7 L1321.8,954.7 L1322.8,954.8 L1323.8,954.9 L1324.8,955.0 L1325.8,955.1 L1326.8,955.3 L1327.8,955.4 L1328.8,955.6 L1329.8,955.9 L1330.8,956.1 L1331.8,956.4 L1332.8,956.7 L1333.8,957.0 L1334.8,957.4 L1335.8,957.7 L1336.8,958.1 L1337.8,958.4 L1338.8,958.8 L1339.8,959.2 L1340.8,959.6 L1341.8,960.1 L1342.8,960.5 L1343.8,960.9 L1344.8,961.3 L1345.2,961.5" fill="none" stroke="#000" stroke-width="6.0" stroke-dasharray="6.3 10.4"/>
<circle cx="564.8" cy="868" r="9.8" fill="#ff0000"/>
<polygon points="1339.5,960.0 1343.8,964.4 1348.2,960.0 1352.6,964.4 1348.2,968.8 1352.6,973.2 1348.2,977.5 1343.8,973.2 1339.5,977.5 1335.1,973.2 1339.5,968.8 1335.1,964.4" fill="#ff0000" stroke="#ff0000" stroke-width="1.7" stroke-linejoin="round"/>
<path d="M564.8,1397.9 L565.8,1396.6 L566.8,1395.2 L567.8,1393.9 L568.8,1392.5 L569.8,1391.1 L570.8,1389.7 L571.8,1388.2 L572.8,1386.8 L573.8,1385.3 L574.8,1383.9 L575.8,1382.4 L576.8,1380.9 L577.8,1379.4 L578.8,1377.9 L579.8,1376.4 L580.8,1374.9 L581.8,1373.4 L582.8,1371.9 L583.8,1370.4 L584.8,1369.0 L585.8,1367.5 L586.8,1366.0 L587.8,1364.6 L588.8,1363.2 L589.8,1361.7 L590.8,1360.4 L591.8,1359.0 L592.8,1357.6 L593.8,1356.3 L594.8,1355.0 L595.8,1353.7 L596.8,1352.5 L597.8,1351.3 L598.8,1350.1 L599.8,1348.9 L600.8,1347.8 L601.8,1346.8 L602.8,1345.7 L603.8,1344.8 L604.8,1343.8 L605.8,1342.9 L606.8,1342.1 L607.8,1341.3 L608.8,1340.5 L609.8,1339.8 L610.8,1339.2 L611.8,1338.5 L612.8,1338.0 L613.8,1337.4 L614.8,1336.9 L615.8,1336.5 L616.8,1336.1 L617.8,1335.7 L618.8,1335.3 L619.8,1335.0 L620.8,1334.8 L621.8,1334.5 L622.8,1334.3 L623.8,1334.1 L624.8,1334.0 L625.8,1333.8 L626.8,1333.8 L627.8,1333.7 L628.8,1333.6 L629.8,1333.6 L630.8,1333.6 L631.8,1333.6 L632.8,1333.7 L633.8,1333.7 L634.8,1333.8 L635.8,1333.9 L636.8,1334.0 L637.8,1334.1 L638.8,1334.3 L639.8,1334.4 L640.8,1334.6 L641.8,1334.7 L642.8,1334.9 L643.8,1335.1 L644.8,1335.3 L645.8,1335.5 L646.8,1335.7 L647.8,1335.9 L648.8,1336.1 L649.8,1336.3 L650.8,1336.5 L651.8,1336.7 L652.8,1336.9 L653.8,1337.1 L654.8,1337.3 L655.8,1337.5 L656.8,1337.6 L657.8,1337.8 L658.8,1338.0 L659.8,1338.1 L660.8,1338.3 L661.8,1338.4 L662.8,1338.6 L663.8,1338.7 L664.8,1338.8 L665.8,1339.0 L666.8,1339.1 L667.8,1339.2 L668.8,1339.3 L669.8,1339.4 L670.8,1339.5 L671.8,1339.6 L672.8,1339.7 L673.8,1339.7 L674.8,1339.8 L675.8,1339.9 L676.8,1339.9 L677.8,1340.0 L678.8,1340.0 L679.8,1340.1 L680.8,1340.1 L681.8,1340.2 L682.8,1340.2 L683.8,1340.2 L684.8,1340.2 L685.8,1340.2 L686.8,1340.3 L687.8,1340.3 L688.8,1340.3 L689.8,1340.3 L690.8,1340.2 L691.8,1340.2 L692.8,1340.2 L693.8,1340.2 L694.8,1340.2 L695.8,1340.1 L696.8,1340.1 L697.8,1340.0 L698.8,1340.0 L699.8,1339.9 L700.8,1339.9 L701.8,1339.8 L702.8,1339.8 L703.8,1339.7 L704.8,1339.6 L705.8,1339.6 L706.8,1339.5 L707.8,1339.4 L708.8,1339.3 L709.8,1339.2 L710.8,1339.1 L711.8,1339.0 L712.8,1338.9 L713.8,1338.8 L714.8,1338.7 L715.8,1338.6 L716.8,1338.5 L717.8,1338.4 L718.8,1338.2 L719.8,1338.1 L720.8,1338.0 L721.8,1337.8 L722.8,1337.7 L723.8,1337.6 L724.8,1337.4 L725.8,1337.3 L726.8,1337.1 L727.8,1337.0 L728.8,1336.8 L729.8,1336.7 L730.8,1336.5 L731.8,1336.3 L732.8,1336.2 L733.8,1336.0 L734.8,1335.8 L735.8,1335.7 L736.8,1335.5 L737.8,1335.3 L738.8,1335.1 L739.8,1334.9 L740.8,1334.8 L741.8,1334.6 L742.8,1334.4 L743.8,1334.2 L744.8,1334.0 L745.8,1333.8 L746.8,1333.6 L747.8,1333.4 L748.8,1333.2 L749.8,1333.0 L750.8,1332.8 L751.8,1332.6 L752.8,1332.3 L753.8,1332.1 L754.8,1331.9 L755.8,1331.7 L756.8,1331.5 L757.8,1331.3 L758.8,1331.0 L759.8,1330.8 L760.8,1330.6 L761.8,1330.4 L762.8,1330.2 L763.8,1329.9 L764.8,1329.7 L765.8,1329.5 L766.8,1329.3 L767.8,1329.1 L768.8,1328.9 L769.8,1328.6 L770.8,1328.4 L771.8,1328.2 L772.8,1328.0 L773.8,1327.8 L774.8,1327.6 L775.8,1327.4 L776.8,1327.2 L777.8,1327.0 L778.8,1326.8 L779.8,1326.6 L780.8,1326.4 L781.8,1326.3 L782.8,1326.1 L783.8,1325.9 L784.8,1325.8 L785.8,1325.6 L786.8,1325.4 L787.8,1325.3 L788.8,1325.1 L789.8,1325.0 L790.8,1324.9 L791.8,1324.7 L792.8,1324.6 L793.8,1324.5 L794.8,1324.4 L795.8,1324.3 L796.8,1324.2 L797.8,1324.1 L798.8,1324.0 L799.8,1323.9 L800.8,1323.9 L801.8,1323.8 L802.8,1323.8 L803.8,1323.7 L804.8,1323.7 L805.8,1323.7 L806.8,1323.7 L807.8,1323.7 L808.8,1323.7 L809.8,1323.7 L810.8,1323.7 L811.8,1323.8 L812.8,1323.9 L813.8,1323.9 L814.8,1324.0 L815.8,1324.1 L816.8,1324.3 L817.8,1324.4 L818.8,1324.6 L819.8,1324.7 L820.8,1324.9 L821.8,1325.1 L822.8,1325.4 L823.8,1325.6 L824.8,1325.9 L825.8,1326.2 L826.8,1326.5 L827.8,1326.8 L828.8,1327.2 L829.8,1327.6 L830.8,1328.0 L831.8,1328.4 L832.8,1328.9 L833.8,1329.4 L834.8,1329.9 L835.8,1330.4 L836.8,1331.0 L837.8,1331.6 L838.8,1332.2 L839.8,1332.8 L840.8,1333.4 L841.8,1334.1 L842.8,1334.7 L843.8,1335.3 L844.8,1335.9 L845.8,1336.6 L846.8,1337.1 L847.8,1337.7 L848.8,1338.3 L849.8,1338.8 L850.8,1339.3 L851.8,1339.8 L852.8,1340.2 L853.8,1340.6 L854.8,1340.9 L855.8,1341.3 L856.8,1341.5 L857.8,1341.8 L858.8,1342.0 L859.8,1342.2 L860.8,1342.4 L861.8,1342.6 L862.8,1342.7 L863.8,1342.8 L864.8,1342.9 L865.8,1342.9 L866.8,1343.0 L867.8,1343.0 L868.8,1343.0 L869.8,1343.0 L870.8,1342.9 L871.8,1342.9 L872.8,1342.8 L873.8,1342.7 L874.8,1342.6 L875.8,1342.5 L876.8,1342.4 L877.8,1342.3 L878.8,1342.1 L879.8,1342.0 L880.8,1341.8 L881.8,1341.7 L882.8,1341.5 L883.8,1341.4 L884.8,1341.2 L885.8,1341.0 L886.8,1340.9 L887.8,1340.7 L888.8,1340.5 L889.8,1340.4 L890.8,1340.2 L891.8,1340.1 L892.8,1339.9 L893.8,1339.8 L894.8,1339.7 L895.8,1339.5 L896.8,1339.4 L897.8,1339.3 L898.8,1339.3 L899.8,1339.2 L900.8,1339.1 L901.8,1339.1 L902.8,1339.1 L903.8,1339.0 L904.8,1339.0 L905.8,1339.0 L906.8,1339.1 L907.8,1339.1 L908.8,1339.1 L909.8,1339.2 L910.8,1339.3 L911.8,1339.3 L912.8,1339.4 L913.8,1339.5 L914.8,1339.6 L915.8,1339.8 L916.8,1339.9 L917.8,1340.0 L918.8,1340.2 L919.8,1340.3 L920.8,1340.5 L921.8,1340.6 L922.8,1340.8 L923.8,1341.0 L924.8,1341.2 L925.8,1341.4 L926.8,1341.6 L927.8,1341.8 L928.8,1342.0 L929.8,1342.2 L930.8,1342.4 L931.8,1342.6 L932.8,1342.8 L933.8,1343.1 L934.8,1343.3 L935.8,1343.5 L936.8,1343.7 L937.8,1344.0 L938.8,1344.2 L939.8,1344.4 L940.8,1344.7 L941.8,1344.9 L942.8,1345.2 L943.8,1345.4 L944.8,1345.6 L945.8,1345.9 L946.8,1346.1 L947.8,1346.3 L948.8,1346.5 L949.8,1346.8 L950.8,1347.0 L951.8,1347.2 L952.8,1347.4 L953.8,1347.6 L954.8,1347.8 L955.8,1348.0 L956.8,1348.2 L957.8,1348.4 L958.8,1348.6 L959.8,1348.7 L960.8,1348.9 L961.8,1349.0 L962.8,1349.2 L963.8,1349.3 L964.8,1349.4 L965.8,1349.5 L966.8,1349.5 L967.8,1349.6 L968.8,1349.6 L969.8,1349.6 L970.8,1349.6 L971.8,1349.6 L972.8,1349.6 L973.8,1349.5 L974.8,1349.4 L975.8,1349.3 L976.8,1349.2 L977.8,1349.1 L978.8,1348.9 L979.8,1348.7 L980.8,1348.5 L981.8,1348.2 L982.8,1347.9 L983.8,1347.6 L984.8,1347.3 L985.8,1347.0 L986.8,1346.6 L987.8,1346.3 L988.8,1346.0 L989.8,1345.6 L990.8,1345.3 L991.8,1345.0 L992.8,1344.7 L993.8,1344.4 L994.8,1344.1 L995.8,1343.9 L996.8,1343.7 L997.8,1343.6 L998.8,1343.5 L999.8,1343.5 L1000.8,1343.4 L1001.8,1343.5 L1002.8,1343.5 L1003.8,1343.6 L1004.8,1343.7 L1005.8,1343.8 L1006.8,1343.9 L1007.8,1344.1 L1008.8,1344.2 L1009.8,1344.4 L1010.8,1344.5 L1011.8,1344.6 L1012.8,1344.7 L1013.8,1344.8 L1014.8,1344.9 L1015.8,1345.0 L1016.8,1345.0 L1017.8,1345.0 L1018.8,1345.0 L1019.8,1345.0 L1020.8,1345.0 L1021.8,1344.9 L1022.8,1344.9 L1023.8,1344.8 L1024.8,1344.7 L1025.8,1344.6 L1026.8,1344.5 L1027.8,1344.4 L1028.8,1344.3 L1029.8,1344.2 L1030.8,1344.1 L1031.8,1343.9 L1032.8,1343.8 L1033.8,1343.7 L1034.8,1343.5 L1035.8,1343.4 L1036.8,1343.3 L1037.8,1343.1 L1038.8,1343.0 L1039.8,1342.8 L1040.8,1342.7 L1041.8,1342.5 L1042.8,1342.3 L1043.8,1342.2 L1044.8,1342.0 L1045.8,1341.8 L1046.8,1341.7 L1047.8,1341.5 L1048.8,1341.3 L1049.8,1341.1 L1050.8,1340.9 L1051.8,1340.8 L1052.8,1340.6 L1053.8,1340.4 L1054.8,1340.2 L1055.8,1340.0 L1056.8,1339.8 L1057.8,1339.6 L1058.8,1339.4 L1059.8,1339.2 L1060.8,1339.0 L1061.8,1338.9 L1062.8,1338.7 L1063.8,1338.5 L1064.8,1338.3 L1065.8,1338.1 L1066.8,1337.9 L1067.8,1337.7 L1068.8,1337.6 L1069.8,1337.4 L1070.8,1337.2 L1071.8,1337.1 L1072.8,1336.9 L1073.8,1336.8 L1074.8,1336.6 L1075.8,1336.5 L1076.8,1336.3 L1077.8,1336.2 L1078.8,1336.1 L1079.8,1336.0 L1080.8,1335.9 L1081.8,1335.8 L1082.8,1335.7 L1083.8,1335.6 L1084.8,1335.5 L1085.8,1335.4 L1086.8,1335.4 L1087.8,1335.3 L1088.8,1335.3 L1089.8,1335.2 L1090.8,1335.2 L1091.8,1335.2 L1092.8,1335.2 L1093.8,1335.2 L1094.8,1335.2 L1095.8,1335.3 L1096.8,1335.3 L1097.8,1335.4 L1098.8,1335.4 L1099.8,1335.5 L1100.8,1335.6 L1101.8,1335.7 L1102.8,1335.8 L1103.8,1335.9 L1104.8,1336.1 L1105.8,1336.2 L1106.8,1336.3 L1107.8,1336.5 L1108.8,1336.6 L1109.8,1336.8 L1110.8,1337.0 L1111.8,1337.1 L1112.8,1337.3 L1113.8,1337.5 L1114.8,1337.6 L1115.8,1337.8 L1116.8,1338.0 L1117.8,1338.1 L1118.8,1338.3 L1119.8,1338.5 L1120.8,1338.6 L1121.8,1338.8 L1122.8,1338.9 L1123.8,1339.1 L1124.8,1339.2 L1125.8,1339.4 L1126.8,1339.5 L1127.8,1339.6 L1128.8,1339.7 L1129.8,1339.8 L1130.8,1339.9 L1131.8,1340.0 L1132.8,1340.1 L1133.8,1340.2 L1134.8,1340.2 L1135.8,1340.2 L1136.8,1340.3 L1137.8,1340.3 L1138.8,1340.3 L1139.8,1340.3 L1140.8,1340.2 L1141.8,1340.2 L1142.8,1340.1 L1143.8,1340.0 L1144.8,1339.9 L1145.8,1339.8 L1146.8,1339.6 L1147.8,1339.5 L1148.8,1339.3 L1149.8,1339.1 L1150.8,1338.9 L1151.8,1338.7 L1152.8,1338.4 L1153.8,1338.2 L1154.8,1337.9 L1155.8,1337.7 L1156.8,1337.4 L1157.8,1337.1 L1158.8,1336.8 L1159.8,1336.6 L1160.8,1336.3 L1161.8,1336.0 L1162.8,1335.8 L1163.8,1335.5 L1164.8,1335.3 L1165.8,1335.0 L1166.8,1334.8 L1167.8,1334.6 L1168.8,1334.4 L1169.8,1334.2 L1170.8,1334.1 L1171.8,1333.9 L1172.8,1333.8 L1173.8,1333.7 L1174.8,1333.6 L1175.8,1333.6 L1176.8,1333.5 L1177.8,1333.6 L1178.8,1333.6 L1179.8,1333.7 L1180.8,1333.8 L1181.8,1333.9 L1182.8,1334.1 L1183.8,1334.3 L1184.8,1334.5 L1185.8,1334.7 L1186.8,1335.0 L1187.8,1335.3 L1188.8,1335.6 L1189.8,1335.9 L1190.8,1336.2 L1191.8,1336.5 L1192.8,1336.8 L1193.8,1337.1 L1194.8,1337.5 L1195.8,1337.8 L1196.8,1338.1 L1197.8,1338.4 L1198.8,1338.7 L1199.8,1339.0 L1200.8,1339.3 L1201.8,1339.6 L1202.8,1339.9 L1203.8,1340.1 L1204.8,1340.4 L1205.8,1340.7 L1206.8,1340.9 L1207.8,1341.2 L1208.8,1341.4 L1209.8,1341.6 L1210.8,1341.8 L1211.8,1342.1 L1212.8,1342.3 L1213.8,1342.5 L1214.8,1342.7 L1215.8,1342.8 L1216.8,1343.0 L1217.8,1343.2 L1218.8,1343.3 L1219.8,1343.5 L1220.8,1343.6 L1221.8,1343.8 L1222.8,1343.9 L1223.8,1344.0 L1224.8,1344.1 L1225.8,1344.2 L1226.8,1344.3 L1227.8,1344.4 L1228.8,1344.4 L1229.8,1344.5 L1230.8,1344.5 L1231.8,1344.6 L1232.8,1344.6 L1233.8,1344.6 L1234.8,1344.6 L1235.8,1344.6 L1236.8,1344.6 L1237.8,1344.6 L1238.8,1344.5 L1239.8,1344.5 L1240.8,1344.4 L1241.8,1344.3 L1242.8,1344.2 L1243.8,1344.1 L1244.8,1344.0 L1245.8,1343.9 L1246.8,1343.8 L1247.8,1343.6 L1248.8,1343.5 L1249.8,1343.3 L1250.8,1343.1 L1251.8,1343.0 L1252.8,1342.8 L1253.8,1342.6 L1254.8,1342.4 L1255.8,1342.2 L1256.8,1341.9 L1257.8,1341.7 L1258.8,1341.5 L1259.8,1341.3 L1260.8,1341.0 L1261.8,1340.8 L1262.8,1340.6 L1263.8,1340.4 L1264.8,1340.2 L1265.8,1339.9 L1266.8,1339.7 L1267.8,1339.5 L1268.8,1339.3 L1269.8,1339.1 L1270.8,1338.9 L1271.8,1338.7 L1272.8,1338.5 L1273.8,1338.4 L1274.8,1338.2 L1275.8,1338.0 L1276.8,1337.9 L1277.8,1337.8 L1278.8,1337.7 L1279.8,1337.5 L1280.8,1337.5 L1281.8,1337.4 L1282.8,1337.3 L1283.8,1337.3 L1284.8,1337.3 L1285.8,1337.3 L1286.8,1337.3 L1287.8,1337.3 L1288.8,1337.4 L1289.8,1337.4 L1290.8,1337.5 L1291.8,1337.6 L1292.8,1337.8 L1293.8,1338.0 L1294.8,1338.1 L1295.8,1338.4 L1296.8,1338.6 L1297.8,1338.9 L1298.8,1339.2 L1299.8,1339.5 L1300.8,1339.8 L1301.8,1340.1 L1302.8,1340.5 L1303.8,1340.9 L1304.8,1341.3 L1305.8,1341.7 L1306.8,1342.1 L1307.8,1342.5 L1308.8,1342.9 L1309.8,1343.3 L1310.8,1343.7 L1311.8,1344.1 L1312.8,1344.5 L1313.8,1344.9 L1314.8,1345.3 L1315.8,1345.7 L1316.8,1346.1 L1317.8,1346.4 L1318.8,1346.8 L1319.8,1347.1 L1320.8,1347.4 L1321.8,1347.7 L1322.8,1348.0 L1323.8,1348.2 L1324.8,1348.4 L1325.8,1348.6 L1326.8,1348.8 L1327.8,1348.9 L1328.8,1349.0 L1329.8,1349.1 L1330.8,1349.1 L1331.8,1349.1 L1332.8,1349.0 L1333.8,1349.0 L1334.8,1348.8 L1335.8,1348.6 L1336.8,1348.4 L1337.8,1348.1 L1338.8,1347.8 L1339.8,1347.4 L1340.8,1347.0 L1341.8,1346.5 L1342.0,1346.4" fill="none" stroke="#808080" stroke-width="6.3" stroke-dasharray="6.3 10.4"/>
<path d="M564.8,1397.9 L565.8,1397.4 L566.8,1396.7 L567.8,1395.8 L568.8,1394.8 L569.8,1393.6 L570.8,1392.3 L571.8,1390.8 L572.8,1389.2 L573.8,1387.4 L574.8,1385.5 L575.8,1383.4 L576.8,1381.2 L577.8,1378.9 L578.8,1376.4 L579.8,1373.8 L580.8,1371.1 L581.8,1368.2 L582.8,1365.2 L583.8,1362.1 L584.8,1358.8 L585.8,1355.5 L586.8,1352.0 L587.8,1348.4 L588.8,1344.7 L589.8,1340.8 L590.8,1336.9 L591.8,1332.9 L592.8,1328.8 L593.8,1324.6 L594.8,1320.3 L595.8,1316.0 L596.8,1311.6 L597.8,1307.2 L598.8,1302.8 L599.8,1298.3 L600.8,1293.9 L601.8,1289.5 L602.8,1285.1 L603.8,1280.7 L604.8,1276.3 L605.8,1272.0 L606.8,1267.8 L607.8,1263.7 L608.8,1259.6 L609.8,1255.7 L610.8,1251.9 L611.8,1248.2 L612.8,1244.7 L613.8,1241.4 L614.8,1238.3 L615.8,1235.4 L616.8,1232.7 L617.8,1230.2 L618.8,1227.9 L619.8,1225.8 L620.8,1223.9 L621.8,1222.3 L622.8,1220.8 L623.8,1219.6 L624.8,1218.6 L625.8,1217.8 L626.8,1217.3 L627.8,1216.9 L628.8,1216.8 L629.8,1217.0 L630.8,1217.3 L631.8,1218.0 L632.8,1218.8 L633.8,1219.9 L634.8,1221.3 L635.8,1222.9 L636.8,1224.7 L637.8,1226.8 L638.8,1229.1 L639.8,1231.6 L640.8,1234.3 L641.8,1237.2 L642.8,1240.3 L643.8,1243.5 L644.8,1246.9 L645.8,1250.4 L646.8,1254.0 L647.8,1257.7 L648.8,1261.6 L649.8,1265.5 L650.8,1269.5 L651.8,1273.6 L652.8,1277.8 L653.8,1282.0 L654.8,1286.2 L655.8,1290.4 L656.8,1294.7 L657.8,1299.0 L658.8,1303.3 L659.8,1307.6 L660.8,1311.9 L661.8,1316.1 L662.8,1320.3 L663.8,1324.5 L664.8,1328.6 L665.8,1332.7 L666.8,1336.7 L667.8,1340.6 L668.8,1344.5 L669.8,1348.2 L670.8,1351.8 L671.8,1355.4 L672.8,1358.8 L673.8,1362.0 L674.8,1365.2 L675.8,1368.2 L676.8,1371.0 L677.8,1373.7 L678.8,1376.2 L679.8,1378.6 L680.8,1380.8 L681.8,1382.9 L682.8,1384.8 L683.8,1386.5 L684.8,1388.1 L685.8,1389.5 L686.8,1390.8 L687.8,1391.9 L688.8,1392.8 L689.8,1393.6 L690.8,1394.2 L691.8,1394.6 L692.8,1394.9 L693.8,1395.0 L694.8,1394.9 L695.8,1394.6 L696.8,1394.2 L697.8,1393.6 L698.8,1392.8 L699.8,1391.8 L700.8,1390.7 L701.8,1389.3 L702.8,1387.8 L703.8,1386.1 L704.8,1384.2 L705.8,1382.1 L706.8,1379.9 L707.8,1377.6 L708.8,1375.1 L709.8,1372.4 L710.8,1369.6 L711.8,1366.7 L712.8,1363.7 L713.8,1360.6 L714.8,1357.3 L715.8,1354.0 L716.8,1350.6 L717.8,1347.1 L718.8,1343.5 L719.8,1339.9 L720.8,1336.2 L721.8,1332.5 L722.8,1328.7 L723.8,1324.8 L724.8,1321.0 L725.8,1317.1 L726.8,1313.2 L727.8,1309.3 L728.8,1305.4 L729.8,1301.5 L730.8,1297.7 L731.8,1293.9 L732.8,1290.1 L733.8,1286.4 L734.8,1282.8 L735.8,1279.2 L736.8,1275.8 L737.8,1272.4 L738.8,1269.2 L739.8,1266.1 L740.8,1263.1 L741.8,1260.3 L742.8,1257.6 L743.8,1255.1 L744.8,1252.8 L745.8,1250.6 L746.8,1248.6 L747.8,1246.8 L748.8,1245.1 L749.8,1243.6 L750.8,1242.3 L751.8,1241.1 L752.8,1240.1 L753.8,1239.4 L754.8,1238.7 L755.8,1238.3 L756.8,1238.0 L757.8,1238.0 L758.8,1238.1 L759.8,1238.4 L760.8,1238.9 L761.8,1239.6 L762.8,1240.4 L763.8,1241.5 L764.8,1242.7 L765.8,1244.2 L766.8,1245.9 L767.8,1247.7 L768.8,1249.7 L769.8,1251.9 L770.8,1254.3 L771.8,1256.8 L772.8,1259.4 L773.8,1262.2 L774.8,1265.1 L775.8,1268.2 L776.8,1271.3 L777.8,1274.6 L778.8,1278.0 L779.8,1281.4 L780.8,1284.9 L781.8,1288.5 L782.8,1292.2 L783.8,1295.9 L784.8,1299.6 L785.8,1303.4 L786.8,1307.2 L787.8,1311.0 L788.8,1314.8 L789.8,1318.7 L790.8,1322.5 L791.8,1326.3 L792.8,1330.1 L793.8,1333.9 L794.8,1337.6 L795.8,1341.2 L796.8,1344.8 L797.8,1348.3 L798.8,1351.7 L799.8,1355.1 L800.8,1358.3 L801.8,1361.4 L802.8,1364.4 L803.8,1367.3 L804.8,1370.0 L805.8,1372.6 L806.8,1375.1 L807.8,1377.3 L808.8,1379.4 L809.8,1381.3 L810.8,1383.0 L811.8,1384.5 L812.8,1385.8 L813.8,1386.9 L814.8,1387.7 L815.8,1388.4 L816.8,1388.8 L817.8,1389.0 L818.8,1389.0 L819.8,1388.8 L820.8,1388.5 L821.8,1387.9 L822.8,1387.1 L823.8,1386.1 L824.8,1385.0 L825.8,1383.6 L826.8,1382.1 L827.8,1380.4 L828.8,1378.5 L829.8,1376.5 L830.8,1374.3 L831.8,1372.0 L832.8,1369.5 L833.8,1366.9 L834.8,1364.1 L835.8,1361.2 L836.8,1358.2 L837.8,1355.1 L838.8,1351.9 L839.8,1348.6 L840.8,1345.2 L841.8,1341.6 L842.8,1338.1 L843.8,1334.4 L844.8,1330.7 L845.8,1326.9 L846.8,1323.1 L847.8,1319.2 L848.8,1315.2 L849.8,1311.2 L850.8,1307.2 L851.8,1303.2 L852.8,1299.2 L853.8,1295.2 L854.8,1291.2 L855.8,1287.3 L856.8,1283.3 L857.8,1279.5 L858.8,1275.7 L859.8,1272.0 L860.8,1268.3 L861.8,1264.8 L862.8,1261.4 L863.8,1258.1 L864.8,1254.9 L865.8,1251.9 L866.8,1249.1 L867.8,1246.4 L868.8,1243.9 L869.8,1241.6 L870.8,1239.5 L871.8,1237.6 L872.8,1235.9 L873.8,1234.5 L874.8,1233.3 L875.8,1232.3 L876.8,1231.5 L877.8,1231.0 L878.8,1230.6 L879.8,1230.5 L880.8,1230.5 L881.8,1230.8 L882.8,1231.2 L883.8,1231.8 L884.8,1232.6 L885.8,1233.5 L886.8,1234.6 L887.8,1235.9 L888.8,1237.3 L889.8,1238.8 L890.8,1240.5 L891.8,1242.3 L892.8,1244.3 L893.8,1246.3 L894.8,1248.5 L895.8,1250.8 L896.8,1253.2 L897.8,1255.6 L898.8,1258.2 L899.8,1260.8 L900.8,1263.6 L901.8,1266.4 L902.8,1269.2 L903.8,1272.1 L904.8,1275.1 L905.8,1278.1 L906.8,1281.2 L907.8,1284.3 L908.8,1287.5 L909.8,1290.6 L910.8,1293.8 L911.8,1297.0 L912.8,1300.2 L913.8,1303.4 L914.8,1306.6 L915.8,1309.8 L916.8,1312.9 L917.8,1316.1 L918.8,1319.2 L919.8,1322.3 L920.8,1325.4 L921.8,1328.5 L922.8,1331.5 L923.8,1334.4 L924.8,1337.4 L925.8,1340.2 L926.8,1343.0 L927.8,1345.8 L928.8,1348.5 L929.8,1351.1 L930.8,1353.7 L931.8,1356.2 L932.8,1358.6 L933.8,1360.9 L934.8,1363.1 L935.8,1365.2 L936.8,1367.3 L937.8,1369.2 L938.8,1371.1 L939.8,1372.8 L940.8,1374.5 L941.8,1376.0 L942.8,1377.5 L943.8,1378.8 L944.8,1380.1 L945.8,1381.3 L946.8,1382.4 L947.8,1383.4 L948.8,1384.4 L949.8,1385.2 L950.8,1386.0 L951.8,1386.8 L952.8,1387.5 L953.8,1388.1 L954.8,1388.6 L955.8,1389.2 L956.8,1389.6 L957.8,1390.0 L958.8,1390.4 L959.8,1390.7 L960.8,1391.0 L961.8,1391.2 L962.8,1391.4 L963.8,1391.6 L964.8,1391.7 L965.8,1391.8 L966.8,1391.9 L967.8,1392.0 L968.8,1392.0 L969.8,1392.1 L970.8,1392.1 L971.8,1392.1 L972.8,1392.1 L973.8,1392.0 L974.8,1392.0 L975.8,1391.9 L976.8,1391.9 L977.8,1391.8 L978.8,1391.7 L979.8,1391.6 L980.8,1391.5 L981.8,1391.4 L982.8,1391.3 L983.8,1391.2 L984.8,1391.1 L985.8,1391.0 L986.8,1390.9 L987.8,1390.8 L988.8,1390.7 L989.8,1390.6 L990.8,1390.5 L991.8,1390.4 L992.8,1390.4 L993.8,1390.3 L994.8,1390.3 L995.8,1390.3 L996.8,1390.2 L997.8,1390.2 L998.8,1390.3 L999.8,1390.3 L1000.8,1390.3 L1001.8,1390.4 L1002.8,1390.5 L1003.8,1390.6 L1004.8,1390.7 L1005.8,1390.8 L1006.8,1390.9 L1007.8,1391.1 L1008.8,1391.2 L1009.8,1391.3 L1010.8,1391.5 L1011.8,1391.6 L1012.8,1391.7 L1013.8,1391.9 L1014.8,1392.0 L1015.8,1392.1 L1016.8,1392.2 L1017.8,1392.3 L1018.8,1392.3 L1019.8,1392.4 L1020.8,1392.4 L1021.8,1392.4 L1022.8,1392.4 L1023.8,1392.4 L1024.8,1392.3 L1025.8,1392.2 L1026.8,1392.1 L1027.8,1392.0 L1028.8,1391.8 L1029.8,1391.6 L1030.8,1391.4 L1031.8,1391.1 L1032.8,1390.8 L1033.8,1390.4 L1034.8,1390.0 L1035.8,1389.6 L1036.8,1389.1 L1037.8,1388.5 L1038.8,1388.0 L1039.8,1387.3 L1040.8,1386.7 L1041.8,1385.9 L1042.8,1385.1 L1043.8,1384.3 L1044.8,1383.4 L1045.8,1382.4 L1046.8,1381.4 L1047.8,1380.3 L1048.8,1379.2 L1049.8,1378.0 L1050.8,1376.7 L1051.8,1375.3 L1052.8,1373.9 L1053.8,1372.5 L1054.8,1370.9 L1055.8,1369.3 L1056.8,1367.6 L1057.8,1365.8 L1058.8,1364.0 L1059.8,1362.1 L1060.8,1360.1 L1061.8,1358.0 L1062.8,1355.9 L1063.8,1353.7 L1064.8,1351.4 L1065.8,1349.0 L1066.8,1346.5 L1067.8,1344.0 L1068.8,1341.4 L1069.8,1338.7 L1070.8,1335.9 L1071.8,1333.0 L1072.8,1330.1 L1073.8,1327.0 L1074.8,1323.9 L1075.8,1320.7 L1076.8,1317.4 L1077.8,1314.0 L1078.8,1310.6 L1079.8,1307.0 L1080.8,1303.4 L1081.8,1299.7 L1082.8,1295.9 L1083.8,1292.1 L1084.8,1288.2 L1085.8,1284.2 L1086.8,1280.1 L1087.8,1276.0 L1088.8,1271.8 L1089.8,1267.6 L1090.8,1263.3 L1091.8,1258.9 L1092.8,1254.5 L1093.8,1250.0 L1094.8,1245.5 L1095.8,1240.9 L1096.8,1236.3 L1097.8,1231.6 L1098.8,1226.8 L1099.8,1222.1 L1100.8,1217.3 L1101.8,1212.5 L1102.8,1207.7 L1103.8,1203.0 L1104.8,1198.3 L1105.8,1193.7 L1106.8,1189.2 L1107.8,1184.8 L1108.8,1180.5 L1109.8,1176.5 L1110.8,1172.6 L1111.8,1169.0 L1112.8,1165.7 L1113.8,1162.7 L1114.8,1160.1 L1115.8,1157.8 L1116.8,1155.8 L1117.8,1154.2 L1118.8,1152.9 L1119.8,1152.0 L1120.8,1151.3 L1121.8,1151.0 L1122.8,1150.9 L1123.8,1151.2 L1124.8,1151.7 L1125.8,1152.5 L1126.8,1153.5 L1127.8,1154.8 L1128.8,1156.3 L1129.8,1158.1 L1130.8,1160.1 L1131.8,1162.3 L1132.8,1164.7 L1133.8,1167.4 L1134.8,1170.2 L1135.8,1173.1 L1136.8,1176.3 L1137.8,1179.6 L1138.8,1183.1 L1139.8,1186.7 L1140.8,1190.5 L1141.8,1194.3 L1142.8,1198.3 L1143.8,1202.4 L1144.8,1206.6 L1145.8,1210.9 L1146.8,1215.3 L1147.8,1219.7 L1148.8,1224.2 L1149.8,1228.7 L1150.8,1233.3 L1151.8,1237.9 L1152.8,1242.6 L1153.8,1247.2 L1154.8,1251.9 L1155.8,1256.5 L1156.8,1261.1 L1157.8,1265.6 L1158.8,1270.1 L1159.8,1274.4 L1160.8,1278.7 L1161.8,1282.8 L1162.8,1286.8 L1163.8,1290.7 L1164.8,1294.4 L1165.8,1298.0 L1166.8,1301.4 L1167.8,1304.7 L1168.8,1307.8 L1169.8,1310.7 L1170.8,1313.5 L1171.8,1316.1 L1172.8,1318.6 L1173.8,1320.8 L1174.8,1322.8 L1175.8,1324.7 L1176.8,1326.3 L1177.8,1327.8 L1178.8,1329.0 L1179.8,1330.2 L1180.8,1331.2 L1181.8,1332.1 L1182.8,1332.9 L1183.8,1333.6 L1184.8,1334.3 L1185.8,1334.9 L1186.8,1335.5 L1187.8,1336.0 L1188.8,1336.5 L1189.8,1337.0 L1190.8,1337.5 L1191.8,1337.9 L1192.8,1338.4 L1193.8,1338.8 L1194.8,1339.1 L1195.8,1339.5 L1196.8,1339.8 L1197.8,1340.1 L1198.8,1340.3 L1199.8,1340.6 L1200.8,1340.8 L1201.8,1341.0 L1202.8,1341.2 L1203.8,1341.4 L1204.8,1341.5 L1205.8,1341.7 L1206.8,1341.8 L1207.8,1341.9 L1208.8,1341.9 L1209.8,1342.0 L1210.8,1342.1 L1211.8,1342.1 L1212.8,1342.1 L1213.8,1342.1 L1214.8,1342.1 L1215.8,1342.1 L1216.8,1342.0 L1217.8,1342.0 L1218.8,1341.9 L1219.8,1341.8 L1220.8,1341.7 L1221.8,1341.6 L1222.8,1341.5 L1223.8,1341.3 L1224.8,1341.2 L1225.8,1341.0 L1226.8,1340.8 L1227.8,1340.6 L1228.8,1340.4 L1229.8,1340.2 L1230.8,1340.0 L1231.8,1339.7 L1232.8,1339.5 L1233.8,1339.2 L1234.8,1338.9 L1235.8,1338.6 L1236.8,1338.3 L1237.8,1338.0 L1238.8,1337.7 L1239.8,1337.3 L1240.8,1337.0 L1241.8,1336.6 L1242.8,1336.2 L1243.8,1335.8 L1244.8,1335.4 L1245.8,1335.0 L1246.8,1334.6 L1247.8,1334.1 L1248.8,1333.7 L1249.8,1333.2 L1250.8,1332.8 L1251.8,1332.3 L1252.8,1331.8 L1253.8,1331.3 L1254.8,1330.8 L1255.8,1330.3 L1256.8,1329.7 L1257.8,1329.2 L1258.8,1328.6 L1259.8,1328.1 L1260.8,1327.5 L1261.8,1326.9 L1262.8,1326.3 L1263.8,1325.7 L1264.8,1325.1 L1265.8,1324.5 L1266.8,1323.9 L1267.8,1323.2 L1268.8,1322.6 L1269.8,1321.9 L1270.8,1321.2 L1271.8,1320.6 L1272.8,1319.9 L1273.8,1319.2 L1274.8,1318.5 L1275.8,1317.8 L1276.8,1317.1 L1277.8,1316.3 L1278.8,1315.6 L1279.8,1314.9 L1280.8,1314.1 L1281.8,1313.3 L1282.8,1312.6 L1283.8,1311.8 L1284.8,1311.0 L1285.8,1310.2 L1286.8,1309.5 L1287.8,1308.7 L1288.8,1307.9 L1289.8,1307.1 L1290.8,1306.3 L1291.8,1305.5 L1292.8,1304.7 L1293.8,1303.9 L1294.8,1303.1 L1295.8,1302.3 L1296.8,1301.5 L1297.8,1300.7 L1298.8,1299.9 L1299.8,1299.1 L1300.8,1298.4 L1301.8,1297.6 L1302.8,1296.8 L1303.8,1296.1 L1304.8,1295.3 L1305.8,1294.6 L1306.8,1293.8 L1307.8,1293.1 L1308.8,1292.4 L1309.8,1291.7 L1310.8,1291.0 L1311.8,1290.3 L1312.8,1289.7 L1313.8,1289.0 L1314.8,1288.4 L1315.8,1287.7 L1316.8,1287.1 L1317.8,1286.5 L1318.8,1286.0 L1319.8,1285.4 L1320.8,1284.9 L1321.8,1284.3 L1322.8,1283.8 L1323.8,1283.4 L1324.8,1282.9 L1325.8,1282.5 L1326.8,1282.1 L1327.8,1281.7 L1328.8,1281.3 L1329.8,1281.0 L1330.8,1280.6 L1331.8,1280.3 L1332.8,1280.1 L1333.8,1279.8 L1334.8,1279.6 L1335.8,1279.4 L1336.8,1279.3 L1337.8,1279.2 L1338.8,1279.1 L1339.8,1279.0 L1340.8,1279.0 L1341.8,1279.0 L1342.8,1279.0 L1343.8,1279.1 L1344.8,1279.2 L1345.4,1279.3" fill="none" stroke="#1f77b4" stroke-width="6.3" stroke-linejoin="round"/>
<path d="M564.8,1397.9 L565.8,1397.4 L566.8,1396.7 L567.8,1395.8 L568.8,1394.8 L569.8,1393.6 L570.8,1392.3 L571.8,1390.8 L572.8,1389.2 L573.8,1387.4 L574.8,1385.5 L575.8,1383.4 L576.8,1381.2 L577.8,1378.9 L578.8,1376.4 L579.8,1373.8 L580.8,1371.1 L581.8,1368.2 L582.8,1365.2 L583.8,1362.1 L584.8,1358.8 L585.8,1355.5 L586.8,1352.0 L587.8,1348.4 L588.8,1344.7 L589.8,1340.8 L590.8,1336.9 L591.8,1332.9 L592.8,1328.8 L593.8,1324.6 L594.8,1320.3 L595.8,1316.0 L596.8,1311.6 L597.8,1307.2 L598.8,1302.8 L599.8,1298.3 L600.8,1293.9 L601.8,1289.5 L602.8,1285.1 L603.8,1280.7 L604.8,1276.3 L605.8,1272.0 L606.8,1267.8 L607.8,1263.7 L608.8,1259.6 L609.8,1255.7 L610.8,1251.9 L611.8,1248.2 L612.8,1244.7 L613.8,1241.4 L614.8,1238.3 L615.8,1235.4 L616.8,1232.7 L617.8,1230.2 L618.8,1227.9 L619.8,1225.8 L620.8,1223.9 L621.8,1222.3 L622.8,1220.8 L623.8,1219.6 L624.8,1218.6 L625.8,1217.8 L626.8,1217.3 L627.8,1216.9 L628.8,1216.8 L629.8,1217.0 L630.8,1217.3 L631.8,1218.0 L632.8,1218.8 L633.8,1219.9 L634.8,1221.3 L635.8,1222.9 L636.8,1224.7 L637.8,1226.8 L638.8,1229.1 L639.8,1231.6 L640.8,1234.3 L641.8,1237.2 L642.8,1240.3 L643.8,1243.5 L644.8,1246.9 L645.8,1250.4 L646.8,1254.0 L647.8,1257.7 L648.8,1261.6 L649.8,1265.5 L650.8,1269.5 L651.8,1273.6 L652.8,1277.8 L653.8,1282.0 L654.8,1286.2 L655.8,1290.4 L656.8,1294.7 L657.8,1299.0 L658.8,1303.3 L659.8,1307.6 L660.8,1311.9 L661.8,1316.1 L662.8,1320.3 L663.8,1324.5 L664.8,1328.6 L665.8,1332.7 L666.8,1336.7 L667.8,1340.6 L668.8,1344.5 L669.8,1348.2 L670.8,1351.8 L671.8,1355.4 L672.8,1358.8 L673.8,1362.0 L674.8,1365.2 L675.8,1368.2 L676.8,1371.0 L677.8,1373.7 L678.8,1376.2 L679.8,1378.6 L680.8,1380.8 L681.8,1382.9 L682.8,1384.8 L683.8,1386.5 L684.8,1388.1 L685.8,1389.5 L686.8,1390.8 L687.8,1391.9 L688.8,1392.8 L689.8,1393.6 L690.8,1394.2 L691.8,1394.6 L692.8,1394.9 L693.8,1395.0 L694.8,1394.9 L695.8,1394.6 L696.8,1394.2 L697.8,1393.6 L698.8,1392.8 L699.8,1391.8 L700.8,1390.7 L701.8,1389.3 L702.8,1387.8 L703.8,1386.1 L704.8,1384.2 L705.8,1382.1 L706.8,1379.9 L707.8,1377.6 L708.8,1375.1 L709.8,1372.4 L710.8,1369.6 L711.8,1366.7 L712.8,1363.7 L713.8,1360.6 L714.8,1357.3 L715.8,1354.0 L716.8,1350.6 L717.8,1347.1 L718.8,1343.5 L719.8,1339.9 L720.8,1336.2 L721.8,1332.5 L722.8,1328.7 L723.8,1324.8 L724.8,1321.0 L725.8,1317.1 L726.8,1313.2 L727.8,1309.3 L728.8,1305.4 L729.8,1301.5 L730.8,1297.7 L731.8,1293.9 L732.8,1290.1 L733.8,1286.4 L734.8,1282.8 L735.8,1279.2 L736.8,1275.8 L737.8,1272.4 L738.8,1269.2 L739.8,1266.1 L740.8,1263.1 L741.8,1260.3 L742.8,1257.6 L743.8,1255.1 L744.8,1252.8 L745.8,1250.6 L746.8,1248.6 L747.8,1246.8 L748.8,1245.1 L749.8,1243.6 L750.8,1242.3 L751.8,1241.1 L752.8,1240.1 L753.8,1239.4 L754.8,1238.7 L755.8,1238.3 L756.8,1238.0 L757.8,1238.0 L758.8,1238.1 L759.8,1238.4 L760.8,1238.9 L761.8,1239.6 L762.8,1240.4 L763.8,1241.5 L764.8,1242.7 L765.8,1244.2 L766.8,1245.9 L767.8,1247.7 L768.8,1249.7 L769.8,1251.9 L770.8,1254.3 L771.8,1256.8 L772.8,1259.4 L773.8,1262.2 L774.8,1265.1 L775.8,1268.2 L776.8,1271.3 L777.8,1274.6 L778.8,1278.0 L779.8,1281.4 L780.8,1284.9 L781.8,1288.5 L782.8,1292.2 L783.8,1295.9 L784.8,1299.6 L785.8,1303.4 L786.8,1307.2 L787.8,1311.0 L788.8,1314.8 L789.8,1318.7 L790.8,1322.5 L791.8,1326.3 L792.8,1330.1 L793.8,1333.9 L794.8,1337.6 L795.8,1341.2 L796.8,1344.8 L797.8,1348.3 L798.8,1351.7 L799.8,1355.1 L800.8,1358.3 L801.8,1361.4 L802.8,1364.4 L803.8,1367.3 L804.8,1370.0 L805.8,1372.6 L806.8,1375.1 L807.8,1377.3 L808.8,1379.4 L809.8,1381.3 L810.8,1383.0 L811.8,1384.5 L812.8,1385.8 L813.8,1386.9 L814.8,1387.7 L815.8,1388.4 L816.8,1388.8 L817.8,1389.0 L818.8,1389.0 L819.8,1388.8 L820.8,1388.5 L821.8,1387.9 L822.8,1387.1 L823.8,1386.1 L824.8,1385.0 L825.8,1383.6 L826.8,1382.1 L827.8,1380.4 L828.8,1378.5 L829.8,1376.5 L830.8,1374.3 L831.8,1372.0 L832.8,1369.5 L833.8,1366.9 L834.8,1364.1 L835.8,1361.2 L836.8,1358.2 L837.8,1355.1 L838.8,1351.9 L839.8,1348.6 L840.8,1345.2 L841.8,1341.6 L842.8,1338.1 L843.8,1334.4 L844.8,1330.7 L845.8,1326.9 L846.8,1323.1 L847.8,1319.2 L848.8,1315.2 L849.8,1311.2 L850.8,1307.2 L851.8,1303.2 L852.8,1299.2 L853.8,1295.2 L854.8,1291.2 L855.8,1287.3 L856.8,1283.3 L857.8,1279.5 L858.8,1275.7 L859.8,1272.0 L860.8,1268.3 L861.8,1264.8 L862.8,1261.4 L863.8,1258.1 L864.8,1254.9 L865.8,1251.9 L866.8,1249.1 L867.8,1246.4 L868.8,1243.9 L869.8,1241.6 L870.8,1239.5 L871.8,1237.6 L872.8,1235.9 L873.8,1234.5 L874.8,1233.3 L875.8,1232.3 L876.8,1231.5 L877.8,1231.0 L878.8,1230.6 L879.8,1230.5 L880.8,1230.5 L881.8,1230.8 L882.8,1231.2 L883.8,1231.8 L884.8,1232.6 L885.8,1233.5 L886.8,1234.6 L887.8,1235.9 L888.8,1237.3 L889.8,1238.8 L890.8,1240.5 L891.8,1242.3 L892.8,1244.3 L893.8,1246.3 L894.8,1248.5 L895.8,1250.8 L896.8,1253.2 L897.8,1255.6 L898.8,1258.2 L899.8,1260.8 L900.8,1263.6 L901.8,1266.4 L902.8,1269.2 L903.8,1272.1 L904.8,1275.1 L905.8,1278.1 L906.8,1281.2 L907.8,1284.3 L908.8,1287.5 L909.8,1290.6 L910.8,1293.8 L911.8,1297.0 L912.8,1300.2 L913.8,1303.4 L914.8,1306.6 L915.8,1309.8 L916.8,1312.9 L917.8,1316.1 L918.8,1319.2 L919.8,1322.3 L920.8,1325.4 L921.8,1328.5 L922.8,1331.5 L923.8,1334.4 L924.8,1337.4 L925.8,1340.2 L926.8,1343.0 L927.8,1345.8 L928.8,1348.5 L929.8,1351.1 L930.8,1353.7 L931.8,1356.2 L932.8,1358.6 L933.8,1360.9 L934.8,1363.1 L935.8,1365.2 L936.8,1367.3 L937.8,1369.2 L938.8,1371.1 L939.8,1372.8 L940.8,1374.5 L941.8,1376.0 L942.8,1377.5 L943.8,1378.8 L944.8,1380.1 L945.8,1381.3 L946.8,1382.4 L947.8,1383.4 L948.8,1384.4 L949.8,1385.2 L950.8,1386.0 L951.8,1386.8 L952.8,1387.5 L953.8,1388.1 L954.8,1388.6 L955.8,1389.2 L956.8,1389.6 L957.8,1390.0 L958.8,1390.4 L959.8,1390.7 L960.8,1391.0 L961.8,1391.2 L962.8,1391.4 L963.8,1391.6 L964.8,1391.7 L965.8,1391.8 L966.8,1391.9 L967.8,1392.0 L968.8,1392.0 L969.8,1392.1 L970.8,1392.1 L971.8,1392.1 L972.8,1392.1 L973.8,1392.0 L974.8,1392.0 L975.8,1391.9 L976.8,1391.9 L977.8,1391.8 L978.8,1391.7 L979.8,1391.6 L980.8,1391.5 L981.8,1391.4 L982.8,1391.3 L983.8,1391.2 L984.8,1391.1 L985.8,1391.0 L986.8,1390.9 L987.8,1390.8 L988.8,1390.7 L989.8,1390.6 L990.8,1390.5 L991.8,1390.4 L992.8,1390.4 L993.8,1390.3 L994.8,1390.3 L995.8,1390.3 L996.8,1390.2 L997.8,1390.2 L998.8,1390.3 L999.8,1390.3 L1000.8,1390.3 L1001.8,1390.4 L1002.8,1390.5 L1003.8,1390.6 L1004.8,1390.7 L1005.8,1390.8 L1006.8,1390.9 L1007.8,1391.1 L1008.8,1391.2 L1009.8,1391.3 L1010.8,1391.5 L1011.8,1391.6 L1012.8,1391.7 L1013.8,1391.9 L1014.8,1392.0 L1015.8,1392.1 L1016.8,1392.2 L1017.8,1392.3 L1018.8,1392.3 L1019.8,1392.4 L1020.8,1392.4 L1021.8,1392.4 L1022.8,1392.4 L1023.8,1392.4 L1024.8,1392.3 L1025.8,1392.2 L1026.8,1392.1 L1027.8,1392.0 L1028.8,1391.8 L1029.8,1391.6 L1030.8,1391.4 L1031.8,1391.1 L1032.8,1390.8 L1033.8,1390.4 L1034.8,1390.0 L1035.8,1389.6 L1036.8,1389.1 L1037.8,1388.5 L1038.8,1388.0 L1039.8,1387.3 L1040.8,1386.7 L1041.8,1385.9 L1042.8,1385.1 L1043.8,1384.3 L1044.8,1383.4 L1045.8,1382.4 L1046.8,1381.4 L1047.8,1380.3 L1048.8,1379.2 L1049.8,1378.0 L1050.8,1376.7 L1051.8,1375.3 L1052.8,1373.9 L1053.8,1372.5 L1054.8,1370.9 L1055.8,1369.3 L1056.8,1367.6 L1057.8,1365.8 L1058.8,1364.0 L1059.8,1362.1 L1060.8,1360.1 L1061.8,1358.0 L1062.8,1355.9 L1063.8,1353.7 L1064.8,1351.4 L1065.8,1349.0 L1066.8,1346.5 L1067.8,1344.0 L1068.8,1341.4 L1069.8,1338.7 L1070.8,1335.9 L1071.8,1333.0 L1072.8,1330.1 L1073.8,1327.0 L1074.8,1323.9 L1075.8,1320.7 L1076.8,1317.4 L1077.8,1314.0 L1078.8,1310.6 L1079.8,1307.0 L1080.8,1303.4 L1081.8,1299.7 L1082.8,1295.9 L1083.8,1292.1 L1084.8,1288.2 L1085.8,1284.2 L1086.8,1280.1 L1087.8,1276.0 L1088.8,1271.8 L1089.8,1267.6 L1090.8,1263.3 L1091.8,1258.9 L1092.8,1254.5 L1093.8,1250.0 L1094.8,1245.5 L1095.8,1240.9 L1096.8,1236.3 L1097.8,1231.6 L1098.8,1226.8 L1099.8,1222.1 L1100.8,1217.3 L1101.8,1212.5 L1102.8,1207.7 L1103.8,1203.0 L1104.8,1198.3 L1105.8,1193.7 L1106.8,1189.2 L1107.8,1184.8 L1108.8,1180.5 L1109.8,1176.5 L1110.8,1172.6 L1111.8,1169.0 L1112.8,1165.7 L1113.8,1162.7 L1114.8,1160.1 L1115.8,1157.8 L1116.8,1155.8 L1117.8,1154.2 L1118.8,1152.9 L1119.8,1152.0 L1120.8,1151.3 L1121.8,1151.0 L1122.8,1150.9 L1123.8,1151.2 L1124.8,1151.7 L1125.8,1152.5 L1126.8,1153.5 L1127.8,1154.8 L1128.8,1156.3 L1129.8,1158.1 L1130.8,1160.1 L1131.8,1162.3 L1132.8,1164.7 L1133.8,1167.4 L1134.8,1170.2 L1135.8,1173.1 L1136.8,1176.3 L1137.8,1179.6 L1138.8,1183.1 L1139.8,1186.7 L1140.8,1190.5 L1141.8,1194.3 L1142.8,1198.3 L1143.8,1202.4 L1144.8,1206.6 L1145.8,1210.9 L1146.8,1215.3 L1147.8,1219.7 L1148.8,1224.2 L1149.8,1228.7 L1150.8,1233.3 L1151.8,1237.9 L1152.8,1242.6 L1153.8,1247.2 L1154.8,1251.9 L1155.8,1256.5 L1156.8,1261.1 L1157.8,1265.6 L1158.8,1270.1 L1159.8,1274.4 L1160.8,1278.7 L1161.8,1282.8 L1162.8,1286.8 L1163.8,1290.7 L1164.8,1294.4 L1165.8,1298.0 L1166.8,1301.4 L1167.8,1304.7 L1168.8,1307.8 L1169.8,1310.7 L1170.8,1313.5 L1171.8,1316.1 L1172.8,1318.6 L1173.8,1320.8 L1174.8,1322.8 L1175.8,1324.7 L1176.8,1326.3 L1177.8,1327.8 L1178.8,1329.0 L1179.8,1330.2 L1180.8,1331.2 L1181.8,1332.1 L1182.8,1332.9 L1183.8,1333.6 L1184.8,1334.3 L1185.8,1334.9 L1186.8,1335.5 L1187.8,1336.0 L1188.8,1336.5 L1189.8,1337.0 L1190.8,1337.5 L1191.8,1337.9 L1192.8,1338.4 L1193.8,1338.8 L1194.8,1339.1 L1195.8,1339.5 L1196.8,1339.8 L1197.8,1340.1 L1198.8,1340.3 L1199.8,1340.6 L1200.8,1340.8 L1201.8,1341.0 L1202.8,1341.2 L1203.8,1341.4 L1204.8,1341.5 L1205.8,1341.7 L1206.8,1341.8 L1207.8,1341.9 L1208.8,1341.9 L1209.8,1342.0 L1210.8,1342.1 L1211.8,1342.1 L1212.8,1342.1 L1213.8,1342.1 L1214.8,1342.1 L1215.8,1342.1 L1216.8,1342.0 L1217.8,1342.0 L1218.8,1341.9 L1219.8,1341.8 L1220.8,1341.7 L1221.8,1341.6 L1222.8,1341.5 L1223.8,1341.3 L1224.8,1341.2 L1225.8,1341.0 L1226.8,1340.8 L1227.8,1340.6 L1228.8,1340.4 L1229.8,1340.2 L1230.8,1340.0 L1231.8,1339.7 L1232.8,1339.5 L1233.8,1339.2 L1234.8,1338.9 L1235.8,1338.6 L1236.8,1338.3 L1237.8,1338.0 L1238.8,1337.7 L1239.8,1337.3 L1240.8,1337.0 L1241.8,1336.6 L1242.8,1336.2 L1243.8,1335.8 L1244.8,1335.4 L1245.8,1335.0 L1246.8,1334.6 L1247.8,1334.1 L1248.8,1333.7 L1249.8,1333.2 L1250.8,1332.8 L1251.8,1332.3 L1252.8,1331.8 L1253.8,1331.3 L1254.8,1330.8 L1255.8,1330.3 L1256.8,1329.7 L1257.8,1329.2 L1258.8,1328.6 L1259.8,1328.1 L1260.8,1327.5 L1261.8,1326.9 L1262.8,1326.3 L1263.8,1325.7 L1264.8,1325.1 L1265.8,1324.5 L1266.8,1323.9 L1267.8,1323.2 L1268.8,1322.6 L1269.8,1321.9 L1270.8,1321.2 L1271.8,1320.6 L1272.8,1319.9 L1273.8,1319.2 L1274.8,1318.5 L1275.8,1317.8 L1276.8,1317.1 L1277.8,1316.3 L1278.8,1315.6 L1279.8,1314.9 L1280.8,1314.1 L1281.8,1313.3 L1282.8,1312.6 L1283.8,1311.8 L1284.8,1311.0 L1285.8,1310.2 L1286.8,1309.5 L1287.8,1308.7 L1288.8,1307.9 L1289.8,1307.1 L1290.8,1306.3 L1291.8,1305.5 L1292.8,1304.7 L1293.8,1303.9 L1294.8,1303.1 L1295.8,1302.3 L1296.8,1301.5 L1297.8,1300.7 L1298.8,1299.9 L1299.8,1299.1 L1300.8,1298.4 L1301.8,1297.6 L1302.8,1296.8 L1303.8,1296.1 L1304.8,1295.3 L1305.8,1294.6 L1306.8,1293.8 L1307.8,1293.1 L1308.8,1292.4 L1309.8,1291.7 L1310.8,1291.0 L1311.8,1290.3 L1312.8,1289.7 L1313.8,1289.0 L1314.8,1288.4 L1315.8,1287.7 L1316.8,1287.1 L1317.8,1286.5 L1318.8,1286.0 L1319.8,1285.4 L1320.8,1284.9 L1321.8,1284.3 L1322.8,1283.8 L1323.8,1283.4 L1324.8,1282.9 L1325.8,1282.5 L1326.8,1282.1 L1327.8,1281.7 L1328.8,1281.3 L1329.8,1281.0 L1330.8,1280.6 L1331.8,1280.3 L1332.8,1280.1 L1333.8,1279.8 L1334.8,1279.6 L1335.8,1279.4 L1336.8,1279.3 L1337.8,1279.2 L1338.8,1279.1 L1339.8,1279.0 L1340.8,1279.0 L1341.8,1279.0 L1342.8,1279.0 L1343.8,1279.1 L1344.8,1279.2 L1345.4,1279.3" fill="none" stroke="#000" stroke-width="6.0" stroke-dasharray="6.3 10.4"/>
<circle cx="564.8" cy="1397.9" r="9.8" fill="#ff0000"/>
<polygon points="1339.5,1291.6 1343.8,1296.0 1348.2,1291.6 1352.6,1296.0 1348.2,1300.3 1352.6,1304.7 1348.2,1309.1 1343.8,1304.7 1339.5,1309.1 1335.1,1304.7 1339.5,1300.3 1335.1,1296.0" fill="#ff0000" stroke="#ff0000" stroke-width="1.7" stroke-linejoin="round"/>
<defs><clipPath id="cl0"><rect x="112.3" y="94.8" width="306.2" height="306.3"/></clipPath><clipPath id="cl1"><rect x="112.3" y="432.0" width="306.2" height="304.9"/></clipPath><clipPath id="cl2"><rect x="112.3" y="767.8" width="306.2" height="305.8"/></clipPath><clipPath id="cl3"><rect x="112.3" y="1104.6" width="306.2" height="304.2"/></clipPath></defs>
<polygon points="339.0,239.7 343.1,243.8 347.3,239.7 351.4,243.8 347.3,248.0 351.4,252.1 347.3,256.2 343.1,252.1 339.0,256.2 334.9,252.1 339.0,248.0 334.9,243.8" fill="#ff0000" stroke="#ff0000" stroke-width="1.7" stroke-linejoin="round"/>
<circle cx="375.2" cy="248.0" r="19.4" fill="none" stroke="#6e6e6e" stroke-width="2.3" stroke-dasharray="8.4 4.4"/>
<circle cx="343.1" cy="248.0" r="19.4" fill="none" stroke="#6e6e6e" stroke-width="2.3" stroke-dasharray="8.4 4.4"/>
<polygon points="261.6,498.8 265.7,502.9 269.8,498.8 273.9,502.9 269.8,507.0 273.9,511.1 269.8,515.3 265.7,511.1 261.6,515.3 257.4,511.1 261.6,507.0 257.4,502.9" fill="#ff0000" stroke="#ff0000" stroke-width="1.7" stroke-linejoin="round"/>
<circle cx="265.7" cy="584.5" r="19.4" fill="none" stroke="#6e6e6e" stroke-width="2.3" stroke-dasharray="8.4 4.4"/>
<circle cx="265.7" cy="507.0" r="19.4" fill="none" stroke="#6e6e6e" stroke-width="2.3" stroke-dasharray="8.4 4.4"/>
<polygon points="184.1,912.4 188.3,916.6 192.4,912.4 196.5,916.6 192.4,920.7 196.5,924.8 192.4,928.9 188.3,924.8 184.1,928.9 180.0,924.8 184.1,920.7 180.0,916.6" fill="#ff0000" stroke="#ff0000" stroke-width="1.7" stroke-linejoin="round"/>
<circle cx="375.2" cy="920.7" r="19.4" fill="none" stroke="#6e6e6e" stroke-width="2.3" stroke-dasharray="8.4 4.4"/>
<circle cx="188.3" cy="920.7" r="19.4" fill="none" stroke="#6e6e6e" stroke-width="2.3" stroke-dasharray="8.4 4.4"/>
<polygon points="261.6,1325.9 265.7,1330.0 269.8,1325.9 273.9,1330.0 269.8,1334.1 273.9,1338.3 269.8,1342.4 265.7,1338.3 261.6,1342.4 257.4,1338.3 261.6,1334.1 257.4,1330.0" fill="#ff0000" stroke="#ff0000" stroke-width="1.7" stroke-linejoin="round"/>
<circle cx="265.7" cy="1256.7" r="19.4" fill="none" stroke="#6e6e6e" stroke-width="2.3" stroke-dasharray="8.4 4.4"/>
<circle cx="265.7" cy="1334.1" r="19.4" fill="none" stroke="#6e6e6e" stroke-width="2.3" stroke-dasharray="8.4 4.4"/>
<path d="M228.8,184.0 L229.0,181.9 L229.2,179.8 L229.6,177.7 L230.0,175.8 L230.6,173.8 L231.2,171.9 L231.9,170.1 L232.7,168.3 L233.6,166.6 L234.5,164.9 L235.6,163.3 L236.7,161.7 L237.8,160.2 L239.1,158.7 L240.4,157.3 L241.7,155.9 L243.2,154.6 L244.6,153.3 L246.2,152.1 L247.8,150.9 L249.4,149.8 L251.1,148.7 L252.8,147.7 L254.6,146.7 L256.4,145.8 L258.2,145.0 L260.1,144.2 L262.0,143.4 L263.9,142.7 L265.9,142.0 L267.9,141.4 L269.9,140.8 L271.9,140.3 L274.0,139.8 L276.0,139.4 L278.1,139.1 L280.2,138.7 L282.3,138.5 L284.4,138.2 L286.4,138.1 L288.5,137.9 L290.6,137.9 L292.7,137.8 L294.8,137.9 L296.8,137.9 L298.9,138.0 L300.9,138.2 L302.9,138.4 L304.9,138.7 L306.9,139.0 L308.9,139.3 L310.9,139.7 L312.8,140.1 L314.8,140.6 L316.7,141.1 L318.6,141.7 L320.5,142.3 L322.4,142.9 L324.2,143.6 L326.1,144.3 L327.9,145.0 L329.7,145.8 L331.5,146.7 L333.3,147.5 L335.1,148.4 L336.8,149.4 L338.6,150.4 L340.3,151.4 L342.0,152.4 L343.6,153.5 L345.3,154.6 L346.9,155.7 L348.5,156.9 L350.1,158.1 L351.7,159.3 L353.2,160.6 L354.7,161.9 L356.2,163.2 L357.7,164.5 L359.2,165.9 L360.6,167.3 L362.0,168.7 L363.4,170.2 L364.8,171.7 L366.1,173.2 L367.4,174.7 L368.7,176.2 L370.0,177.8 L371.2,179.4 L372.4,181.0 L373.6,182.7 L374.8,184.3 L375.9,186.0 L377.0,187.7 L378.1,189.4 L379.1,191.1 L380.1,192.9 L381.1,194.6 L382.1,196.4 L383.0,198.2 L383.9,200.0 L384.8,201.9 L385.7,203.7 L386.5,205.6 L387.2,207.4 L388.0,209.3 L388.7,211.2 L389.4,213.1 L390.0,215.0 L390.7,216.9 L391.3,218.8 L391.8,220.8 L392.3,222.7 L392.8,224.7 L393.3,226.6 L393.7,228.6 L394.1,230.6 L394.4,232.6 L394.7,234.5 L395.0,236.5 L395.2,238.5 L395.4,240.5 L395.6,242.5 L395.7,244.5 L395.8,246.5 L395.9,248.5 L395.9,250.5 L395.9,252.5 L395.8,254.5 L395.7,256.4 L395.6,258.4 L395.4,260.4 L395.2,262.4 L395.0,264.4 L394.7,266.4 L394.4,268.3 L394.1,270.3 L393.7,272.3 L393.3,274.2 L392.9,276.2 L392.4,278.1 L391.9,280.0 L391.4,282.0 L390.9,283.9 L390.3,285.8 L389.6,287.7 L389.0,289.6 L388.3,291.5 L387.6,293.3 L386.8,295.2 L386.0,297.0 L385.2,298.8 L384.4,300.7 L383.5,302.5 L382.6,304.3 L381.7,306.0 L380.8,307.8 L379.8,309.5 L378.8,311.3 L377.7,313.0 L376.7,314.7 L375.6,316.4 L374.5,318.0 L373.3,319.7 L372.1,321.3 L370.9,322.9 L369.7,324.5 L368.5,326.0 L367.2,327.6 L365.9,329.1 L364.6,330.6 L363.2,332.1 L361.9,333.5 L360.5,335.0 L359.1,336.4 L357.6,337.7 L356.2,339.1 L354.7,340.4 L353.2,341.7 L351.6,343.0 L350.1,344.3 L348.5,345.5 L346.9,346.7 L345.3,347.8 L343.7,349.0 L342.0,350.1 L340.4,351.2 L338.7,352.2 L336.9,353.2 L335.2,354.2 L333.5,355.2 L331.7,356.1 L329.9,357.0 L328.1,357.9 L326.3,358.7 L324.4,359.5 L322.6,360.2 L320.7,360.9 L318.8,361.6 L316.9,362.3 L315.0,362.9 L313.0,363.5 L311.1,364.0 L309.1,364.5 L307.2,365.0 L305.2,365.5 L303.2,365.9 L301.2,366.3 L299.2,366.6 L297.2,366.9 L295.2,367.2 L293.1,367.5 L291.1,367.7 L289.1,367.9 L287.0,368.0 L285.0,368.1 L282.9,368.2 L280.9,368.2 L278.8,368.3 L276.8,368.2 L274.7,368.2 L272.7,368.1 L270.6,368.0 L268.6,367.8 L266.5,367.6 L264.5,367.4 L262.4,367.2 L260.4,366.9 L258.4,366.6 L256.4,366.2 L254.3,365.8 L252.3,365.4 L250.3,365.0 L248.3,364.5 L246.3,364.0 L244.4,363.4 L242.4,362.8 L240.4,362.2 L238.5,361.6 L236.6,360.9 L234.7,360.2 L232.8,359.4 L230.9,358.7 L229.0,357.8 L227.1,357.0 L225.3,356.1 L223.5,355.2 L221.7,354.3 L219.9,353.3 L218.1,352.3 L216.4,351.3 L214.7,350.2 L213.0,349.1 L211.3,348.0 L209.6,346.8 L208.0,345.6 L206.4,344.4 L204.8,343.1 L203.2,341.8 L201.7,340.5 L200.2,339.1 L198.7,337.7 L197.3,336.3 L195.9,334.9 L194.5,333.4 L193.1,331.9 L191.8,330.3 L190.5,328.8 L189.2,327.2 L188.0,325.6 L186.8,323.9 L185.6,322.3 L184.5,320.6 L183.4,318.9 L182.3,317.1 L181.3,315.4 L180.3,313.6 L179.4,311.9 L178.5,310.1 L177.6,308.2 L176.8,306.4 L176.0,304.6 L175.2,302.7 L174.5,300.9 L173.9,299.0 L173.3,297.1 L172.7,295.3 L172.1,293.4 L171.7,291.5 L171.2,289.6 L170.8,287.7 L170.5,285.8 L170.2,283.9 L169.9,282.0 L169.7,280.1 L169.5,278.2 L169.4,276.3 L169.4,274.4 L169.4,272.5 L169.4,270.6 L169.5,268.7 L169.7,266.9 L169.9,265.0 L170.1,263.2 L170.4,261.3 L170.8,259.5 L171.2,257.7 L171.7,255.9 L172.3,254.1 L172.9,252.4 L173.5,250.6 L174.2,248.9 L175.0,247.2 L175.9,245.5 L176.8,243.8 L177.7,242.2 L178.7,240.6 L179.8,239.0 L181.0,237.4 L182.2,235.9 L183.5,234.3 L184.8,232.8 L186.1,231.3 L187.5,229.9 L189.0,228.4 L190.4,226.9 L191.9,225.5 L193.4,224.0 L195.0,222.6 L196.5,221.1 L198.0,219.6 L199.6,218.1 L201.1,216.6 L202.6,215.1 L204.1,213.6 L205.6,212.0 L207.1,210.4 L208.6,208.8 L210.0,207.2 L211.3,205.5 L212.7,203.9 L214.0,202.2 L215.3,200.4 L216.6,198.7 L217.9,197.0 L219.2,195.3 L220.4,193.7 L221.7,192.0 L223.0,190.4 L224.3,188.8 L225.6,187.3 L227.0,185.8 L228.4,184.3 L229.8,182.9 L231.2,181.6 L232.7,180.4 L234.2,179.2 L235.7,178.1 L237.3,177.1 L238.9,176.1 L240.6,175.2 L242.2,174.4 L243.9,173.6 L245.7,173.0 L247.4,172.3 L249.2,171.8 L251.0,171.3 L252.8,170.8 L254.6,170.4 L256.5,170.1 L258.3,169.9 L260.2,169.7 L262.1,169.5 L264.0,169.5 L265.9,169.4 L267.8,169.5 L269.7,169.6 L271.6,169.7 L273.6,170.0 L275.5,170.2 L277.4,170.5 L279.3,170.9 L281.2,171.3 L283.2,171.8 L285.1,172.3 L287.0,172.9 L288.9,173.6 L290.7,174.2 L292.6,175.0 L294.5,175.7 L296.3,176.6 L298.1,177.4 L299.9,178.4 L301.7,179.3 L303.5,180.3 L305.2,181.4 L306.9,182.5 L308.6,183.6 L310.2,184.8 L311.9,186.0 L313.5,187.3 L315.0,188.6 L316.6,189.9 L318.0,191.3 L319.5,192.8 L320.9,194.2 L322.3,195.7 L323.6,197.2 L324.9,198.8 L326.2,200.4 L327.4,202.1 L328.5,203.7 L329.6,205.4 L330.7,207.2 L331.7,208.9 L332.6,210.7 L333.5,212.6 L334.4,214.4 L335.1,216.3 L335.8,218.2 L336.5,220.2 L337.1,222.1 L337.6,224.1 L338.1,226.2 L338.5,228.2 L338.8,230.3 L339.0,232.4 L339.2,234.5 L339.3,236.6 L339.4,238.8 L339.3,241.0 L339.2,243.2 L339.0,245.4 L338.7,247.6" fill="none" stroke="#1f77b4" stroke-width="2.6" stroke-linejoin="round"/>
<path d="M374.5,248.3 L374.4,250.3 L374.2,252.3 L373.9,254.3 L373.6,256.4 L373.3,258.4 L372.9,260.4 L372.5,262.5 L372.1,264.5 L371.6,266.5 L371.0,268.5 L370.5,270.5 L369.9,272.5 L369.2,274.5 L368.5,276.5 L367.8,278.4 L367.0,280.4 L366.2,282.3 L365.4,284.2 L364.5,286.0 L363.5,287.9 L362.5,289.7 L361.5,291.5 L360.5,293.3 L359.3,295.0 L358.2,296.7 L357.0,298.3 L355.8,300.0 L354.5,301.6 L353.2,303.1 L351.8,304.6 L350.4,306.1 L348.9,307.5 L347.4,308.9 L345.9,310.2 L344.3,311.5 L342.7,312.8 L341.0,313.9 L339.3,315.1 L337.5,316.1 L335.7,317.2 L333.9,318.1 L332.0,319.0 L330.1,319.8 L328.1,320.6 L326.0,321.3 L324.0,322.0 L321.8,322.5" fill="none" stroke="#1f77b4" stroke-width="2.6" stroke-linejoin="round"/>
<path d="M320.5,280.9 L319.2,279.6 L317.7,278.4 L316.1,277.4 L314.4,276.5 L312.6,275.8 L310.7,275.2 L308.7,274.8 L306.7,274.4 L304.6,274.3 L302.6,274.2 L300.5,274.3 L298.3,274.5 L296.3,274.9 L294.2,275.3 L292.2,275.9 L290.2,276.6 L288.3,277.4 L286.4,278.4 L284.7,279.4 L283.0,280.6 L281.5,281.8 L280.1,283.2 L278.9,284.7 L277.8,286.3 L276.8,287.9 L276.0,289.7 L275.4,291.5 L274.8,293.3 L274.5,295.2 L274.2,297.1 L274.2,299.0 L274.2,301.0 L274.4,302.9 L274.8,304.8 L275.2,306.7 L275.9,308.5 L276.6,310.3 L277.6,312.0 L278.6,313.7 L279.8,315.3 L281.1,316.7 L282.5,318.1 L284.0,319.4 L285.6,320.6 L287.3,321.8 L289.1,322.7 L290.9,323.6 L292.7,324.4 L294.6,325.1 L296.6,325.6 L298.5,326.0 L300.4,326.3 L302.4,326.4 L304.3,326.4 L306.2,326.2 L308.0,325.9 L309.9,325.5 L311.6,324.9 L313.3,324.1 L314.9,323.2 L316.4,322.0 L317.8,320.8 L319.1,319.3 L320.3,317.8 L321.4,316.1 L322.4,314.3 L323.3,312.4 L324.1,310.4 L324.7,308.4 L325.3,306.3 L325.7,304.1 L326.0,302.0 L326.1,299.8 L326.2,297.7 L326.1,295.5 L325.9,293.4 L325.5,291.4 L325.0,289.4 L324.4,287.5 L323.7,285.6 L322.8,283.9 L321.7,282.3 L320.5,280.9 Z" fill="none" stroke="#1f77b4" stroke-width="2.6" stroke-linejoin="round"/>
<path d="M317.9,323.3 L316.9,325.2 L315.9,327.1 L314.8,328.9 L313.7,330.6 L312.5,332.2 L311.2,333.8 L309.9,335.4 L308.5,336.8 L307.1,338.3 L305.6,339.6 L304.1,340.9 L302.5,342.2 L300.9,343.3 L299.2,344.5 L297.5,345.5 L295.8,346.5 L294.0,347.5 L292.2,348.4 L290.4,349.3 L288.5,350.0 L286.6,350.8 L284.7,351.5 L282.7,352.1 L280.7,352.7 L278.7,353.2 L276.7,353.6 L274.7,354.0 L272.6,354.4 L270.6,354.7 L268.5,355.0 L266.4,355.2 L264.3,355.3 L262.3,355.4 L260.2,355.5 L258.1,355.5 L256.0,355.4 L253.9,355.3 L251.8,355.2 L249.7,355.0 L247.7,354.7 L245.6,354.4 L243.6,354.1 L241.6,353.7 L239.6,353.2 L237.6,352.8 L235.6,352.2 L233.7,351.6 L231.8,351.0 L229.9,350.3 L228.0,349.6 L226.2,348.9 L224.4,348.1 L222.6,347.2 L220.9,346.3 L219.2,345.4 L217.6,344.4 L215.9,343.4 L214.4,342.3 L212.8,341.2 L211.3,340.1 L209.8,338.9 L208.3,337.7 L206.9,336.5 L205.5,335.2 L204.1,333.9 L202.8,332.5 L201.5,331.1 L200.2,329.7 L199.0,328.2 L197.7,326.8 L196.6,325.2 L195.4,323.7 L194.3,322.1 L193.2,320.5 L192.1,318.9 L191.1,317.3 L190.1,315.6 L189.1,313.9 L188.2,312.1 L187.3,310.4 L186.4,308.6 L185.5,306.8 L184.7,305.0 L183.9,303.2 L183.1,301.3 L182.4,299.4 L181.7,297.5 L181.0,295.6 L180.3,293.7 L179.7,291.8 L179.1,289.8 L178.5,287.8 L178.0,285.8 L177.4,283.8 L176.9,281.8 L176.5,279.8 L176.0,277.8 L175.6,275.7 L175.2,273.7 L174.8,271.6 L174.5,269.5 L174.2,267.5 L173.9,265.4 L173.6,263.3 L173.4,261.2 L173.1,259.1 L172.9,257.0 L172.8,254.9 L172.6,252.8 L172.5,250.7 L172.4,248.6 L172.4,246.5 L172.3,244.4 L172.3,242.3 L172.3,240.2 L172.4,238.1 L172.5,236.1 L172.6,234.0 L172.7,231.9 L172.9,229.9 L173.1,227.8 L173.4,225.8 L173.7,223.8 L174.0,221.8 L174.3,219.8 L174.7,217.9 L175.2,215.9 L175.6,214.0 L176.1,212.1 L176.7,210.2 L177.3,208.3 L177.9,206.5 L178.6,204.6 L179.3,202.8 L180.0,201.1 L180.9,199.3 L181.7,197.6 L182.6,195.9 L183.5,194.2 L184.5,192.6 L185.5,191.0 L186.6,189.4 L187.8,187.9 L188.9,186.4 L190.2,184.9 L191.4,183.5 L192.8,182.1 L194.1,180.8 L195.5,179.5 L197.0,178.2 L198.5,177.0 L200.0,175.8 L201.6,174.7 L203.2,173.7 L204.9,172.7 L206.6,171.8 L208.4,170.9 L210.2,170.1 L212.0,169.3 L213.9,168.6 L215.8,168.0 L217.8,167.4 L219.7,167.0 L221.8,166.6 L223.8,166.2 L225.9,166.0 L228.1,165.8 L230.2,165.7 L232.4,165.6 L234.7,165.7 L236.9,165.8 L239.2,166.1 L241.5,166.4 L243.9,166.8" fill="none" stroke="#1f77b4" stroke-width="2.6" stroke-linejoin="round"/>
<ellipse cx="243.1" cy="180.0" rx="13.5" ry="13.5" fill="none" stroke="#1f77b4" stroke-width="2.6"/>
<path d="M225.8,195.0 L224.3,196.1 L223.0,197.3 L221.8,198.6 L220.7,200.1 L219.7,201.7 L218.7,203.4 L217.9,205.1 L217.1,207.0 L216.3,208.9 L215.6,210.8 L215.0,212.8 L214.3,214.8 L213.7,216.8 L213.1,218.8 L212.6,220.8 L212.1,222.8 L211.8,224.9 L211.5,226.9 L211.4,228.9 L211.4,230.8 L211.5,232.8 L211.8,234.7 L212.3,236.5 L212.9,238.3 L213.8,240.0 L214.8,241.6 L216.0,243.1 L217.3,244.5 L218.8,245.7 L220.3,246.8 L222.0,247.8 L223.8,248.5 L225.5,249.1 L227.4,249.5 L229.2,249.7 L231.1,249.7 L233.0,249.5 L234.9,249.2 L236.8,248.7 L238.7,248.1 L240.6,247.3 L242.4,246.4 L244.2,245.4 L246.0,244.3 L247.7,243.0 L249.3,241.6 L250.9,240.2 L252.4,238.6 L253.8,237.0 L255.1,235.3 L256.3,233.5 L257.3,231.7 L258.3,229.8 L259.1,227.8 L259.8,225.9 L260.4,223.9 L260.8,221.9 L261.0,219.8 L261.1,217.8 L260.9,215.7 L260.6,213.7 L260.2,211.7 L259.5,209.7 L258.8,207.8 L257.8,205.9 L256.8,204.1 L255.6,202.4 L254.3,200.8 L252.9,199.3 L251.4,197.9 L249.8,196.6 L248.1,195.4 L246.3,194.4 L244.5,193.6 L242.6,192.9 L240.6,192.5 L238.6,192.2 L236.7,192.1 L234.7,192.1 L232.7,192.4 L230.9,192.8 L229.0,193.3 L227.3,194.1 L225.8,195.0 Z" fill="none" stroke="#1f77b4" stroke-width="2.6" stroke-linejoin="round"/>
<ellipse cx="204.3" cy="248.8" rx="26.8" ry="29.1" fill="none" stroke="#1f77b4" stroke-width="2.6"/>
<path d="M159.3,590.5 L159.5,592.5 L159.7,594.5 L159.9,596.5 L160.2,598.5 L160.6,600.4 L161.0,602.4 L161.4,604.3 L161.9,606.2 L162.5,608.2 L163.1,610.0 L163.7,611.9 L164.4,613.8 L165.1,615.6 L165.9,617.4 L166.7,619.2 L167.6,621.0 L168.5,622.7 L169.4,624.4 L170.4,626.1 L171.4,627.8 L172.5,629.4 L173.6,631.1 L174.7,632.7 L175.9,634.2 L177.1,635.8 L178.4,637.3 L179.7,638.8 L181.0,640.3 L182.3,641.7 L183.7,643.1 L185.1,644.4 L186.6,645.8 L188.0,647.1 L189.6,648.3 L191.1,649.6 L192.7,650.8 L194.3,651.9 L195.9,653.1 L197.5,654.2 L199.2,655.2 L200.9,656.2 L202.6,657.2 L204.4,658.2 L206.1,659.1 L207.9,660.0 L209.7,660.8 L211.6,661.7 L213.4,662.5 L215.2,663.3 L217.1,664.1 L219.0,664.8 L220.9,665.6 L222.8,666.3 L224.7,667.0 L226.6,667.7 L228.5,668.4 L230.4,669.1 L232.3,669.8 L234.3,670.5 L236.2,671.2 L238.1,671.8 L240.1,672.5 L242.0,673.1 L244.0,673.7 L245.9,674.2 L247.9,674.8 L249.8,675.3 L251.8,675.8 L253.8,676.3 L255.8,676.7 L257.8,677.1 L259.8,677.5 L261.8,677.8 L263.8,678.1 L265.8,678.4 L267.8,678.6 L269.8,678.8 L271.8,678.9 L273.9,679.0 L275.9,679.1 L277.9,679.1 L279.9,679.1 L281.9,679.0 L283.9,678.9 L285.9,678.7 L287.9,678.6 L289.9,678.3 L291.9,678.1 L293.9,677.8 L295.8,677.4 L297.7,677.0 L299.7,676.6 L301.6,676.1 L303.5,675.6 L305.3,675.0 L307.2,674.4 L309.0,673.8 L310.8,673.1 L312.6,672.3 L314.4,671.6 L316.1,670.7 L317.8,669.9 L319.5,669.0 L321.2,668.0 L322.8,667.0 L324.4,666.0 L326.0,664.9 L327.5,663.7 L329.0,662.5 L330.5,661.3 L331.9,660.0 L333.3,658.7 L334.7,657.3 L336.0,655.9 L337.3,654.5 L338.5,653.0 L339.7,651.4 L340.8,649.8 L341.9,648.2 L343.0,646.5 L344.1,644.8 L345.1,643.0 L346.0,641.3 L346.9,639.5 L347.8,637.6 L348.6,635.7 L349.4,633.9 L350.2,631.9 L350.9,630.0 L351.6,628.0 L352.3,626.0 L352.9,624.0 L353.5,622.0 L354.0,620.0 L354.5,617.9 L355.0,615.9 L355.4,613.8 L355.8,611.7 L356.1,609.6 L356.5,607.5 L356.7,605.4 L357.0,603.3 L357.2,601.3 L357.4,599.2 L357.5,597.1 L357.6,595.0 L357.7,592.9 L357.7,590.8 L357.7,588.8 L357.7,586.7 L357.6,584.6 L357.5,582.6 L357.4,580.5 L357.2,578.5 L357.0,576.5 L356.7,574.5 L356.4,572.5 L356.1,570.5 L355.7,568.5 L355.3,566.5 L354.9,564.6 L354.4,562.6 L353.9,560.7 L353.4,558.8 L352.8,556.9 L352.2,555.0 L351.5,553.2 L350.9,551.4 L350.1,549.5 L349.4,547.7 L348.6,546.0 L347.7,544.2 L346.9,542.5 L346.0,540.7 L345.0,539.0 L344.0,537.4 L343.0,535.7 L342.0,534.1 L340.9,532.5 L339.7,530.9 L338.6,529.4 L337.4,527.9 L336.1,526.4 L334.8,524.9 L333.5,523.5 L332.2,522.1 L330.8,520.7 L329.3,519.4 L327.9,518.1 L326.4,516.8 L324.8,515.6 L323.2,514.4 L321.6,513.2 L320.0,512.1 L318.3,511.0 L316.5,509.9 L314.8,508.9 L313.0,507.9 L311.2,506.9 L309.4,506.0 L307.5,505.1 L305.6,504.3 L303.7,503.5 L301.8,502.7 L299.9,502.0 L298.0,501.3 L296.0,500.7 L294.0,500.1 L292.1,499.5 L290.1,499.0 L288.1,498.6 L286.1,498.1 L284.1,497.8 L282.1,497.4 L280.1,497.2 L278.1,496.9 L276.2,496.7 L274.2,496.6 L272.2,496.5 L270.2,496.4 L268.3,496.4 L266.3,496.4 L264.4,496.5 L262.4,496.6 L260.5,496.8 L258.5,496.9 L256.6,497.2 L254.7,497.4 L252.7,497.7 L250.8,498.0 L248.9,498.3 L247.0,498.7 L245.0,499.1 L243.1,499.5 L241.2,499.9 L239.3,500.4 L237.4,500.9 L235.5,501.4 L233.5,501.9 L231.6,502.4 L229.7,503.0 L227.8,503.6 L225.9,504.2 L224.0,504.8 L222.1,505.4 L220.2,506.1 L218.3,506.8 L216.5,507.5 L214.6,508.2 L212.8,509.0 L211.0,509.8 L209.1,510.6 L207.3,511.4 L205.6,512.3 L203.8,513.2 L202.1,514.1 L200.3,515.1 L198.6,516.0 L196.9,517.1 L195.3,518.1 L193.7,519.2 L192.0,520.3 L190.5,521.4 L188.9,522.6 L187.4,523.8 L185.9,525.1 L184.4,526.4 L183.0,527.7 L181.6,529.0 L180.2,530.4 L178.9,531.9 L177.6,533.4 L176.4,534.9 L175.2,536.4 L174.0,538.0 L172.9,539.7 L171.8,541.3 L170.7,543.1 L169.7,544.8 L168.7,546.6 L167.8,548.4 L167.0,550.3 L166.1,552.1 L165.3,554.0 L164.6,556.0 L163.9,557.9 L163.2,559.9 L162.6,561.9 L162.1,563.9 L161.6,565.9 L161.1,567.9 L160.7,569.9 L160.3,572.0 L160.0,574.0 L159.8,576.1 L159.5,578.2 L159.4,580.2 L159.3,582.3 L159.2,584.3 L159.2,586.4 L159.2,588.4 L159.3,590.5 Z" fill="none" stroke="#1f77b4" stroke-width="2.6" stroke-linejoin="round"/>
<path d="M188.9,591.0 L188.7,593.1 L188.6,595.1 L188.5,597.2 L188.5,599.2 L188.6,601.2 L188.7,603.2 L188.9,605.2 L189.1,607.2 L189.4,609.2 L189.8,611.1 L190.2,613.0 L190.7,614.9 L191.3,616.8 L191.9,618.7 L192.5,620.5 L193.2,622.3 L194.0,624.1 L194.8,625.9 L195.7,627.6 L196.6,629.4 L197.5,631.1 L198.5,632.7 L199.6,634.4 L200.7,636.0 L201.8,637.6 L203.0,639.2 L204.2,640.7 L205.5,642.2 L206.8,643.7 L208.1,645.1 L209.5,646.5 L210.9,647.9 L212.4,649.2 L213.9,650.5 L215.4,651.8 L216.9,653.0 L218.5,654.2 L220.1,655.4 L221.8,656.5 L223.5,657.6 L225.1,658.7 L226.9,659.7 L228.6,660.6 L230.4,661.5 L232.2,662.4 L234.0,663.3 L235.8,664.1 L237.7,664.8 L239.5,665.5 L241.4,666.2 L243.3,666.8 L245.3,667.4 L247.2,667.9 L249.1,668.4 L251.1,668.8 L253.1,669.2 L255.0,669.5 L257.0,669.7 L259.0,670.0 L261.0,670.1 L263.0,670.2 L265.0,670.3 L267.0,670.3 L269.1,670.3 L271.1,670.1 L273.1,670.0 L275.1,669.8 L277.1,669.5 L279.1,669.2 L281.1,668.8 L283.1,668.4 L285.1,667.9 L287.1,667.4 L289.0,666.8 L291.0,666.2 L292.9,665.5 L294.8,664.7 L296.7,664.0 L298.6,663.1 L300.4,662.3 L302.2,661.3 L304.1,660.4 L305.8,659.4 L307.6,658.3 L309.3,657.2 L311.0,656.1 L312.7,654.9 L314.3,653.6 L315.9,652.4 L317.5,651.0 L319.0,649.7 L320.5,648.3 L321.9,646.8 L323.3,645.4 L324.7,643.8 L326.0,642.3 L327.3,640.7 L328.5,639.0 L329.7,637.4 L330.8,635.7 L331.9,633.9 L332.9,632.1 L333.9,630.3 L334.8,628.5 L335.7,626.6 L336.5,624.7 L337.2,622.7 L337.9,620.8 L338.5,618.8 L339.1,616.8 L339.6,614.8 L340.0,612.8 L340.3,610.8 L340.6,608.7 L340.8,606.7 L341.0,604.7 L341.0,602.7 L341.0,600.7 L341.0,598.7 L340.8,596.7 L340.6,594.7 L340.2,592.8 L339.8,590.8 L339.3,589.0 L338.8,587.1 L338.1,585.3 L337.4,583.5 L336.6,581.7 L335.6,580.0 L334.6,578.3 L333.5,576.7 L332.3,575.1 L331.0,573.6 L329.6,572.2 L328.2,570.8 L326.7,569.4 L325.2,568.1 L323.8,566.9 L322.5,565.7 L321.4,564.5 L320.5,563.3 L319.9,562.2 L319.7,561.1 L319.8,560.0 L320.2,558.9 L320.8,557.8 L321.6,556.6 L322.4,555.3 L323.1,553.9 L323.7,552.4 L324.2,550.7 L324.5,549.0 L324.7,547.1 L324.8,545.2 L324.7,543.2 L324.6,541.2 L324.3,539.2 L324.0,537.1 L323.5,535.1 L323.0,533.0 L322.4,531.0 L321.7,529.1 L320.9,527.2 L320.1,525.3 L319.2,523.5 L318.2,521.7 L317.1,520.0 L316.0,518.3 L314.9,516.7 L313.6,515.1 L312.3,513.5 L311.0,512.1 L309.6,510.6 L308.1,509.3 L306.6,507.9 L305.1,506.7 L303.5,505.5 L301.8,504.3 L300.1,503.2 L298.4,502.2 L296.7,501.2 L294.9,500.3 L293.0,499.5 L291.2,498.7 L289.3,498.0 L287.4,497.3 L285.5,496.7 L283.5,496.2 L281.6,495.7 L279.6,495.3 L277.6,495.0 L275.6,494.7 L273.5,494.5 L271.5,494.4 L269.5,494.3 L267.4,494.3 L265.4,494.4 L263.3,494.6 L261.3,494.8 L259.3,495.1 L257.2,495.5 L255.2,495.9 L253.2,496.4 L251.2,496.9 L249.2,497.5 L247.2,498.2 L245.3,498.9 L243.4,499.7 L241.4,500.5 L239.6,501.4 L237.7,502.3 L235.9,503.3 L234.1,504.3 L232.3,505.4 L230.6,506.5 L228.9,507.7 L227.2,508.9 L225.6,510.1 L224.0,511.4 L222.5,512.7 L221.0,514.0 L219.6,515.4 L218.2,516.8 L216.8,518.2 L215.6,519.7 L214.3,521.2 L213.2,522.7 L212.0,524.2 L211.0,525.8 L210.0,527.4 L209.1,529.0 L208.2,530.6 L207.3,532.3 L206.5,534.0 L205.7,535.7 L205.0,537.4 L204.3,539.1 L203.6,540.9 L202.9,542.7 L202.3,544.5 L201.6,546.3 L201.0,548.2 L200.4,550.1 L199.8,552.0 L199.2,553.9 L198.5,555.8 L197.9,557.8 L197.2,559.8 L196.6,561.8 L195.9,563.8 L195.2,565.9 L194.6,568.0 L193.9,570.0 L193.2,572.1 L192.6,574.2 L192.0,576.3 L191.4,578.4 L190.9,580.5 L190.4,582.6 L189.9,584.7 L189.5,586.8 L189.2,588.9 L188.9,591.0 Z" fill="none" stroke="#1f77b4" stroke-width="2.6" stroke-linejoin="round"/>
<path d="M198.7,549.6 L199.5,547.7 L200.3,545.9 L201.2,544.1 L202.2,542.4 L203.3,540.7 L204.5,539.0 L205.8,537.3 L207.1,535.7 L208.5,534.1 L210.0,532.6 L211.6,531.1 L213.2,529.6 L214.9,528.3 L216.6,526.9 L218.4,525.6 L220.3,524.4 L222.1,523.2 L224.0,522.1 L226.0,521.0 L228.0,520.0 L229.9,519.1 L232.0,518.2 L234.0,517.5 L236.0,516.8 L238.1,516.1 L240.1,515.6 L242.2,515.1 L244.3,514.7 L246.3,514.4 L248.3,514.1 L250.4,514.0 L252.4,513.9 L254.4,514.0 L256.4,514.1 L258.4,514.3 L260.3,514.6 L262.3,515.0 L264.2,515.4 L266.0,516.0 L267.9,516.7 L269.7,517.4 L271.5,518.3 L273.2,519.2 L274.9,520.2 L276.6,521.3 L278.2,522.4 L279.7,523.7 L281.3,524.9 L282.7,526.3 L284.1,527.7 L285.5,529.2 L286.8,530.7 L288.1,532.3 L289.3,533.9 L290.4,535.6 L291.5,537.3 L292.5,539.0 L293.4,540.8 L294.3,542.6 L295.1,544.5 L295.8,546.3 L296.5,548.2 L297.1,550.1 L297.6,552.0 L298.0,554.0 L298.3,555.9 L298.6,557.9 L298.7,559.8 L298.8,561.8 L298.8,563.7 L298.7,565.7 L298.5,567.6 L298.2,569.5 L297.8,571.5 L297.3,573.3 L296.7,575.2 L296.1,577.1 L295.4,578.9 L294.5,580.7 L293.7,582.5 L292.7,584.2 L291.7,585.9 L290.6,587.6 L289.4,589.3 L288.2,590.9 L286.9,592.5 L285.6,594.0 L284.2,595.5 L282.7,596.9 L281.2,598.3 L279.7,599.6 L278.1,600.9 L276.5,602.2 L274.8,603.3 L273.1,604.5 L271.3,605.5 L269.6,606.5 L267.8,607.4 L265.9,608.3 L264.1,609.1 L262.2,609.8 L260.3,610.5 L258.4,611.1 L256.5,611.6 L254.6,612.0 L252.7,612.3 L250.7,612.6 L248.8,612.7 L246.8,612.8 L244.9,612.8 L243.0,612.7 L241.1,612.5 L239.1,612.2 L237.2,611.8 L235.4,611.3 L233.5,610.8 L231.6,610.1 L229.8,609.4 L228.0,608.6 L226.2,607.7 L224.5,606.7 L222.8,605.7 L221.1,604.6 L219.5,603.5 L217.9,602.2 L216.3,600.9 L214.8,599.6 L213.3,598.2 L211.9,596.7 L210.5,595.2 L209.2,593.7 L207.9,592.1 L206.7,590.5 L205.5,588.8 L204.4,587.1 L203.4,585.3 L202.4,583.6 L201.5,581.8 L200.7,579.9 L199.9,578.1 L199.2,576.2 L198.6,574.3 L198.1,572.4 L197.6,570.5 L197.3,568.6 L197.0,566.7 L196.8,564.8 L196.7,562.8 L196.7,560.9 L196.8,559.0 L197.0,557.1 L197.3,555.2 L197.7,553.3 L198.1,551.4 L198.7,549.6 Z" fill="none" stroke="#1f77b4" stroke-width="2.6" stroke-linejoin="round"/>
<path d="M264.0,585.2 L264.0,582.7 L264.1,580.2 L264.4,577.8 L264.8,575.5 L265.3,573.3 L265.9,571.2 L266.6,569.2 L267.5,567.3 L268.4,565.4 L269.5,563.7 L270.6,562.0 L271.9,560.4 L273.2,558.9 L274.6,557.5 L276.1,556.2 L277.6,555.0 L279.2,553.9 L280.9,552.8 L282.7,551.9 L284.4,551.0 L286.3,550.2 L288.1,549.6 L290.0,549.0 L291.9,548.5 L293.9,548.1 L295.9,547.8 L297.9,547.6 L299.9,547.4 L301.9,547.4 L303.9,547.5 L305.9,547.6 L307.8,547.9 L309.8,548.2 L311.8,548.6 L313.7,549.1 L315.7,549.7 L317.6,550.3 L319.5,551.1 L321.3,551.9 L323.2,552.7 L325.0,553.7 L326.8,554.7 L328.5,555.8 L330.2,556.9 L331.9,558.1 L333.5,559.3 L335.1,560.6 L336.6,562.0 L338.1,563.4 L339.5,564.8 L340.9,566.3 L342.2,567.8 L343.5,569.4 L344.7,571.0 L345.8,572.6 L346.9,574.3 L347.9,576.0 L348.8,577.7 L349.7,579.4 L350.4,581.2 L351.1,583.0 L351.7,584.8 L352.3,586.6 L352.7,588.5 L353.1,590.3 L353.4,592.2 L353.6,594.0 L353.7,595.9 L353.7,597.8 L353.7,599.7 L353.6,601.5 L353.4,603.4 L353.1,605.3 L352.8,607.2 L352.4,609.1 L352.0,611.0 L351.4,612.9 L350.9,614.7 L350.2,616.6 L349.5,618.5 L348.7,620.3 L347.9,622.1 L347.0,624.0 L346.1,625.8 L345.1,627.6 L344.0,629.4 L342.9,631.1 L341.8,632.9 L340.6,634.6 L339.3,636.3 L338.0,637.9 L336.7,639.6 L335.3,641.2 L333.9,642.8 L332.4,644.4 L330.9,645.9 L329.4,647.4 L327.8,648.9 L326.2,650.4 L324.6,651.8 L322.9,653.1 L321.2,654.5 L319.5,655.7 L317.7,657.0 L316.0,658.2 L314.2,659.4 L312.3,660.5 L310.5,661.6 L308.6,662.6 L306.7,663.6 L304.8,664.5 L302.9,665.4 L301.0,666.2 L299.1,667.0 L297.1,667.7 L295.1,668.3 L293.2,668.9 L291.2,669.5 L289.2,669.9 L287.2,670.3 L285.2,670.7 L283.2,671.0 L281.3,671.2 L279.3,671.4 L277.3,671.4 L275.3,671.5 L273.3,671.4 L271.4,671.3 L269.4,671.1 L267.5,670.8 L265.5,670.4 L263.6,670.0 L261.7,669.5 L259.8,668.9" fill="none" stroke="#1f77b4" stroke-width="2.6" stroke-linejoin="round"/>
<ellipse cx="250.0" cy="627.0" rx="33.0" ry="33.0" fill="none" stroke="#1f77b4" stroke-width="2.6"/>
<ellipse cx="229.2" cy="563.9" rx="13.0" ry="13.9" fill="none" stroke="#1f77b4" stroke-width="2.6"/>
<path d="M217.0,563.4 L216.5,561.1 L216.2,558.7 L215.9,556.4 L215.7,554.2 L215.5,551.9 L215.5,549.7 L215.6,547.5 L215.7,545.4 L215.9,543.3 L216.3,541.2 L216.7,539.2 L217.1,537.2 L217.7,535.3 L218.4,533.4 L219.1,531.6 L220.0,529.8 L220.9,528.1 L221.9,526.4 L222.9,524.8 L224.1,523.3 L225.4,521.9 L226.7,520.5 L228.1,519.2 L229.6,518.0 L231.2,516.9 L232.8,515.8 L234.5,514.8 L236.3,513.9 L238.2,513.1 L240.1,512.4 L242.1,511.7 L244.1,511.1 L246.2,510.5 L248.3,510.1 L250.5,509.6 L252.6,509.3 L254.8,509.0 L257.0,508.7 L259.3,508.5 L261.5,508.4 L263.8,508.3 L266.0,508.3" fill="none" stroke="#1f77b4" stroke-width="2.6" stroke-linejoin="round"/>
<path d="M375.0,921.5 L374.8,923.3 L374.6,925.2 L374.4,927.1 L374.2,929.0 L373.9,930.8 L373.6,932.7 L373.2,934.6 L372.8,936.5 L372.4,938.3 L371.9,940.2 L371.5,942.1 L370.9,944.0 L370.4,945.8 L369.8,947.7 L369.2,949.6 L368.5,951.4 L367.8,953.3 L367.1,955.1 L366.4,957.0 L365.6,958.8 L364.8,960.7 L363.9,962.5 L363.1,964.3 L362.2,966.1 L361.2,967.9 L360.3,969.7 L359.3,971.4 L358.3,973.2 L357.2,975.0 L356.2,976.7 L355.1,978.4 L354.0,980.1 L352.8,981.8 L351.7,983.5 L350.5,985.1 L349.2,986.8 L348.0,988.4 L346.7,990.0 L345.4,991.6 L344.1,993.2 L342.8,994.8 L341.4,996.3 L340.0,997.8 L338.6,999.3 L337.2,1000.8 L335.7,1002.2 L334.3,1003.6 L332.8,1005.0 L331.2,1006.4 L329.7,1007.8 L328.2,1009.1 L326.6,1010.4 L325.0,1011.7 L323.4,1012.9 L321.7,1014.2 L320.1,1015.3 L318.4,1016.5 L316.8,1017.6 L315.1,1018.7 L313.3,1019.8 L311.6,1020.9 L309.9,1021.9 L308.1,1022.8 L306.3,1023.8 L304.5,1024.7 L302.7,1025.6 L300.9,1026.4 L299.0,1027.2 L297.2,1028.0 L295.3,1028.7 L293.4,1029.4 L291.6,1030.1 L289.7,1030.7 L287.7,1031.3 L285.8,1031.8 L283.9,1032.3 L281.9,1032.7 L280.0,1033.2 L278.0,1033.5 L276.0,1033.9 L274.1,1034.2 L272.1,1034.5 L270.1,1034.7 L268.1,1034.9 L266.1,1035.0 L264.1,1035.2 L262.1,1035.2 L260.1,1035.3 L258.1,1035.3 L256.0,1035.3 L254.0,1035.2 L252.0,1035.1 L250.0,1035.0 L248.0,1034.8 L246.0,1034.6 L244.0,1034.4 L242.0,1034.1 L240.0,1033.8 L238.0,1033.4 L236.0,1033.0 L234.0,1032.6 L232.1,1032.2 L230.1,1031.7 L228.2,1031.2 L226.2,1030.7 L224.3,1030.1 L222.4,1029.5 L220.5,1028.8 L218.6,1028.2 L216.7,1027.5 L214.8,1026.7 L212.9,1026.0 L211.1,1025.2 L209.3,1024.4 L207.5,1023.5 L205.7,1022.6 L203.9,1021.7 L202.1,1020.8 L200.4,1019.8 L198.7,1018.8 L197.0,1017.8 L195.3,1016.7 L193.6,1015.6 L192.0,1014.5 L190.4,1013.3 L188.8,1012.2 L187.3,1011.0 L185.7,1009.7 L184.2,1008.5 L182.7,1007.2 L181.3,1005.9 L179.9,1004.6 L178.5,1003.2 L177.1,1001.8 L175.8,1000.4 L174.5,999.0 L173.2,997.5 L171.9,996.0 L170.7,994.5 L169.6,993.0 L168.4,991.4 L167.3,989.8 L166.3,988.2 L165.2,986.6 L164.2,984.9 L163.3,983.3 L162.3,981.6 L161.5,979.8 L160.6,978.1 L159.8,976.3 L159.1,974.5 L158.4,972.7 L157.7,970.9 L157.1,969.0 L156.5,967.2 L155.9,965.3 L155.4,963.3 L155.0,961.4 L154.6,959.5 L154.2,957.5 L153.9,955.5 L153.6,953.5 L153.4,951.5 L153.2,949.5 L153.0,947.4 L152.8,945.4 L152.7,943.3 L152.7,941.2 L152.6,939.2 L152.6,937.1 L152.6,935.0 L152.7,932.9 L152.8,930.8 L152.9,928.7 L153.0,926.6 L153.1,924.5 L153.3,922.4 L153.5,920.3 L153.7,918.2 L154.0,916.1 L154.2,914.0 L154.5,912.0 L154.8,909.9 L155.1,907.8 L155.4,905.8 L155.7,903.7 L156.1,901.7 L156.4,899.7 L156.8,897.6 L157.2,895.7 L157.5,893.7 L157.9,891.7 L158.3,889.8 L158.7,887.8 L159.2,885.9 L159.6,884.0 L160.1,882.1 L160.5,880.2 L161.0,878.3 L161.6,876.5 L162.1,874.6 L162.7,872.8 L163.3,871.0 L163.9,869.2 L164.6,867.4 L165.3,865.6 L166.1,863.8 L166.9,862.0 L167.7,860.2 L168.6,858.4 L169.5,856.7 L170.4,854.9 L171.4,853.2 L172.5,851.5 L173.5,849.7 L174.6,848.0 L175.8,846.4 L177.0,844.7 L178.2,843.1 L179.5,841.4 L180.8,839.9 L182.1,838.3 L183.4,836.8 L184.8,835.2 L186.3,833.8 L187.7,832.3 L189.2,830.9 L190.7,829.5 L192.2,828.2 L193.8,826.9 L195.4,825.6 L197.0,824.4 L198.6,823.3 L200.3,822.1 L201.9,821.1 L203.6,820.0 L205.3,819.0 L207.1,818.1 L208.8,817.1 L210.6,816.3 L212.4,815.4 L214.2,814.7 L216.0,813.9 L217.9,813.2 L219.7,812.5 L221.6,811.9 L223.5,811.3 L225.4,810.8 L227.3,810.3 L229.2,809.8 L231.1,809.4 L233.0,809.0 L235.0,808.7 L236.9,808.4 L238.9,808.1 L240.9,807.9 L242.8,807.7 L244.8,807.5 L246.8,807.4 L248.8,807.3 L250.8,807.3 L252.8,807.3 L254.8,807.3 L256.7,807.4 L258.7,807.5 L260.7,807.6 L262.7,807.8 L264.7,808.0 L266.7,808.3 L268.7,808.6 L270.7,808.9 L272.7,809.3 L274.6,809.7 L276.6,810.1 L278.6,810.5 L280.5,811.0 L282.5,811.6 L284.4,812.1 L286.3,812.7 L288.2,813.4 L290.1,814.1 L292.0,814.8 L293.9,815.5 L295.8,816.3 L297.6,817.1 L299.5,817.9 L301.3,818.7 L303.1,819.6 L304.9,820.6 L306.7,821.5 L308.4,822.5 L310.2,823.5 L311.9,824.6 L313.6,825.7 L315.3,826.8 L316.9,827.9 L318.6,829.1 L320.2,830.3 L321.7,831.5 L323.3,832.8 L324.8,834.1 L326.4,835.4 L327.8,836.8 L329.3,838.1 L330.7,839.6 L332.1,841.0 L333.5,842.4 L334.8,843.9 L336.2,845.5 L337.4,847.0 L338.7,848.6 L339.9,850.1 L341.1,851.8 L342.3,853.4 L343.4,855.1 L344.5,856.7 L345.6,858.4 L346.7,860.2 L347.7,861.9 L348.7,863.6 L349.7,865.4 L350.6,867.2 L351.5,869.0 L352.4,870.9 L353.2,872.7 L354.0,874.6 L354.8,876.4 L355.6,878.3 L356.3,880.2 L357.0,882.1 L357.7,884.1 L358.3,886.0 L358.9,887.9 L359.5,889.9 L360.0,891.9 L360.5,893.8 L361.0,895.8 L361.5,897.8 L361.9,899.8 L362.3,901.8 L362.6,903.8 L363.0,905.8 L363.3,907.9 L363.5,909.9 L363.8,911.9 L364.0,913.9 L364.1,916.0 L364.3,918.0 L364.4,920.0 L364.5,922.1 L364.5,924.1 L364.5,926.1 L364.5,928.1 L364.4,930.2 L364.4,932.2 L364.2,934.2 L364.1,936.2 L363.9,938.2 L363.7,940.2 L363.5,942.2 L363.2,944.2 L362.9,946.1 L362.5,948.1 L362.1,950.1 L361.7,952.0 L361.3,954.0 L360.8,955.9 L360.3,957.8 L359.8,959.7 L359.2,961.6 L358.6,963.5 L358.0,965.3 L357.3,967.2 L356.6,969.0 L355.8,970.8 L355.1,972.6 L354.3,974.4 L353.4,976.1 L352.6,977.9 L351.6,979.6 L350.7,981.3 L349.7,983.0 L348.7,984.7 L347.7,986.3 L346.6,987.9 L345.6,989.5 L344.4,991.1 L343.3,992.6 L342.1,994.1 L340.9,995.6 L339.6,997.1 L338.3,998.5 L337.0,999.9 L335.7,1001.3 L334.3,1002.7 L333.0,1004.0 L331.5,1005.3 L330.1,1006.6 L328.6,1007.8 L327.1,1009.0 L325.6,1010.2 L324.0,1011.3 L322.4,1012.4 L320.8,1013.5 L319.2,1014.5 L317.5,1015.5 L315.8,1016.5 L314.1,1017.4 L312.3,1018.3 L310.6,1019.2 L308.8,1020.0 L306.9,1020.8 L305.1,1021.5 L303.2,1022.2 L301.3,1022.8 L299.4,1023.4 L297.5,1024.0 L295.5,1024.5 L293.5,1025.0 L291.5,1025.5 L289.5,1025.9 L287.4,1026.2 L285.4,1026.5 L283.3,1026.8 L281.2,1027.1 L279.1,1027.3 L277.0,1027.4 L274.9,1027.6 L272.7,1027.6 L270.6,1027.7 L268.5,1027.7 L266.3,1027.7 L264.2,1027.6 L262.0,1027.5 L259.9,1027.4 L257.7,1027.2 L255.6,1027.0 L253.4,1026.7 L251.3,1026.5 L249.2,1026.1 L247.1,1025.8 L245.0,1025.4 L242.9,1025.0 L240.8,1024.6 L238.7,1024.1 L236.6,1023.6 L234.6,1023.0 L232.6,1022.5 L230.6,1021.9 L228.6,1021.2 L226.7,1020.6 L224.7,1019.9 L222.8,1019.1 L220.9,1018.4 L219.1,1017.6 L217.2,1016.8 L215.4,1015.9 L213.7,1015.1 L212.0,1014.2 L210.3,1013.3 L208.6,1012.3 L207.0,1011.3 L205.4,1010.3 L203.8,1009.3 L202.3,1008.2 L200.8,1007.1 L199.4,1005.9 L198.0,1004.8 L196.7,1003.5 L195.4,1002.3 L194.1,1001.0 L192.9,999.7 L191.7,998.3 L190.6,996.9 L189.5,995.4 L188.5,993.9 L187.5,992.3 L186.6,990.8 L185.7,989.1 L184.8,987.4 L184.0,985.7 L183.3,983.9 L182.5,982.2 L181.8,980.3 L181.1,978.5 L180.4,976.6 L179.8,974.7 L179.1,972.8 L178.4,970.9 L177.8,969.0 L177.1,967.1 L176.5,965.1 L175.8,963.2 L175.1,961.2 L174.4,959.3 L173.6,957.4 L172.9,955.5 L172.1,953.5 L171.3,951.6 L170.5,949.7 L169.7,947.8 L168.8,945.9 L168.0,944.0 L167.2,942.1 L166.4,940.3 L165.6,938.4 L164.9,936.5 L164.1,934.6 L163.4,932.7 L162.7,930.8 L162.1,928.9 L161.5,927.0 L160.9,925.1 L160.4,923.2 L160.0,921.2 L159.6,919.3 L159.3,917.4 L159.0,915.4 L158.9,913.4 L158.8,911.5 L158.7,909.5 L158.7,907.5 L158.8,905.6 L159.0,903.6 L159.3,901.7 L159.6,899.8 L159.9,897.8 L160.4,895.9 L160.9,894.1 L161.5,892.2 L162.1,890.4 L162.9,888.6 L163.7,886.9 L164.5,885.2 L165.4,883.5 L166.4,881.9 L167.5,880.4 L168.6,878.9 L169.8,877.4 L171.1,876.0 L172.4,874.7 L173.8,873.4 L175.3,872.2 L176.8,871.1 L178.4,870.1 L180.1,869.1 L181.8,868.2 L183.6,867.4 L185.5,866.7 L187.4,866.0 L189.4,865.5 L191.5,865.1 L193.6,864.8 L195.8,864.5 L198.0,864.4 L200.3,864.4 L202.7,864.5 L205.2,864.7 L207.7,865.1" fill="none" stroke="#1f77b4" stroke-width="2.6" stroke-linejoin="round"/>
<path d="M206.0,865.6 L205.9,863.5 L206.0,861.4 L206.1,859.4 L206.3,857.4 L206.6,855.4 L207.0,853.5 L207.6,851.6 L208.2,849.8 L208.9,848.0 L209.7,846.2 L210.5,844.5 L211.5,842.8 L212.5,841.2 L213.6,839.6 L214.8,838.1 L216.1,836.6 L217.4,835.2 L218.8,833.8 L220.2,832.4 L221.7,831.1 L223.3,829.8 L224.9,828.6 L226.6,827.5 L228.3,826.3 L230.1,825.3 L231.9,824.3 L233.7,823.3 L235.6,822.4 L237.5,821.5 L239.4,820.7 L241.4,819.9 L243.4,819.2 L245.4,818.6 L247.5,818.0 L249.5,817.4 L251.6,816.9 L253.7,816.5 L255.8,816.1 L257.9,815.8 L260.0,815.5 L262.1,815.3 L264.2,815.1 L266.2,815.0 L268.3,815.0 L270.4,815.0 L272.4,815.0 L274.5,815.2 L276.5,815.4 L278.5,815.6 L280.5,815.9 L282.5,816.3 L284.4,816.7 L286.4,817.1 L288.3,817.7 L290.2,818.2 L292.1,818.8 L293.9,819.5 L295.8,820.2 L297.6,821.0 L299.4,821.8 L301.1,822.6 L302.9,823.5 L304.6,824.5 L306.3,825.5 L307.9,826.5 L309.6,827.6 L311.2,828.7 L312.8,829.8 L314.3,831.0 L315.8,832.3 L317.3,833.5 L318.8,834.8 L320.2,836.2 L321.6,837.6 L323.0,839.0 L324.3,840.4 L325.6,841.9 L326.9,843.4 L328.2,844.9 L329.4,846.5 L330.5,848.1 L331.7,849.7 L332.8,851.4 L333.8,853.0 L334.8,854.7 L335.8,856.5 L336.8,858.2 L337.7,860.0 L338.5,861.8 L339.3,863.6 L340.1,865.4 L340.9,867.3 L341.6,869.2 L342.3,871.1 L342.9,872.9 L343.5,874.9 L344.2,876.8 L344.8,878.7 L345.4,880.6 L346.0,882.5 L346.5,884.5 L347.1,886.4 L347.7,888.3 L348.4,890.3 L349.0,892.2 L349.6,894.1 L350.3,896.0 L350.9,897.9 L351.6,899.8 L352.3,901.7 L352.9,903.6 L353.6,905.5 L354.2,907.5 L354.9,909.4 L355.5,911.3 L356.1,913.3 L356.7,915.2 L357.3,917.2 L357.8,919.1 L358.3,921.1 L358.8,923.1 L359.3,925.0 L359.7,927.0 L360.1,929.0 L360.4,931.0 L360.7,932.9 L361.0,934.9 L361.2,936.9 L361.4,938.9 L361.5,940.9 L361.6,942.8 L361.6,944.8 L361.6,946.8 L361.5,948.7 L361.3,950.7 L361.1,952.7 L360.8,954.6 L360.4,956.6 L360.0,958.5 L359.5,960.5 L358.9,962.4 L358.3,964.3 L357.6,966.2 L356.8,968.1 L356.0,969.9 L355.1,971.7 L354.1,973.5 L353.1,975.3 L352.1,977.0 L351.0,978.7 L349.8,980.4 L348.6,982.0 L347.3,983.6 L346.0,985.1 L344.6,986.6 L343.1,988.0 L341.7,989.4 L340.1,990.7 L338.6,992.0 L337.0,993.2 L335.3,994.3 L333.6,995.4 L331.9,996.4 L330.1,997.4 L328.3,998.2 L326.5,999.0 L324.6,999.7 L322.7,1000.3 L320.7,1000.9 L318.7,1001.3 L316.7,1001.7 L314.7,1001.9 L312.6,1002.1 L310.5,1002.2 L308.4,1002.2 L306.3,1002.0 L304.1,1001.8 L301.9,1001.5 L299.7,1001.0" fill="none" stroke="#1f77b4" stroke-width="2.6" stroke-linejoin="round"/>
<path d="M186.0,919.0 L185.5,921.4 L185.2,923.7 L184.9,926.0 L184.7,928.2 L184.6,930.5 L184.5,932.7 L184.6,934.9 L184.7,937.0 L184.8,939.1 L185.1,941.2 L185.4,943.2 L185.8,945.2 L186.2,947.2 L186.7,949.1 L187.3,951.0 L187.9,952.9 L188.6,954.7 L189.3,956.5 L190.1,958.3 L191.0,960.0 L191.9,961.7 L192.9,963.3 L193.9,964.9 L194.9,966.5 L196.1,968.1 L197.2,969.6 L198.4,971.0 L199.7,972.5 L201.0,973.8 L202.3,975.2 L203.7,976.5 L205.2,977.8 L206.6,979.0 L208.1,980.2 L209.7,981.4 L211.2,982.5 L212.8,983.5 L214.5,984.6 L216.1,985.6 L217.8,986.5 L219.6,987.4 L221.3,988.3 L223.1,989.2 L224.9,989.9 L226.7,990.7 L228.6,991.4 L230.5,992.1 L232.4,992.7 L234.3,993.3 L236.2,993.9 L238.2,994.4 L240.1,994.9 L242.1,995.3 L244.1,995.7 L246.1,996.0 L248.2,996.4 L250.2,996.6 L252.2,996.9 L254.3,997.1 L256.3,997.2 L258.4,997.3 L260.5,997.4 L262.5,997.4 L264.6,997.4 L266.7,997.4 L268.8,997.3 L270.8,997.2 L272.9,997.0 L275.0,996.8 L277.1,996.6 L279.1,996.3 L281.2,996.0 L283.2,995.6 L285.3,995.2 L287.3,994.8 L289.3,994.3 L291.3,993.8 L293.3,993.2 L295.3,992.6 L297.3,992.0 L299.2,991.3 L301.2,990.6 L303.1,989.9 L305.0,989.1 L306.9,988.3 L308.8,987.5 L310.6,986.6 L312.5,985.7 L314.3,984.8 L316.1,983.8 L317.8,982.8 L319.6,981.8 L321.3,980.7 L323.0,979.6 L324.7,978.4 L326.3,977.3 L327.9,976.1 L329.5,974.8 L331.0,973.6 L332.5,972.3 L334.0,971.0 L335.5,969.6 L336.9,968.2 L338.3,966.8 L339.6,965.4 L340.9,963.9 L342.2,962.4 L343.4,960.9 L344.6,959.3 L345.8,957.7 L346.9,956.1 L348.0,954.5 L349.0,952.8 L350.0,951.1 L350.9,949.4 L351.8,947.7 L352.7,945.9 L353.5,944.1 L354.2,942.3 L354.9,940.5 L355.6,938.6 L356.2,936.7 L356.7,934.8 L357.2,932.9 L357.6,930.9 L358.0,929.0 L358.4,927.0 L358.6,924.9 L358.8,922.9 L359.0,920.8 L359.1,918.8 L359.1,916.7 L359.1,914.5 L359.0,912.4 L358.9,910.2 L358.7,908.0 L358.4,905.8 L358.0,903.6 L357.6,901.4 L357.1,899.1" fill="none" stroke="#1f77b4" stroke-width="2.6" stroke-linejoin="round"/>
<ellipse cx="205.0" cy="939.0" rx="23.5" ry="24.0" fill="none" stroke="#1f77b4" stroke-width="2.6"/>
<path d="M279.0,882.9 L279.8,881.2 L280.8,879.7 L282.0,878.2 L283.4,876.9 L284.8,875.6 L286.4,874.4 L288.2,873.3 L290.0,872.3 L291.9,871.5 L293.9,870.7 L296.0,870.0 L298.1,869.4 L300.3,868.9 L302.5,868.5 L304.8,868.2 L307.0,868.1 L309.3,868.0 L311.5,868.0 L313.8,868.2 L316.0,868.5 L318.1,868.9 L320.2,869.4 L322.3,870.0 L324.2,870.8 L326.1,871.6 L327.9,872.6 L329.5,873.7 L331.1,874.9 L332.6,876.2 L333.9,877.6 L335.2,879.1 L336.3,880.6 L337.3,882.2 L338.2,883.9 L338.9,885.6 L339.6,887.4 L340.1,889.1 L340.4,890.9 L340.7,892.8 L340.8,894.6 L340.7,896.4 L340.5,898.2 L340.2,900.0 L339.7,901.8 L339.1,903.5 L338.3,905.2 L337.4,906.8 L336.4,908.4 L335.3,910.0 L334.0,911.5 L332.7,912.9 L331.3,914.3 L329.8,915.6 L328.2,916.8 L326.5,918.0 L324.8,919.0 L323.0,920.0 L321.1,920.8 L319.3,921.6 L317.3,922.3 L315.4,922.8 L313.4,923.2 L311.5,923.5 L309.5,923.7 L307.5,923.8 L305.5,923.7 L303.5,923.5 L301.6,923.1 L299.7,922.6 L297.8,921.9 L296.0,921.0 L294.2,920.1 L292.4,918.9 L290.8,917.6 L289.2,916.3 L287.6,914.8 L286.2,913.2 L284.8,911.5 L283.6,909.7 L282.4,907.9 L281.3,906.0 L280.4,904.0 L279.5,902.1 L278.8,900.1 L278.2,898.1 L277.8,896.1 L277.5,894.1 L277.3,892.1 L277.3,890.1 L277.5,888.2 L277.8,886.4 L278.3,884.6 L279.0,882.9 Z" fill="none" stroke="#1f77b4" stroke-width="2.6" stroke-linejoin="round"/>
<ellipse cx="295.5" cy="974.0" rx="27.0" ry="27.5" fill="none" stroke="#1f77b4" stroke-width="2.6"/>
<ellipse cx="250.0" cy="1237.5" rx="103.3" ry="98.8" fill="none" stroke="#1f77b4" stroke-width="2.6"/>
<ellipse cx="235.0" cy="1267.0" rx="68.0" ry="70.0" fill="none" stroke="#1f77b4" stroke-width="2.6"/>
<path d="M203.4,1270.9 L203.3,1268.8 L203.3,1266.7 L203.2,1264.6 L203.2,1262.5 L203.2,1260.4 L203.2,1258.3 L203.2,1256.1 L203.3,1254.0 L203.3,1251.9 L203.4,1249.7 L203.5,1247.6 L203.6,1245.5 L203.8,1243.3 L204.0,1241.2 L204.2,1239.1 L204.4,1237.0 L204.6,1234.8 L204.9,1232.7 L205.2,1230.6 L205.5,1228.5 L205.9,1226.5 L206.2,1224.4 L206.6,1222.3 L207.1,1220.3 L207.5,1218.2 L208.0,1216.2 L208.6,1214.2 L209.1,1212.2 L209.7,1210.3 L210.3,1208.3 L211.0,1206.4 L211.6,1204.5 L212.4,1202.6 L213.1,1200.8 L213.9,1198.9 L214.7,1197.1 L215.6,1195.3 L216.5,1193.6 L217.4,1191.9 L218.4,1190.2 L219.4,1188.5 L220.4,1186.9 L221.5,1185.3 L222.6,1183.7 L223.8,1182.2 L225.0,1180.7 L226.2,1179.2 L227.5,1177.8 L228.8,1176.4 L230.2,1175.1 L231.6,1173.8 L233.1,1172.5 L234.6,1171.3 L236.1,1170.1 L237.7,1169.0 L239.4,1167.9 L241.0,1166.9 L242.7,1165.9 L244.5,1165.0 L246.2,1164.1 L248.0,1163.3 L249.8,1162.5 L251.7,1161.8 L253.5,1161.1 L255.4,1160.5 L257.3,1159.9 L259.2,1159.4 L261.1,1159.0 L263.0,1158.6 L265.0,1158.3 L266.9,1158.0 L268.9,1157.8 L270.8,1157.7 L272.8,1157.6 L274.7,1157.6 L276.7,1157.6 L278.6,1157.7 L280.5,1157.9 L282.4,1158.2 L284.3,1158.5 L286.2,1158.8 L288.1,1159.3 L289.9,1159.8 L291.8,1160.3 L293.6,1160.9 L295.4,1161.6 L297.2,1162.3 L299.0,1163.1 L300.8,1163.9 L302.5,1164.8 L304.3,1165.8 L306.0,1166.7 L307.7,1167.8 L309.3,1168.8 L311.0,1170.0 L312.6,1171.1 L314.2,1172.3 L315.8,1173.6 L317.3,1174.9 L318.9,1176.2 L320.4,1177.5 L321.8,1178.9 L323.3,1180.4 L324.7,1181.8 L326.1,1183.3 L327.5,1184.9 L328.8,1186.4 L330.1,1188.0 L331.4,1189.6 L332.6,1191.2 L333.8,1192.9 L335.0,1194.6 L336.1,1196.3 L337.2,1198.0 L338.3,1199.8 L339.3,1201.5 L340.3,1203.3 L341.3,1205.1 L342.2,1206.9 L343.1,1208.7 L343.9,1210.6 L344.8,1212.4 L345.5,1214.3 L346.3,1216.2 L347.0,1218.1 L347.7,1220.0 L348.3,1221.9 L349.0,1223.8 L349.6,1225.7 L350.1,1227.7 L350.7,1229.6 L351.2,1231.6 L351.6,1233.6 L352.1,1235.6 L352.5,1237.6 L352.9,1239.6 L353.3,1241.6 L353.6,1243.6 L354.0,1245.6 L354.3,1247.7 L354.5,1249.7 L354.8,1251.8 L355.0,1253.8 L355.2,1255.9 L355.4,1257.9 L355.6,1260.0 L355.7,1262.1 L355.9,1264.1 L356.0,1266.2 L356.1,1268.3 L356.2,1270.4 L356.2,1272.4 L356.2,1274.5 L356.2,1276.6 L356.2,1278.7 L356.2,1280.7 L356.1,1282.8 L356.0,1284.8 L355.9,1286.9 L355.7,1288.9 L355.5,1290.9 L355.3,1293.0 L355.0,1295.0 L354.8,1297.0 L354.4,1298.9 L354.1,1300.9 L353.7,1302.8 L353.2,1304.7 L352.7,1306.6 L352.2,1308.5 L351.7,1310.4 L351.1,1312.2 L350.4,1314.0 L349.7,1315.8 L349.0,1317.6 L348.2,1319.3 L347.3,1321.0 L346.4,1322.7 L345.5,1324.4 L344.5,1326.0 L343.4,1327.6 L342.3,1329.1 L341.2,1330.6 L340.0,1332.1 L338.7,1333.5 L337.4,1334.9 L336.0,1336.3 L334.6,1337.6 L333.2,1338.9 L331.7,1340.2 L330.1,1341.4 L328.6,1342.6 L326.9,1343.7 L325.3,1344.8 L323.6,1345.9 L321.9,1346.9 L320.1,1347.8 L318.3,1348.8 L316.5,1349.6 L314.7,1350.5 L312.8,1351.3 L310.9,1352.0 L309.0,1352.7 L307.1,1353.4 L305.1,1354.0 L303.1,1354.5 L301.2,1355.1 L299.2,1355.5 L297.1,1355.9 L295.1,1356.3 L293.1,1356.6 L291.0,1356.9 L289.0,1357.1 L286.9,1357.2 L284.9,1357.4 L282.8,1357.4 L280.8,1357.4 L278.7,1357.4 L276.7,1357.3 L274.6,1357.1 L272.6,1356.9 L270.6,1356.6 L268.5,1356.3 L266.5,1355.9 L264.5,1355.4 L262.6,1355.0 L260.6,1354.4 L258.7,1353.8 L256.7,1353.2 L254.8,1352.5 L252.9,1351.7 L251.0,1350.9 L249.2,1350.1 L247.4,1349.2 L245.6,1348.2 L243.8,1347.3 L242.0,1346.2 L240.3,1345.2 L238.6,1344.1 L237.0,1342.9 L235.3,1341.7 L233.7,1340.5 L232.2,1339.3 L230.6,1338.0 L229.1,1336.6 L227.7,1335.3 L226.3,1333.9 L224.9,1332.4 L223.6,1331.0 L222.3,1329.5 L221.0,1328.0 L219.8,1326.4 L218.6,1324.9 L217.5,1323.3 L216.4,1321.7 L215.4,1320.0 L214.5,1318.3 L213.5,1316.7 L212.7,1315.0 L211.8,1313.2 L211.1,1311.5 L210.4,1309.7 L209.7,1307.9 L209.0,1306.1 L208.5,1304.3 L207.9,1302.5 L207.4,1300.6 L206.9,1298.7 L206.5,1296.8 L206.1,1294.9 L205.7,1293.0 L205.4,1291.1 L205.1,1289.1 L204.8,1287.1 L204.5,1285.2 L204.3,1283.2 L204.1,1281.1 L203.9,1279.1 L203.8,1277.1 L203.6,1275.0 L203.5,1273.0 L203.4,1270.9 Z" fill="none" stroke="#1f77b4" stroke-width="2.6" stroke-linejoin="round"/>
<ellipse cx="226.0" cy="1224.0" rx="24.0" ry="24.5" fill="none" stroke="#1f77b4" stroke-width="2.6"/>
<path d="M206.1,1255.3 L206.1,1257.2 L206.3,1259.2 L206.5,1261.1 L206.8,1263.0 L207.1,1264.9 L207.6,1266.8 L208.1,1268.7 L208.6,1270.6 L209.3,1272.5 L209.9,1274.3 L210.7,1276.1 L211.5,1277.9 L212.4,1279.7 L213.3,1281.5 L214.3,1283.2 L215.3,1284.9 L216.4,1286.6 L217.6,1288.2 L218.8,1289.9 L220.0,1291.4 L221.3,1293.0 L222.7,1294.5 L224.0,1296.0 L225.5,1297.5 L226.9,1298.9 L228.4,1300.3 L230.0,1301.6 L231.6,1302.9 L233.2,1304.2 L234.8,1305.4 L236.5,1306.6 L238.2,1307.7 L240.0,1308.8 L241.8,1309.8 L243.6,1310.8 L245.4,1311.7 L247.2,1312.6 L249.1,1313.4 L251.0,1314.1 L252.9,1314.8 L254.9,1315.5 L256.8,1316.1 L258.8,1316.6 L260.8,1317.1 L262.8,1317.5 L264.8,1317.8 L266.8,1318.1 L268.8,1318.3 L270.8,1318.4 L272.8,1318.4 L274.9,1318.4 L276.9,1318.4 L279.0,1318.2 L281.0,1318.0 L283.0,1317.8 L285.1,1317.4 L287.1,1317.0 L289.1,1316.6 L291.1,1316.1 L293.1,1315.5 L295.1,1314.9 L297.0,1314.2 L299.0,1313.5 L300.9,1312.7 L302.8,1311.9 L304.7,1311.0 L306.6,1310.1 L308.4,1309.1 L310.2,1308.1 L312.0,1307.0 L313.8,1305.9 L315.5,1304.7 L317.2,1303.5 L318.8,1302.3 L320.4,1301.0 L322.0,1299.7 L323.6,1298.4 L325.1,1297.0 L326.5,1295.6 L327.9,1294.2 L329.3,1292.7 L330.6,1291.2 L331.9,1289.7 L333.1,1288.1 L334.3,1286.5 L335.4,1284.9 L336.4,1283.3 L337.4,1281.6 L338.4,1280.0 L339.3,1278.3 L340.1,1276.5 L340.8,1274.8 L341.5,1273.1 L342.1,1271.3 L342.7,1269.5 L343.1,1267.8 L343.5,1266.0 L343.9,1264.2 L344.1,1262.3 L344.3,1260.5 L344.4,1258.7 L344.4,1256.9 L344.3,1255.0 L344.2,1253.2 L344.0,1251.4 L343.7,1249.5 L343.4,1247.7 L343.0,1245.9 L342.5,1244.0 L342.0,1242.2 L341.4,1240.4 L340.7,1238.6 L340.0,1236.8 L339.2,1235.0 L338.3,1233.3 L337.4,1231.5 L336.5,1229.8 L335.5,1228.1 L334.4,1226.4 L333.3,1224.7 L332.1,1223.0 L330.9,1221.4 L329.7,1219.8 L328.4,1218.2 L327.0,1216.6 L325.7,1215.1 L324.2,1213.5 L322.8,1212.1 L321.3,1210.6 L319.7,1209.2 L318.2,1207.8 L316.6,1206.5 L314.9,1205.2 L313.3,1203.9 L311.6,1202.7 L309.8,1201.5 L308.1,1200.3 L306.3,1199.2 L304.5,1198.2 L302.7,1197.1 L300.8,1196.2 L299.0,1195.3 L297.1,1194.4 L295.2,1193.6 L293.3,1192.8 L291.4,1192.1 L289.4,1191.5 L287.5,1190.9 L285.6,1190.3 L283.6,1189.8 L281.6,1189.4 L279.6,1189.1 L277.7,1188.8 L275.7,1188.5 L273.7,1188.4 L271.7,1188.3 L269.8,1188.2 L267.8,1188.3 L265.8,1188.4 L263.9,1188.6 L261.9,1188.8 L260.0,1189.2 L258.0,1189.6 L256.1,1190.1 L254.2,1190.6 L252.3,1191.3 L250.5,1192.0 L248.6,1192.7 L246.8,1193.5 L245.0,1194.4 L243.2,1195.4 L241.4,1196.4 L239.7,1197.5 L238.0,1198.6 L236.3,1199.8 L234.6,1201.0 L233.0,1202.3 L231.4,1203.6 L229.8,1205.0 L228.3,1206.4 L226.8,1207.9 L225.4,1209.4 L224.0,1210.9 L222.6,1212.5 L221.3,1214.1 L220.0,1215.8 L218.8,1217.5 L217.6,1219.2 L216.5,1221.0 L215.4,1222.7 L214.4,1224.5 L213.4,1226.4 L212.5,1228.2 L211.6,1230.1 L210.8,1231.9 L210.0,1233.8 L209.3,1235.8 L208.7,1237.7 L208.1,1239.6 L207.6,1241.6 L207.2,1243.5 L206.8,1245.5 L206.5,1247.4 L206.3,1249.4 L206.1,1251.3 L206.1,1253.3 L206.1,1255.3 Z" fill="none" stroke="#1f77b4" stroke-width="2.6" stroke-linejoin="round"/>
<path d="M265.4,1256.9 L264.9,1254.7 L264.7,1252.5 L264.6,1250.4 L264.6,1248.3 L264.8,1246.3 L265.2,1244.3 L265.6,1242.3 L266.3,1240.4 L267.0,1238.6 L267.9,1236.8 L268.9,1235.1 L270.0,1233.5 L271.2,1231.9 L272.5,1230.3 L273.9,1228.9 L275.4,1227.5 L276.9,1226.1 L278.6,1224.9 L280.3,1223.7 L282.1,1222.6 L283.9,1221.6 L285.8,1220.6 L287.7,1219.8 L289.7,1219.0 L291.7,1218.3 L293.7,1217.7 L295.8,1217.2 L297.9,1216.8 L299.9,1216.5 L302.0,1216.2 L304.1,1216.1 L306.2,1216.1 L308.3,1216.1 L310.3,1216.3 L312.4,1216.6 L314.4,1217.0 L316.4,1217.5 L318.3,1218.1 L320.2,1218.8 L322.0,1219.7 L323.8,1220.6 L325.5,1221.7 L327.1,1222.8 L328.7,1224.1 L330.3,1225.4 L331.7,1226.8 L333.1,1228.3 L334.5,1229.9 L335.7,1231.5 L336.9,1233.2 L338.0,1235.0 L339.1,1236.8 L340.0,1238.6 L340.9,1240.5 L341.7,1242.4 L342.4,1244.3 L343.0,1246.3 L343.6,1248.2 L344.0,1250.2 L344.4,1252.2 L344.7,1254.1 L344.8,1256.1 L344.9,1258.0 L344.9,1260.0 L344.8,1261.9 L344.5,1263.7 L344.2,1265.5 L343.8,1267.3 L343.2,1269.1 L342.6,1270.8 L341.9,1272.4 L341.0,1274.0 L340.1,1275.6 L339.1,1277.2 L338.1,1278.7 L336.9,1280.2 L335.7,1281.6 L334.4,1283.0 L333.0,1284.4 L331.6,1285.8 L330.1,1287.1 L328.6,1288.5 L327.0,1289.7 L325.4,1291.0 L323.7,1292.2 L322.0,1293.5 L320.3,1294.7 L318.5,1295.8 L316.7,1297.0 L314.8,1298.2 L313.0,1299.3 L311.1,1300.4 L309.2,1301.5 L307.3,1302.6 L305.4,1303.7 L303.5,1304.8 L301.6,1305.9 L299.6,1306.9 L297.7,1308.0 L295.8,1309.0 L294.0,1310.1 L292.1,1311.1 L290.3,1312.2 L288.4,1313.3 L286.7,1314.3 L284.9,1315.4 L283.2,1316.4 L281.5,1317.5 L279.9,1318.6 L278.3,1319.7 L276.7,1320.8 L275.2,1321.9 L273.8,1323.0 L272.5,1324.1 L271.1,1325.3 L269.9,1326.4 L268.8,1327.6 L267.7,1328.8 L266.7,1330.0 L265.7,1331.3 L264.9,1332.5" fill="none" stroke="#1f77b4" stroke-width="2.6" stroke-linejoin="round"/>
<path d="M351.1,1255.2 L350.8,1257.1 L350.4,1258.9 L350.0,1260.8 L349.5,1262.7 L349.0,1264.6 L348.5,1266.5 L348.0,1268.4 L347.4,1270.3 L346.8,1272.3 L346.2,1274.2 L345.5,1276.1 L344.8,1278.1 L344.1,1280.0 L343.3,1282.0 L342.6,1283.9 L341.7,1285.8 L340.9,1287.7 L340.0,1289.7 L339.1,1291.6 L338.2,1293.4 L337.2,1295.3 L336.2,1297.2 L335.2,1299.0 L334.1,1300.8 L333.0,1302.6 L331.9,1304.4 L330.7,1306.2 L329.6,1307.9 L328.3,1309.6 L327.1,1311.3 L325.8,1312.9 L324.5,1314.5 L323.2,1316.1 L321.8,1317.7 L320.5,1319.2 L319.0,1320.6 L317.6,1322.0 L316.1,1323.4 L314.6,1324.8 L313.1,1326.1 L311.5,1327.3 L309.9,1328.5 L308.3,1329.6 L306.7,1330.7 L305.0,1331.8 L303.3,1332.7 L301.6,1333.6 L299.8,1334.5 L298.0,1335.3 L296.2,1336.0 L294.4,1336.7 L292.5,1337.3 L290.6,1337.9 L288.7,1338.3 L286.7,1338.7 L284.7,1339.1 L282.7,1339.3 L280.7,1339.5 L278.6,1339.6 L276.6,1339.6 L274.4,1339.5 L272.3,1339.4 L270.1,1339.1 L267.9,1338.8 L265.7,1338.4" fill="none" stroke="#1f77b4" stroke-width="2.6" stroke-linejoin="round"/>
<path d="M269.3,1240.7 L266.6,1241.2 L264.1,1241.9 L261.8,1242.7 L259.6,1243.7 L257.6,1244.7 L255.8,1245.8 L254.2,1247.0 L252.7,1248.3 L251.3,1249.6 L250.2,1251.1 L249.1,1252.6 L248.3,1254.2 L247.5,1255.8 L246.9,1257.5 L246.5,1259.2 L246.1,1261.0 L245.9,1262.8 L245.8,1264.6 L245.9,1266.4 L246.0,1268.3 L246.3,1270.1 L246.7,1272.0 L247.2,1273.9 L247.8,1275.7 L248.5,1277.6 L249.3,1279.4 L250.2,1281.2 L251.2,1283.0 L252.3,1284.7 L253.4,1286.4 L254.7,1288.1 L256.0,1289.6 L257.4,1291.2 L258.8,1292.6 L260.3,1294.0 L261.9,1295.3 L263.6,1296.5 L265.3,1297.7 L267.0,1298.8 L268.8,1299.8 L270.6,1300.7 L272.5,1301.6 L274.5,1302.3 L276.4,1303.0 L278.4,1303.6 L280.4,1304.1 L282.4,1304.6 L284.5,1304.9 L286.5,1305.2 L288.6,1305.4 L290.7,1305.5 L292.7,1305.5 L294.8,1305.4 L296.9,1305.3 L298.9,1305.0 L301.0,1304.7 L303.0,1304.2 L305.0,1303.7 L307.0,1303.1 L309.0,1302.4 L310.9,1301.6 L312.8,1300.7 L314.7,1299.7 L316.5,1298.6 L318.2,1297.5 L320.0,1296.2 L321.6,1294.8 L323.2,1293.3 L324.8,1291.8" fill="none" stroke="#1f77b4" stroke-width="2.6" stroke-linejoin="round"/>
<path d="M268.4,1242.5 L270.6,1243.3 L272.7,1244.2 L274.6,1245.2 L276.4,1246.2 L278.2,1247.4 L279.8,1248.7 L281.3,1250.0 L282.7,1251.4 L284.0,1252.9 L285.2,1254.4 L286.2,1256.1 L287.2,1257.7 L288.1,1259.5 L289.0,1261.3 L289.7,1263.1 L290.3,1265.0 L290.9,1266.9 L291.3,1268.9 L291.7,1270.9 L292.1,1273.0 L292.3,1275.0 L292.5,1277.1 L292.6,1279.2 L292.7,1281.4 L292.6,1283.5 L292.6,1285.7 L292.4,1287.8 L292.3,1290.0 L292.0,1292.1 L291.7,1294.3 L291.4,1296.4 L291.0,1298.6 L290.6,1300.7 L290.2,1302.8 L289.7,1304.8 L289.2,1306.9 L288.6,1308.9 L288.0,1310.9 L287.4,1312.8 L286.8,1314.7 L286.2,1316.5 L285.5,1318.3 L284.8,1320.0 L284.2,1321.7" fill="none" stroke="#1f77b4" stroke-width="2.6" stroke-linejoin="round"/>
<path d="M227.7,1336.3 L229.7,1336.4 L231.7,1336.3 L233.7,1335.9 L235.8,1335.4 L237.8,1334.8 L239.9,1334.1 L241.9,1333.4 L244.0,1332.6 L246.0,1331.9 L248.0,1331.2 L250.1,1330.7 L252.1,1330.3 L254.1,1330.0 L256.0,1330.0 L258.0,1330.2 L259.9,1330.7 L261.7,1331.6 L263.6,1332.8 L265.4,1334.4" fill="none" stroke="#1f77b4" stroke-width="2.6" stroke-linejoin="round"/>
<circle cx="375.2" cy="248.0" r="38.7" fill="none" stroke="#000" stroke-width="3.0" stroke-dasharray="11.8 5.6"/>
<circle cx="343.1" cy="248.0" r="38.7" fill="none" stroke="#000" stroke-width="3.0" stroke-dasharray="11.8 5.6"/>
<circle cx="375.2" cy="248.0" r="6.6" fill="#ff0000"/>
<circle cx="265.7" cy="584.5" r="38.7" fill="none" stroke="#000" stroke-width="3.0" stroke-dasharray="11.8 5.6"/>
<circle cx="265.7" cy="507.0" r="38.7" fill="none" stroke="#000" stroke-width="3.0" stroke-dasharray="11.8 5.6"/>
<circle cx="265.7" cy="584.5" r="6.6" fill="#ff0000"/>
<circle cx="375.2" cy="920.7" r="38.7" fill="none" stroke="#000" stroke-width="3.0" stroke-dasharray="11.8 5.6"/>
<circle cx="188.3" cy="920.7" r="38.7" fill="none" stroke="#000" stroke-width="3.0" stroke-dasharray="11.8 5.6"/>
<circle cx="375.2" cy="920.7" r="6.6" fill="#ff0000"/>
<circle cx="265.7" cy="1256.7" r="38.7" fill="none" stroke="#000" stroke-width="3.0" stroke-dasharray="11.8 5.6"/>
<circle cx="265.7" cy="1334.1" r="38.7" fill="none" stroke="#000" stroke-width="3.0" stroke-dasharray="11.8 5.6"/>
<circle cx="265.7" cy="1256.7" r="6.6" fill="#ff0000"/>
<rect x="60.2" y="4" width="1331.4" height="57.7" rx="4" ry="4" fill="#fff" fill-opacity="0.8" stroke="#d6d6d6" stroke-width="1.5"/>
<circle cx="102.6" cy="33" r="10" fill="#ff0000"/>
<text x="160.5" y="42.2" font-size="31.4" text-anchor="start">initial</text>
<polygon points="337.4,24.2 342.0,28.9 346.6,24.2 351.2,28.9 346.6,33.5 351.2,38.1 346.6,42.8 342.0,38.1 337.4,42.8 332.8,38.1 337.4,33.5 332.8,28.9" fill="#ff0000" stroke="#ff0000" stroke-width="1.7" stroke-linejoin="round"/>
<text x="400.0" y="42.2" font-size="31.4" text-anchor="start">target</text>
<line x1="557.8" y1="30.8" x2="614.5" y2="30.8" stroke="#000" stroke-width="5.8" stroke-dasharray="5.8 10.9"/>
<text x="647.5" y="42.0" font-size="31.4" text-anchor="start">controlled</text>
<line x1="867" y1="30.7" x2="924" y2="30.7" stroke="#808080" stroke-width="6" stroke-dasharray="6 10.7"/>
<text x="956.5" y="42.0" font-size="31.4" text-anchor="start">uncontrolled</text>
<line x1="1213.5" y1="30.6" x2="1283.7" y2="30.6" stroke="#1f77b4" stroke-width="6"/>
<text x="1306.5" y="41.8" font-size="31.4" text-anchor="start">orbit</text>
</svg>
</body></html>
